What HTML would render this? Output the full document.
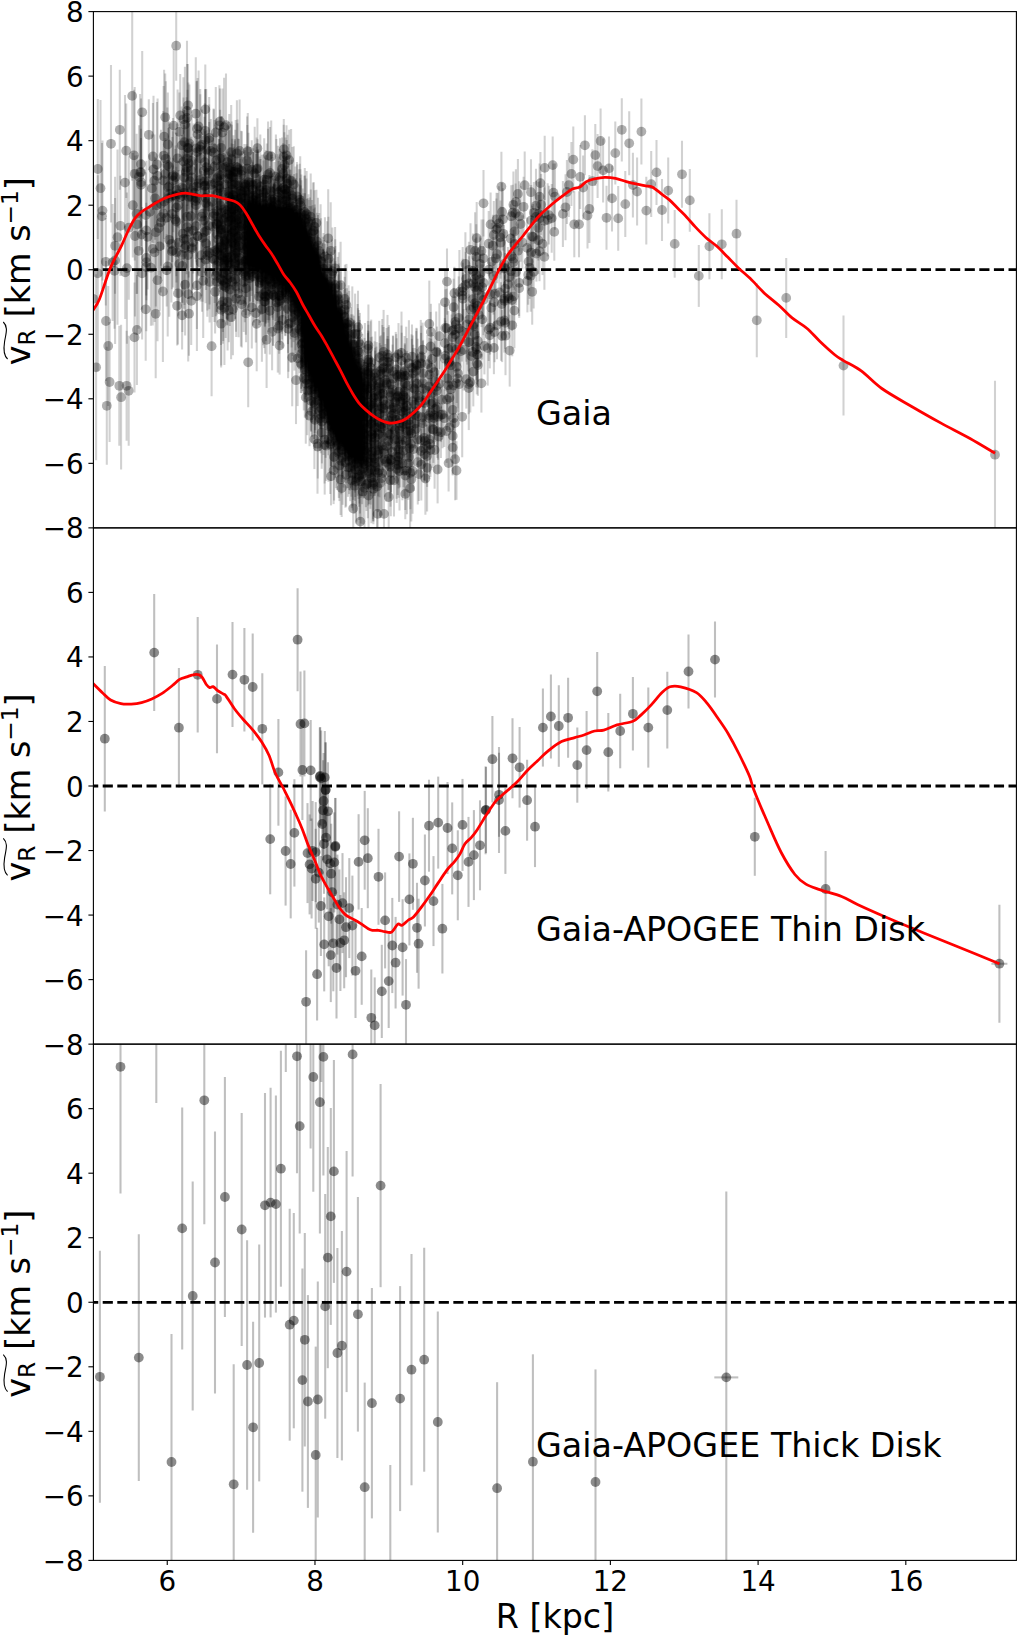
<!DOCTYPE html>
<html><head><meta charset="utf-8"><style>html,body{margin:0;padding:0;background:#fff;width:1020px;height:1637px;overflow:hidden}svg{display:block}</style></head>
<body><svg width="1020" height="1637" viewBox="0 0 1020 1637"><defs><clipPath id="c0"><rect x="93.4" y="11.60" width="923" height="516.27"/></clipPath><clipPath id="c1"><rect x="93.4" y="527.87" width="923" height="516.27"/></clipPath><clipPath id="c2"><rect x="93.4" y="1044.13" width="923" height="516.27"/></clipPath></defs><rect width="1020" height="1637" fill="#fff"/>
<filter id="bl" x="-10%" y="-10%" width="120%" height="120%"><feGaussianBlur stdDeviation="2.5"/></filter><path d="M245 199 L259 203 L271 205 L282 205 L289 207 L299 213 L303 219 L311 239 L322 265 L334 293 L343 317 L348 333 L353 352 L365 379 L365 463 L353 461 L348 455 L343 448 L334 437 L322 406 L311 381 L303 355 L299 317 L289 295 L282 285 L271 278 L259 271 L245 268Z" fill="#000" filter="url(#bl)"/><g clip-path="url(#c0)"><g stroke="#000" stroke-opacity="0.18" stroke-width="2.08" fill="none"><path d="M477.4 278.6V333.4"/><path d="M345.4 341.4V434.7"/><path d="M399.4 392.5V468.7"/><path d="M306.5 280.8V355.6"/><path d="M326.9 331V394.9"/><path d="M308.9 210.2V289.7"/><path d="M181.7 106.6V184"/><path d="M374.6 341.3V413.5"/><path d="M342.8 323V407.7"/><path d="M358.2 335.6V407.3"/><path d="M227.6 253.3V350.6"/><path d="M351.2 385.8V477.4"/><path d="M252.9 152V227.2"/><path d="M490.2 262.2V326.1"/><path d="M462.2 376.3V457.3"/><path d="M260.5 240.1V314.9"/><path d="M371.9 394.2V474.3"/><path d="M530.7 239.6V311.7"/><path d="M282.9 197.3V297.5"/><path d="M338.8 395.7V456.5"/><path d="M302.7 188.5V287.1"/><path d="M273.6 178.6V234.7"/><path d="M344.8 360.8V420.4"/><path d="M359.1 433.8V520"/><path d="M177.6 89.6V227.1"/><path d="M158.8 181.2V274.9"/><path d="M400.7 362.2V441"/><path d="M235.3 129.7V213.7"/><path d="M279.2 184.8V264.7"/><path d="M225.6 213.1V292.5"/><path d="M272.2 190.8V259.2"/><path d="M268.5 257.8V332.1"/><path d="M209.2 122V219.2"/><path d="M388.3 411.2V470.8"/><path d="M240.6 164.2V232.8"/><path d="M233.4 135.3V219.7"/><path d="M401.7 332.7V421.3"/><path d="M339.9 345.8V431.4"/><path d="M253.3 148.3V221.8"/><path d="M422.6 322.6V376.7"/><path d="M352.3 286.4V382.1"/><path d="M304.4 253.7V340.7"/><path d="M265.9 176.3V241"/><path d="M323.5 373.3V455"/><path d="M338.5 274.4V351.3"/><path d="M335.1 305.6V400.6"/><path d="M367.9 380V453.4"/><path d="M263.4 219.4V296.4"/><path d="M311.1 334.1V400.1"/><path d="M371.3 382.5V436.6"/><path d="M269.8 228.2V295.5"/><path d="M394.4 399.4V479.5"/><path d="M263.3 185.7V251"/><path d="M111 65.1V222.5"/><path d="M426.9 408.9V482.4"/><path d="M462 300.7V361.6"/><path d="M265.7 206V306.3"/><path d="M348.6 285.3V364.7"/><path d="M455.2 296.1V373"/><path d="M221.6 221.2V290"/><path d="M507.9 247.1V321.4"/><path d="M422.8 341.1V425.2"/><path d="M141 138.1V231.6"/><path d="M342.9 372.3V466.3"/><path d="M329.9 365.2V435"/><path d="M187 40.7V181.2"/><path d="M399.3 393.2V452.9"/><path d="M502.9 188.2V250.4"/><path d="M351.8 452.8V508.2"/><path d="M295.1 224.4V321"/><path d="M360.1 378.4V442.3"/><path d="M336.5 343.8V411.6"/><path d="M240.3 158.7V228.7"/><path d="M291.2 269.7V330.9"/><path d="M360.8 371.3V429.2"/><path d="M387.6 336V387.8"/><path d="M273.5 183.5V244.3"/><path d="M320.7 376.6V453.3"/><path d="M378.6 359.8V414.4"/><path d="M334.3 340.9V403.8"/><path d="M375.8 423V510.7"/><path d="M306 294.1V393.4"/><path d="M462.7 246.9V328.9"/><path d="M322.9 295V393.1"/><path d="M195.8 57.2V170.2"/><path d="M314.6 279.1V373.6"/><path d="M237.5 119.4V226.1"/><path d="M420.7 403.3V476.9"/><path d="M365.1 415.9V484.9"/><path d="M327.8 302.5V386.8"/><path d="M299.2 184.4V283.4"/><path d="M462.7 258.7V332.3"/><path d="M309.5 385.3V446.2"/><path d="M255.9 168V268.6"/><path d="M248.7 235.7V315.4"/><path d="M413.4 407.3V490.9"/><path d="M372.6 366.3V440.3"/><path d="M226 73.6V176.7"/><path d="M394 444.1V516.5"/><path d="M292.6 241V333.8"/><path d="M275 178.9V263.5"/><path d="M318 197.7V293"/><path d="M262.5 234.2V321.7"/><path d="M186.6 97.2V238.5"/><path d="M244.2 185.7V287"/><path d="M417.8 420V504.5"/><path d="M473.3 336.8V406.4"/><path d="M304.8 286.5V371.9"/><path d="M349.3 431.4V490"/><path d="M253.2 227.5V325.6"/><path d="M371.1 387.2V461.4"/><path d="M381.4 446.7V509.7"/><path d="M398.6 410.6V488.4"/><path d="M336.5 387.4V446.1"/><path d="M483.5 170.1V236.5"/><path d="M236.5 186.5V254.1"/><path d="M351 342.1V401"/><path d="M292.3 201.3V267.2"/><path d="M318.9 336.5V398"/><path d="M234.4 186.5V273.7"/><path d="M539.5 163.5V229.8"/><path d="M321.6 330.2V417.3"/><path d="M328 357.9V444.1"/><path d="M337 342V440.8"/><path d="M319.2 301.2V391.9"/><path d="M364.5 445.8V529.9"/><path d="M404 445.4V496.3"/><path d="M335.5 321V417.8"/><path d="M309.2 325.7V400.9"/><path d="M324.6 395.7V483.5"/><path d="M482.3 250V324.1"/><path d="M326.3 273.2V341"/><path d="M295.7 179.8V240.4"/><path d="M500.6 206.6V278.7"/><path d="M368.4 324.7V399.5"/><path d="M286.2 157V230.5"/><path d="M329.2 349.7V422.7"/><path d="M273.2 245.1V345.8"/><path d="M300.2 156.3V248.4"/><path d="M338.8 252.2V346.7"/><path d="M380.6 356V431.8"/><path d="M183.9 169V308.7"/><path d="M308.3 230.2V311.5"/><path d="M246.4 171.7V263.6"/><path d="M309.2 291.3V364.6"/><path d="M339 270.8V363.9"/><path d="M271 170.5V228.1"/><path d="M240 156.8V258.8"/><path d="M481.5 264.4V327.1"/><path d="M328.7 366.4V444.2"/><path d="M239.4 181.7V271.2"/><path d="M299.5 218.2V274.5"/><path d="M256 196.1V293"/><path d="M364.3 404.2V463.8"/><path d="M357.4 395.7V463.8"/><path d="M395.6 372.2V431.7"/><path d="M307.2 268.8V356.7"/><path d="M351.3 379.3V471.3"/><path d="M324.3 260.8V360.8"/><path d="M200.3 134.4V225.4"/><path d="M368.1 330.4V417.9"/><path d="M232.3 138.8V239.8"/><path d="M385.2 369.2V440.2"/><path d="M324 298.5V383.2"/><path d="M242.4 157.1V265"/><path d="M271.4 175.9V265.2"/><path d="M221.7 188.6V277.8"/><path d="M328.4 347.9V448"/><path d="M207.3 193.8V316.7"/><path d="M184.5 191.3V305.1"/><path d="M299.1 197.9V284.9"/><path d="M182.7 164.4V302.8"/><path d="M339.8 294.1V361.3"/><path d="M240.4 148.6V233.4"/><path d="M407 376.1V435.6"/><path d="M295 253.3V353.1"/><path d="M266.2 157.8V221.9"/><path d="M522.3 215.2V269.4"/><path d="M363.4 406.1V483.7"/><path d="M498.9 186.3V260.6"/><path d="M342.6 317.2V388.2"/><path d="M257.6 186.7V278.7"/><path d="M220.7 244.9V313.2"/><path d="M172.3 165.4V262.1"/><path d="M320.4 364.9V428"/><path d="M370.5 352.3V436.9"/><path d="M247.8 113.1V189.3"/><path d="M290.3 179.2V268.1"/><path d="M388.4 427.9V489.8"/><path d="M261.9 211.7V286.7"/><path d="M184.1 125.1V260.5"/><path d="M312.9 277.1V340.6"/><path d="M453.2 349.4V421.7"/><path d="M412.7 365.1V437.2"/><path d="M346.4 363.1V448"/><path d="M355.2 421.5V497"/><path d="M382.3 325V412.8"/><path d="M424.2 395.5V480"/><path d="M347.9 437.9V496.8"/><path d="M236.6 172.6V238.9"/><path d="M429 357.6V415"/><path d="M524.7 151.6V218.7"/><path d="M481.4 354V412.6"/><path d="M509.7 314.6V386.6"/><path d="M302.7 307V379.5"/><path d="M337 348.4V414.6"/><path d="M306.6 171V257.3"/><path d="M243.9 151.8V215.6"/><path d="M334.5 249.9V346.4"/><path d="M239.5 220.5V300.8"/><path d="M417.7 378.6V453.4"/><path d="M248.7 151.9V237.9"/><path d="M189.9 123.2V239.2"/><path d="M313.6 208.7V295.3"/><path d="M219.2 127.8V234.7"/><path d="M360.9 414.8V497.9"/><path d="M436.2 311.5V391.6"/><path d="M299.7 163.8V235.8"/><path d="M259.8 243V323"/><path d="M290.4 250.6V311.1"/><path d="M205.2 89V172.7"/><path d="M380 447.8V518.2"/><path d="M330.3 257.7V344.2"/><path d="M376.4 346.6V435.2"/><path d="M191.6 142.6V251.5"/><path d="M415.8 399.7V458.4"/><path d="M476.8 332V394.4"/><path d="M314.9 388.7V451.1"/><path d="M182.4 200.1V332"/><path d="M213.6 108.5V188.4"/><path d="M289.1 144.1V238"/><path d="M210.9 149.1V220.4"/><path d="M493.9 321.6V374.2"/><path d="M381.4 382.9V465.5"/><path d="M468.7 353.9V414.2"/><path d="M477.8 300.5V381.5"/><path d="M468.9 256.3V310.4"/><path d="M209.6 241.1V322.4"/><path d="M352.3 330.1V388.9"/><path d="M265.9 202.6V285.2"/><path d="M214.6 120.1V212.9"/><path d="M398.5 323.1V385.5"/><path d="M446.7 288.7V367.5"/><path d="M178.3 161.1V249.5"/><path d="M325 243.7V322.8"/><path d="M281 183.7V285.6"/><path d="M363.2 364.1V439"/><path d="M250.3 147.1V248.5"/><path d="M405.3 441.2V510"/><path d="M265.3 177.7V268.8"/><path d="M474.9 266.8V339.5"/><path d="M407.6 395.2V467.6"/><path d="M370.8 386.3V476.6"/><path d="M300.8 185.6V241.7"/><path d="M146.5 219.8V304.7"/><path d="M145.8 172.6V257.5"/><path d="M379.5 426.2V497.3"/><path d="M238.8 198.5V293.3"/><path d="M484.4 317.6V374.4"/><path d="M277.5 154.3V218.6"/><path d="M427.4 363.2V418.6"/><path d="M240.2 153.6V251.7"/><path d="M208.6 141.8V220.6"/><path d="M359.5 328.3V422.9"/><path d="M258 150.2V237.1"/><path d="M274.5 161.9V236.3"/><path d="M374 363.9V432"/><path d="M515.6 183.6V243.2"/><path d="M323.6 249.1V315.4"/><path d="M286 237.9V325.6"/><path d="M309.5 235.9V313.3"/><path d="M474.8 238.8V319.4"/><path d="M319.4 255.9V351.1"/><path d="M249.7 231.1V291.3"/><path d="M357.2 340.2V412.4"/><path d="M349.2 290.9V353.7"/><path d="M256.9 215V301.2"/><path d="M434.1 384.4V446.2"/><path d="M382.2 319V392.5"/><path d="M234.9 138.9V230.5"/><path d="M272.8 204.1V277.8"/><path d="M422.2 382.5V451.8"/><path d="M311.6 253.8V335.5"/><path d="M511.9 269.3V330.9"/><path d="M404.8 344.5V421.9"/><path d="M457.4 348.4V408.3"/><path d="M303.8 345.6V410.4"/><path d="M227.5 152.2V267.5"/><path d="M331 447.1V505.4"/><path d="M296.7 198.8V292.1"/><path d="M425.1 374.4V426.1"/><path d="M221 265.4V344.9"/><path d="M331.2 360.6V428.8"/><path d="M384.8 421.7V496.7"/><path d="M427.1 424.2V511.4"/><path d="M466.1 247.5V310.1"/><path d="M330.7 255.4V353"/><path d="M409.6 416.6V479.5"/><path d="M306.3 238.7V333.9"/><path d="M279.9 261.2V340.4"/><path d="M324.7 395V494.6"/><path d="M322.8 287.8V350.4"/><path d="M442.6 380.7V448.3"/><path d="M348.8 343.3V398.5"/><path d="M176.3 166.8V276.3"/><path d="M285.5 206.9V298.9"/><path d="M173.7 49.2V201.9"/><path d="M255.2 170.6V274.4"/><path d="M351.1 314.3V394.7"/><path d="M523.6 176.8V236.7"/><path d="M493.5 236.9V314.6"/><path d="M265.1 250.9V313"/><path d="M283.7 124.7V188.4"/><path d="M269.9 166.3V259.2"/><path d="M354.7 320.7V386.7"/><path d="M365.9 423.6V507.2"/><path d="M405.4 358.7V437.1"/><path d="M218.4 168.1V275.3"/><path d="M244.9 180.2V278.6"/><path d="M370.4 357.9V452.1"/><path d="M531.2 217.8V287.4"/><path d="M233.3 163.2V228.3"/><path d="M277 273.4V331.3"/><path d="M221.1 172.2V286.1"/><path d="M217.1 174.8V275"/><path d="M241.8 197.5V255.5"/><path d="M391.1 427.1V492.2"/><path d="M197.3 162.2V235.1"/><path d="M298.5 247.5V337.9"/><path d="M410.3 403.8V457.6"/><path d="M360.4 396V473.4"/><path d="M286.7 140V217.1"/><path d="M383.4 385.1V446.9"/><path d="M501.4 151.8V221.3"/><path d="M219.6 218.6V291.8"/><path d="M271.2 120.4V192.6"/><path d="M180.2 137.3V256.7"/><path d="M544.4 187.4V254.4"/><path d="M311.9 347.3V436.8"/><path d="M244 209.8V288.4"/><path d="M328.2 189.2V287.4"/><path d="M241.9 234.2V299.5"/><path d="M325.3 354.2V416.2"/><path d="M324.6 270.1V361.8"/><path d="M298.1 273.7V348.6"/><path d="M335.3 245.9V324.3"/><path d="M358.8 322.5V395"/><path d="M514.5 204.9V258.1"/><path d="M300.1 178.3V267.3"/><path d="M472.6 318.3V385.8"/><path d="M320.6 204.2V303.6"/><path d="M179.3 218.2V309.6"/><path d="M303.6 206.5V263.3"/><path d="M386.5 352.6V412.9"/><path d="M308.7 329V389.6"/><path d="M410.4 436.4V509.2"/><path d="M222.8 198.8V316"/><path d="M544.4 224.1V289.8"/><path d="M203.9 181.8V259"/><path d="M298.7 169.3V265.1"/><path d="M187 64.1V171.8"/><path d="M304.9 215.3V275.2"/><path d="M247.1 116.6V204.9"/><path d="M363.9 382.1V449.1"/><path d="M404.1 372.4V442.5"/><path d="M362.1 423.5V496"/><path d="M336.1 290.3V363.2"/><path d="M364 359.9V414.6"/><path d="M97.8 175.3V371.3"/><path d="M341.9 299.2V354.2"/><path d="M188.6 160.7V233"/><path d="M261.4 247.9V312.7"/><path d="M297.3 236.9V307.9"/><path d="M429.3 280.6V367.2"/><path d="M415.2 381.3V448.1"/><path d="M474.8 250.6V323.7"/><path d="M317.9 245.8V307.9"/><path d="M227.4 212.5V303.2"/><path d="M273.3 186.8V275.3"/><path d="M304.9 322V403"/><path d="M403.2 366.1V441.4"/><path d="M286.7 154V238.7"/><path d="M280 184.7V252.1"/><path d="M339.8 407.8V463.1"/><path d="M258.1 206.6V287.3"/><path d="M239.4 223.8V291.9"/><path d="M321.1 288V386.2"/><path d="M416.9 349.2V418"/><path d="M217.2 186.4V282.7"/><path d="M458 331.6V415.1"/><path d="M431 374.4V433.4"/><path d="M244.9 154.8V225.6"/><path d="M308.7 317.5V376.2"/><path d="M340.9 363.6V424.3"/><path d="M343.1 316.6V399.3"/><path d="M347.5 359.9V444.4"/><path d="M252 170.4V255.3"/><path d="M345.1 353.2V432"/><path d="M489 241.9V297.4"/><path d="M283.7 165.3V266.5"/><path d="M185.8 179.5V311.4"/><path d="M321.8 275.6V373.4"/><path d="M324.9 300.1V399.5"/><path d="M338.4 390.7V453.2"/><path d="M357.9 308.2V393.3"/><path d="M318.8 334.6V425.3"/><path d="M142.2 51.1V173.6"/><path d="M367 367.3V422.6"/><path d="M273.9 230.4V298"/><path d="M319.5 282.3V357.7"/><path d="M366.9 350.4V427.4"/><path d="M228.4 180.8V262.5"/><path d="M222.4 88.4V176.8"/><path d="M309.4 205.9V284.9"/><path d="M353.8 315.7V373.6"/><path d="M301.3 318.6V389"/><path d="M263.8 213.8V276.2"/><path d="M430.6 311.9V381"/><path d="M302.3 218.1V304.1"/><path d="M539.5 221.2V281.2"/><path d="M370.9 357.5V419.1"/><path d="M306.2 228.4V324.1"/><path d="M339.4 430.1V501.1"/><path d="M316.9 256V350.4"/><path d="M285.5 137.6V241.5"/><path d="M356.9 369.2V452.9"/><path d="M476.6 318.3V380.3"/><path d="M286.1 231.1V295"/><path d="M332.1 387V467"/><path d="M351 306.9V395.8"/><path d="M228.1 196.3V274.8"/><path d="M294.9 252.9V335.5"/><path d="M136.6 133.8V293.9"/><path d="M332.8 293.2V384.6"/><path d="M292.8 278.7V337.1"/><path d="M314.7 345.6V433"/><path d="M418.4 360.7V434.5"/><path d="M397 369.8V448.7"/><path d="M369 442.8V504.1"/><path d="M303.6 280.7V341.9"/><path d="M256.5 185.6V293"/><path d="M444.8 303.9V382.4"/><path d="M160.9 151.8V292.5"/><path d="M270.8 204.2V298"/><path d="M220 88.5V154.6"/><path d="M346.4 263.9V345.9"/><path d="M386.4 408.5V483.9"/><path d="M225.2 208.7V280.3"/><path d="M345.5 346.8V426.5"/><path d="M479.9 236.6V291.1"/><path d="M445 270.9V333.7"/><path d="M135 155.5V316.5"/><path d="M335.1 369.1V427.9"/><path d="M520.6 186.2V261.7"/><path d="M335.1 289.3V368.6"/><path d="M343.6 375V451.8"/><path d="M115.1 176.8V344"/><path d="M281.1 235.9V307.5"/><path d="M289.5 228.1V306.2"/><path d="M403.7 383.7V441.3"/><path d="M267.9 246.8V312"/><path d="M358.5 406.9V498.9"/><path d="M254.1 216.5V322.4"/><path d="M471.2 319.9V392.1"/><path d="M226.7 174.8V254"/><path d="M275.2 208.4V294.1"/><path d="M334.6 387.1V472.1"/><path d="M182.1 281.2V349.4"/><path d="M183.5 97.6V225.4"/><path d="M230.6 214.3V314.6"/><path d="M248.6 169.1V251.6"/><path d="M329 280.2V374.2"/><path d="M378.5 401.2V467.4"/><path d="M233.1 192.9V271.8"/><path d="M146.3 202.8V331.2"/><path d="M152.9 103V209.9"/><path d="M237.5 123.2V211.8"/><path d="M283.9 149.6V252.6"/><path d="M227.9 230V319.5"/><path d="M264.9 173.5V250.6"/><path d="M362.7 459.2V524.3"/><path d="M293.2 249.7V312"/><path d="M532 205.7V267.2"/><path d="M268.4 238.3V334.6"/><path d="M288.9 194.5V263.1"/><path d="M257.6 139.3V197.6"/><path d="M256.2 149.7V246"/><path d="M262.9 212.4V271.4"/><path d="M339.2 330V398.7"/><path d="M146.4 160.7V300.2"/><path d="M238.2 138.6V232.2"/><path d="M220.1 109.8V207.4"/><path d="M259.6 175.4V260.6"/><path d="M282.4 258.6V322.7"/><path d="M272.4 156.9V254.5"/><path d="M321.9 379.6V463.4"/><path d="M312 380.4V442.6"/><path d="M468.4 312.8V371.3"/><path d="M321.3 356.9V429.3"/><path d="M273.7 228.7V290.7"/><path d="M248.5 187.2V284.7"/><path d="M288.5 276.1V371.7"/><path d="M196 148.6V261.7"/><path d="M246.1 284.7V342.2"/><path d="M470.5 223.2V276.5"/><path d="M196.1 164V288.2"/><path d="M334.2 270.1V338"/><path d="M412.7 335.4V401.1"/><path d="M222.5 207.2V289.1"/><path d="M337.7 307.6V399.4"/><path d="M367 391.5V479.5"/><path d="M429.9 414.4V473.5"/><path d="M305 193.2V276.6"/><path d="M185.1 234V335.4"/><path d="M155.8 157.9V306.4"/><path d="M231.7 193.3V273.8"/><path d="M413.1 344.7V431.1"/><path d="M306.2 275.9V374.9"/><path d="M294.7 219.6V294.7"/><path d="M283.2 217V283.9"/><path d="M219.4 144.5V206.3"/><path d="M343.9 348.4V403.7"/><path d="M332.3 347.1V428.9"/><path d="M320 386V451.1"/><path d="M359.9 367.1V426.3"/><path d="M294.4 295.5V370.6"/><path d="M306.1 240.2V305.1"/><path d="M354.7 411.3V484.4"/><path d="M314.8 207.5V304.5"/><path d="M300.3 197.2V265.6"/><path d="M279.9 204.3V305.8"/><path d="M126.9 192.5V343.8"/><path d="M391.7 390.7V463"/><path d="M438.7 399.6V473.4"/><path d="M512.7 184.8V240.6"/><path d="M483.3 219.6V297"/><path d="M366.5 414.2V492.3"/><path d="M245.8 242V334.7"/><path d="M245.5 148V221.8"/><path d="M397.7 426.5V495"/><path d="M214.4 197.4V322.1"/><path d="M465.6 251.7V318.4"/><path d="M355.5 345.9V421.7"/><path d="M266.8 211.1V281.4"/><path d="M346.9 424.8V488.2"/><path d="M273.8 181V239.5"/><path d="M532.2 258.8V324.7"/><path d="M132.2 11V180.8"/><path d="M353.5 322.3V412.9"/><path d="M291.6 247.1V347.5"/><path d="M386.4 422.3V501.8"/><path d="M272.1 227.7V307"/><path d="M469.2 294.2V344.7"/><path d="M256.7 146.7V221.2"/><path d="M218.7 227.1V295.9"/><path d="M154.6 182.7V322.1"/><path d="M268 128.8V220.2"/><path d="M354 319.7V382.8"/><path d="M262.6 187.9V280.9"/><path d="M338.8 404.9V497.9"/><path d="M398.7 432.2V497.8"/><path d="M313.9 365V439"/><path d="M371.4 432.9V523.2"/><path d="M175.5 132.6V221.6"/><path d="M268.6 159.4V241.9"/><path d="M244.8 221.3V322.3"/><path d="M462.8 272.8V324.5"/><path d="M405.9 368.9V452.5"/><path d="M444.3 389.3V447"/><path d="M345.1 400.3V457.3"/><path d="M459.1 355.8V412.6"/><path d="M353.2 373.5V432.2"/><path d="M248 209.2V310.7"/><path d="M169.1 121.6V211.7"/><path d="M301.5 300V388.4"/><path d="M157.5 219.2V341.2"/><path d="M375 347.7V424.6"/><path d="M264.9 265.5V327.1"/><path d="M178.2 160.5V228"/><path d="M297.6 241.5V301.5"/><path d="M340.1 306.8V393.4"/><path d="M231.6 143.6V224.8"/><path d="M448.9 330.9V394.5"/><path d="M301.5 336.5V393.2"/><path d="M355.8 351V428.7"/><path d="M335.2 239.2V337.1"/><path d="M539.5 181.3V255.4"/><path d="M366.4 340.8V423.2"/><path d="M207.4 191.4V310.4"/><path d="M351.3 391.7V473.9"/><path d="M284.2 229.5V315.6"/><path d="M228.8 125.7V223.4"/><path d="M329.5 320.4V413.1"/><path d="M188.2 211.3V298.7"/><path d="M381.3 380.6V433.1"/><path d="M328 280.5V365.6"/><path d="M303.3 193.3V287.4"/><path d="M274.5 175.9V262"/><path d="M397.9 352.6V439.1"/><path d="M456.5 441.2V499.8"/><path d="M252.7 162.2V243.6"/><path d="M347.9 298.5V387.1"/><path d="M282.1 251.7V333.7"/><path d="M276.4 139V239.3"/><path d="M528.2 244.8V304.7"/><path d="M228.4 175V237.2"/><path d="M145.7 257.8V360.8"/><path d="M410.6 417.3V470.5"/><path d="M538.4 182V245.6"/><path d="M114.5 213.1V328.8"/><path d="M236.2 203.8V272.2"/><path d="M275.4 244.3V321"/><path d="M342.2 412.8V479.6"/><path d="M293.8 255.3V318.1"/><path d="M177.1 266.2V345.4"/><path d="M209.2 97.1V178.8"/><path d="M452.7 368.8V451.1"/><path d="M247.8 202.9V308.2"/><path d="M223.5 135.8V200"/><path d="M284.7 154.4V224.6"/><path d="M329.6 278.4V345.4"/><path d="M335.7 330.4V396.1"/><path d="M228.9 278.8V342.2"/><path d="M231.7 121.4V196.8"/><path d="M247.3 216.1V277.5"/><path d="M403 367.7V432.1"/><path d="M348.3 363.3V459.7"/><path d="M361.6 342.3V421.6"/><path d="M476.1 306.6V387.2"/><path d="M434.6 411.3V488.7"/><path d="M345.3 384V471.4"/><path d="M302.8 291.5V383.7"/><path d="M417.7 338.7V392.4"/><path d="M406.9 427.3V514.2"/><path d="M343.5 395.9V487.6"/><path d="M167.8 92.5V196.5"/><path d="M351.7 397.6V487.4"/><path d="M241.2 166.4V228.5"/><path d="M396.7 338.3V411.3"/><path d="M355.6 371.3V428.1"/><path d="M202.6 174V301.8"/><path d="M303.2 227.4V314.6"/><path d="M350.4 363.3V418.3"/><path d="M431.2 338.8V397.2"/><path d="M265.9 252.3V341.1"/><path d="M237.1 219.3V285.9"/><path d="M290.9 237.9V316.1"/><path d="M407.1 338.1V412.5"/><path d="M176.5 207.6V296.8"/><path d="M287.7 166.1V247.8"/><path d="M408.8 382.4V458.5"/><path d="M171.9 213.4V289.3"/><path d="M259 174.5V269.3"/><path d="M380.9 335.3V412.7"/><path d="M281.7 168.1V270.8"/><path d="M296.9 161.9V231.1"/><path d="M262.8 237V294.4"/><path d="M193.2 187.7V273.4"/><path d="M224.7 215.8V305.9"/><path d="M355.1 366.3V461.7"/><path d="M173 117.9V243.1"/><path d="M516.1 239V305.3"/><path d="M268.1 121.6V189.7"/><path d="M316.6 248.5V310.3"/><path d="M366.9 409.6V468.8"/><path d="M370.4 342.6V403.3"/><path d="M448.2 344V426.8"/><path d="M251.7 140.3V199"/><path d="M419.3 367.9V434.3"/><path d="M270 226.6V287.8"/><path d="M276.6 249.7V324.2"/><path d="M245.1 150.3V246.1"/><path d="M305.9 239.1V328.8"/><path d="M314.3 281.5V380.6"/><path d="M376.3 414.9V474.2"/><path d="M188.4 82.4V213.9"/><path d="M338.1 371.5V456.6"/><path d="M250 230.4V314.2"/><path d="M225.9 133.8V199.5"/><path d="M476.9 324.7V384.4"/><path d="M519.1 260.5V316"/><path d="M375.2 393.7V471.5"/><path d="M308.5 194.2V251.3"/><path d="M368.5 331.2V388.2"/><path d="M440.9 406.5V458"/><path d="M412.6 428.3V513.8"/><path d="M310 197.4V279.3"/><path d="M370.5 321.2V413.8"/><path d="M350.5 358.4V429.3"/><path d="M218.3 196.9V282.2"/><path d="M261.7 154.8V240.4"/><path d="M181.9 206.7V302.8"/><path d="M287.9 254.2V344.1"/><path d="M341.4 293.8V379.5"/><path d="M309.5 266.3V326"/><path d="M286.8 183.9V257.8"/><path d="M244.3 178.1V257.2"/><path d="M326.2 410.5V480.9"/><path d="M308.6 255.7V337.4"/><path d="M366.7 387.7V468"/><path d="M235.2 209.9V314.9"/><path d="M307.4 289.6V389.4"/><path d="M275.7 251.1V342.8"/><path d="M348.2 331.3V426.2"/><path d="M206.1 197V290.1"/><path d="M265.8 225.5V322.6"/><path d="M454.4 266.8V319.7"/><path d="M351.3 371.2V444.2"/><path d="M305.4 331V389.4"/><path d="M327.1 375.9V446.9"/><path d="M339.4 396.8V475.6"/><path d="M197 80.7V177"/><path d="M396.2 429.5V483.2"/><path d="M259.6 156.5V258.7"/><path d="M246.4 202.6V297.1"/><path d="M348.3 370.1V428.4"/><path d="M504.6 231.4V306"/><path d="M481.5 219.5V282.5"/><path d="M434.3 335.2V408.9"/><path d="M234.3 210.1V306.4"/><path d="M348.5 324.8V379.3"/><path d="M315.2 218.2V302.2"/><path d="M326.8 260.8V324.5"/><path d="M390.1 400V468.9"/><path d="M347.6 300.5V355.9"/><path d="M358 290.7V363.7"/><path d="M361.2 360.5V439"/><path d="M515.9 169.2V234.6"/><path d="M205 131.2V252"/><path d="M476.7 201.9V274.4"/><path d="M453.6 278.7V335.6"/><path d="M487.7 310.6V385.6"/><path d="M495.8 223.3V293.3"/><path d="M342.6 318.4V407.5"/><path d="M333.6 436.6V504.1"/><path d="M373.6 398.2V485.3"/><path d="M209.3 236V309.2"/><path d="M175.6 145.5V246.8"/><path d="M340 362.1V456.2"/><path d="M355 438V500.8"/><path d="M391.3 367.4V452"/><path d="M231.2 166.7V251.3"/><path d="M366.5 458V511"/><path d="M353.8 321.5V417.5"/><path d="M202 232.7V311.8"/><path d="M265.8 150.2V236.1"/><path d="M196.5 81.3V215.2"/><path d="M499.4 263.8V321.2"/><path d="M253.4 152V248"/><path d="M286.9 208.6V267"/><path d="M282 195.7V260.3"/><path d="M332.4 313.6V407.7"/><path d="M510.9 238.1V304.2"/><path d="M266.1 155.1V239.1"/><path d="M344.1 377V467.3"/><path d="M336.8 370.9V442.1"/><path d="M102 143V289.6"/><path d="M447.3 337.6V419.3"/><path d="M213.8 109.3V195.7"/><path d="M253.6 152.2V239.4"/><path d="M536.4 225.5V281.6"/><path d="M237.2 214V287.6"/><path d="M352 366.4V439.1"/><path d="M355.1 293.6V373.9"/><path d="M268.8 172.4V243.6"/><path d="M190.9 165.5V266.9"/><path d="M511.2 185.2V247.2"/><path d="M256.6 137.4V200.8"/><path d="M396.7 434.7V502.9"/><path d="M363.2 402.1V478.1"/><path d="M313.8 244.6V301"/><path d="M337.8 401.2V484.7"/><path d="M251.6 209.5V266.1"/><path d="M513.4 171.4V238.1"/><path d="M362.4 333.9V410.9"/><path d="M309.9 300V359.8"/><path d="M489.8 302.3V368.4"/><path d="M290.7 174.6V241.3"/><path d="M331.1 251.7V321.6"/><path d="M329.4 268.4V330.7"/><path d="M313.9 255.7V353.4"/><path d="M344.9 288.7V358.9"/><path d="M331.3 328.1V422"/><path d="M282 265.5V331.6"/><path d="M360.8 439.5V523.5"/><path d="M239.6 99.4V202.3"/><path d="M277.7 238.8V322.8"/><path d="M277.8 284.4V372.6"/><path d="M287.4 203.9V262.2"/><path d="M366 386.6V471.4"/><path d="M231.2 105.1V199.5"/><path d="M278.6 222.5V324.6"/><path d="M504.3 265.9V335.5"/><path d="M292.8 175.8V277"/><path d="M282.9 204.8V282.8"/><path d="M332 316.2V383.3"/><path d="M282.1 236.2V339.5"/><path d="M305.3 204.8V267.6"/><path d="M448.2 311.1V386.7"/><path d="M306.3 354.9V412.5"/><path d="M423 360.7V417.2"/><path d="M491.3 279.4V336.5"/><path d="M226.3 172.9V284.2"/><path d="M333.6 315.5V385.9"/><path d="M226.2 160.5V274.7"/><path d="M346.6 330.1V419.2"/><path d="M349.3 378V466.6"/><path d="M341.7 282.9V345.7"/><path d="M425.4 442.2V514.8"/><path d="M458.6 292.4V364.3"/><path d="M378.1 412.6V496.4"/><path d="M450.9 336.6V394"/><path d="M364.2 346.1V433.2"/><path d="M292.4 217.1V304.6"/><path d="M444.8 318.1V399.3"/><path d="M377.8 433.7V512.2"/><path d="M380.1 336.3V406.2"/><path d="M315.8 322.2V404.6"/><path d="M351.6 360.8V456.7"/><path d="M264.8 242.9V325.8"/><path d="M459.9 314.5V365.7"/><path d="M308.7 199.8V282.2"/><path d="M304.8 175.4V268.3"/><path d="M505.5 296.1V375.2"/><path d="M396.6 430.8V498.8"/><path d="M326.5 358.7V422.9"/><path d="M313.2 344.5V411.5"/><path d="M277.9 145.8V248.7"/><path d="M276.7 226.7V283.8"/><path d="M368.2 433.9V489.6"/><path d="M201.4 170.9V262.4"/><path d="M217.2 230.8V314.4"/><path d="M293.7 226.1V305.8"/><path d="M191.9 141.8V213"/><path d="M367.9 333.1V409"/><path d="M224 155V264"/><path d="M358.7 310V374.4"/><path d="M295.4 166.6V267.2"/><path d="M246.2 159.3V248.3"/><path d="M360.8 381.6V451"/><path d="M293.1 177.6V235.8"/><path d="M356.3 340.7V411.7"/><path d="M227.5 227.6V292.7"/><path d="M146.3 220.4V295.4"/><path d="M429.2 399.8V479.2"/><path d="M455.4 292.2V351.4"/><path d="M467.2 284.4V364.6"/><path d="M318.3 269.8V344.9"/><path d="M159.7 182V310.8"/><path d="M223 238.8V322.3"/><path d="M390.6 352.7V439.6"/><path d="M355.2 394.2V470.9"/><path d="M373.4 430.8V524.3"/><path d="M346 321.9V404"/><path d="M232.8 149.5V240.3"/><path d="M352.5 314.4V374.5"/><path d="M256.7 276.5V371.3"/><path d="M240.9 253.4V346.6"/><path d="M456.6 330.4V403"/><path d="M184.9 66.8V182.4"/><path d="M281.1 207.7V265.7"/><path d="M390.5 453.7V506.7"/><path d="M278.4 168.4V241.3"/><path d="M340.9 316.5V403.9"/><path d="M313.6 284.9V386.6"/><path d="M470.3 351.9V412.5"/><path d="M193 194.3V289.7"/><path d="M157.6 98.6V253.1"/><path d="M315.3 312V388"/><path d="M120.4 175.7V276"/><path d="M414.9 348V430.2"/><path d="M176.4 132.7V282.6"/><path d="M321.2 309.6V405.1"/><path d="M212.8 133.2V245.9"/><path d="M238 201.4V270.3"/><path d="M200.3 94.2V205"/><path d="M477.9 334.2V395.8"/><path d="M519.2 247.8V317.9"/><path d="M352.7 335.6V432"/><path d="M221 117V178.6"/><path d="M544.7 135.7V200"/><path d="M502.1 309.8V362.1"/><path d="M320.6 317.6V398.6"/><path d="M409.8 389.4V460.3"/><path d="M328.4 216.8V300.6"/><path d="M324.2 348.8V417.9"/><path d="M541.2 174V235.2"/><path d="M316.8 212.7V269.9"/><path d="M357.7 391.7V483.1"/><path d="M388.4 326.9V388.7"/><path d="M238.4 186.9V251.9"/><path d="M399.4 374.1V463.8"/><path d="M225.7 235.9V338.1"/><path d="M253 218.3V301.9"/><path d="M176.8 123.4V256.3"/><path d="M511.6 218.5V293.8"/><path d="M367.8 448.8V518.3"/><path d="M212.7 200.2V317"/><path d="M313.9 182.2V279"/><path d="M294.4 186.4V278"/><path d="M217.6 149.9V236.6"/><path d="M380.9 396.3V457.5"/><path d="M245.2 188V284.4"/><path d="M330.7 202.2V299.3"/><path d="M423.8 414.6V482.4"/><path d="M236.2 260.3V337.1"/><path d="M229.5 130.3V205.5"/><path d="M340.7 352.6V419"/><path d="M458.7 276.4V359.4"/><path d="M494.2 274.4V329.9"/><path d="M367.2 355.1V449.4"/><path d="M183.3 154.3V222.8"/><path d="M346.2 306.8V391.9"/><path d="M309.4 313.3V376.7"/><path d="M342 304.3V398"/><path d="M249.6 147.2V239.4"/><path d="M348.3 297.4V369.5"/><path d="M430.4 422.9V477.1"/><path d="M187.1 163.2V270.2"/><path d="M292.7 278.6V356"/><path d="M235.7 120.1V213.2"/><path d="M280.4 212.9V287.6"/><path d="M356.8 420.4V505.6"/><path d="M359.9 312.9V375.9"/><path d="M299.5 221.1V313.5"/><path d="M375.4 393.5V481.9"/><path d="M408.9 422.6V491.4"/><path d="M309.4 311V395.2"/><path d="M390.8 429.6V516.2"/><path d="M229.8 253.1V325.9"/><path d="M221.1 280V367.5"/><path d="M350.5 340.7V429.3"/><path d="M281.6 190.1V257.7"/><path d="M263.3 177.2V269.3"/><path d="M228.6 157.2V235.7"/><path d="M141.7 159.5V309.6"/><path d="M435.3 375.9V442.1"/><path d="M384.4 420.5V485.9"/><path d="M216.7 218.7V312"/><path d="M317.6 263.4V358.8"/><path d="M237.8 177.9V268.6"/><path d="M212.1 140.5V263.1"/><path d="M490.6 192.6V256.2"/><path d="M322 356.7V436.9"/><path d="M252.4 199V282.8"/><path d="M262.1 223V286.8"/><path d="M320.5 373.3V441"/><path d="M205.3 89.5V190.7"/><path d="M416.4 327.8V400.2"/><path d="M309.8 266.1V343"/><path d="M477.1 264.9V316"/><path d="M175.3 149V290"/><path d="M311.7 245V314.3"/><path d="M217 217V287.4"/><path d="M279.6 195.3V286.7"/><path d="M269.4 232.1V326.7"/><path d="M337.2 339.2V408.8"/><path d="M368.6 452.1V529.9"/><path d="M248.5 132.8V231.6"/><path d="M472.8 257.7V340.5"/><path d="M304.9 270.5V355.8"/><path d="M223.2 230V341"/><path d="M168.2 152.4V222.3"/><path d="M188.7 186V277.5"/><path d="M245.7 216.5V304.1"/><path d="M355.1 435.8V492.6"/><path d="M234.8 140.5V224.4"/><path d="M310.6 273.8V332.6"/><path d="M296 336.3V424.1"/><path d="M475.1 212.2V289.5"/><path d="M237.3 232V309.6"/><path d="M357.7 410V471.8"/><path d="M329.9 328.8V410.9"/><path d="M347.8 420V476.8"/><path d="M187.2 166.5V287.8"/><path d="M302.5 308.1V390.9"/><path d="M331.5 260.1V316.4"/><path d="M341.2 427.4V494.3"/><path d="M371.1 351.3V420.3"/><path d="M340.4 380.9V457.7"/><path d="M332.9 400V461.6"/><path d="M213.2 155.3V277.4"/><path d="M191.2 256.7V345.1"/><path d="M238.3 184.4V289"/><path d="M392.5 344.6V434.8"/><path d="M310.8 189.4V254.1"/><path d="M529.6 236.6V298.9"/><path d="M334.2 272.5V352.6"/><path d="M227.1 214.6V325.5"/><path d="M324.5 337.8V396.2"/><path d="M298.2 226.8V294.5"/><path d="M224.1 77.8V176.5"/><path d="M112.6 204.1V320.9"/><path d="M327.2 320.9V407.2"/><path d="M340.6 443.7V515.1"/><path d="M227.1 209.9V319.8"/><path d="M316.9 276.2V371.5"/><path d="M306.7 279.9V360.7"/><path d="M245.2 234.5V304.7"/><path d="M370.7 413.7V496.2"/><path d="M188.4 115.6V189.8"/><path d="M283.2 144.9V202.6"/><path d="M272.1 293.4V370.3"/><path d="M341.8 404.1V474.1"/><path d="M262.9 179.2V244"/><path d="M282.5 291.7V348.3"/><path d="M533.1 204.1V269.8"/><path d="M266.6 291.6V388"/><path d="M235.9 175.2V258.2"/><path d="M396.1 418.3V474.2"/><path d="M282 137.4V200.5"/><path d="M303.3 245.3V320.4"/><path d="M253.1 197.6V254.3"/><path d="M291.8 159.8V231.1"/><path d="M347.2 317.3V395.2"/><path d="M336 302V390.3"/><path d="M271 154.7V228"/><path d="M247.8 173.1V255.4"/><path d="M447 369.3V429.9"/><path d="M344.6 367.5V455.6"/><path d="M344.9 264.7V333.4"/><path d="M284.2 161.3V248.3"/><path d="M301.3 253.7V336.7"/><path d="M332.4 227.4V315"/><path d="M212.3 191.6V261.4"/><path d="M358.6 391V457.8"/><path d="M359.9 427V513.5"/><path d="M374 376.2V439"/><path d="M191.8 153.2V227.8"/><path d="M249.2 181.4V279.1"/><path d="M221.8 116.3V198.8"/><path d="M115.1 197.9V293.7"/><path d="M318.9 307.9V398.2"/><path d="M345 391.7V458.8"/><path d="M544.5 185.6V241.1"/><path d="M433.9 392.3V443.6"/><path d="M336 323V410"/><path d="M338.2 341.9V422.2"/><path d="M206.2 88.9V210.6"/><path d="M204.3 191.1V273"/><path d="M288 265.2V352.9"/><path d="M265.2 203.1V265.8"/><path d="M358.5 353.3V438.1"/><path d="M216.6 241.1V322.6"/><path d="M279.1 217.8V306.5"/><path d="M359.8 319.9V405.5"/><path d="M293.6 275.8V342.1"/><path d="M362.1 444.3V504.2"/><path d="M402.4 426.2V500.3"/><path d="M275.7 227V298.3"/><path d="M495 256.9V330.5"/><path d="M319.9 299.9V360.7"/><path d="M235.2 238.9V319.1"/><path d="M371.7 416.6V486.8"/><path d="M381 392.2V464.7"/><path d="M373.4 393.8V450.4"/><path d="M312.1 200V267.1"/><path d="M171.4 123.3V269.6"/><path d="M361.4 372.1V437.8"/><path d="M328.4 306.8V364.9"/><path d="M248.3 189.8V256.7"/><path d="M381.3 345.2V431.5"/><path d="M259.9 159.3V221.2"/><path d="M208.3 134.4V211.7"/><path d="M392.9 335.4V407.3"/><path d="M279.2 297.7V353.8"/><path d="M459.4 250.1V333.7"/><path d="M267.1 213.2V295.5"/><path d="M408.3 426.9V499.8"/><path d="M253.2 178.4V244.9"/><path d="M203.2 223.6V338.1"/><path d="M333.2 378.8V462.2"/><path d="M251.8 217.2V290.7"/><path d="M281.7 224.9V296.5"/><path d="M317.5 230.3V287.3"/><path d="M203 176.7V250.5"/><path d="M260.3 134.6V238.9"/><path d="M225.1 189.9V291.2"/><path d="M359.3 446.7V503.5"/><path d="M198.7 134V232.7"/><path d="M354.9 372.1V462.8"/><path d="M252.7 170.3V272.9"/><path d="M342.5 342.4V398.3"/><path d="M401.6 416.5V473.1"/><path d="M350.7 331.7V389.3"/><path d="M350.2 433.6V501.2"/><path d="M184.4 110.3V245"/><path d="M197 118.9V185.3"/><path d="M141 98.5V246"/><path d="M137.1 155.2V293.7"/><path d="M321.1 218.2V304.2"/><path d="M337.7 256.9V333.3"/><path d="M332.3 268.6V359.9"/><path d="M326.7 274.9V356.2"/><path d="M340.8 271.5V350.3"/><path d="M221.2 207.4V285.5"/><path d="M428.9 378V453"/><path d="M505 240.1V295.7"/><path d="M273.9 240.4V296.7"/><path d="M320.4 348.6V425.5"/><path d="M330.6 289.5V357.8"/><path d="M355.8 359.1V449.1"/><path d="M319.3 250.3V310"/><path d="M504.4 288.4V352.6"/><path d="M311.1 330.7V410.3"/><path d="M266.2 185.8V262.3"/><path d="M379.9 369.9V457.4"/><path d="M388.7 462V529.9"/><path d="M297.2 164.4V255.1"/><path d="M351.3 405.2V496.7"/><path d="M198.6 70.5V182.5"/><path d="M283.9 247.5V311.3"/><path d="M153.5 95.7V243"/><path d="M305.5 292.9V364"/><path d="M402.2 405.6V474.2"/><path d="M259 213.2V270.5"/><path d="M383.7 332.2V403.1"/><path d="M138.7 172.8V328.8"/><path d="M117.5 149.6V324.8"/><path d="M267.4 227.8V300.2"/><path d="M264.2 138.2V221"/><path d="M166.4 160.9V274.9"/><path d="M312.6 292.9V384.2"/><path d="M151.9 134.4V242.4"/><path d="M344.9 401.1V462.8"/><path d="M233.4 143.9V200.2"/><path d="M191.9 195.3V299.5"/><path d="M337.5 401.8V459"/><path d="M235.1 223.2V305"/><path d="M527.4 249.6V312.4"/><path d="M140.9 114.7V213.6"/><path d="M336.9 401V490"/><path d="M294 214.2V287.6"/><path d="M197.6 196.3V276.6"/><path d="M232.1 212.3V272.4"/><path d="M302.5 196.1V265.9"/><path d="M205.6 216.1V303.2"/><path d="M304.5 175.8V247.9"/><path d="M412.9 348.1V398.5"/><path d="M445.4 320.6V390.7"/><path d="M340.4 313.3V372.5"/><path d="M504.3 272.1V325.4"/><path d="M331.4 371.5V453.4"/><path d="M263.1 243.1V345.3"/><path d="M227.3 234.6V324.7"/><path d="M307.2 208.5V301.3"/><path d="M390.2 435.1V498.4"/><path d="M331 401.5V481.1"/><path d="M307.3 346.1V435.2"/><path d="M292.4 147.1V250.2"/><path d="M347.3 344.1V417.5"/><path d="M286.6 204.6V293.5"/><path d="M285.3 248.7V335.6"/><path d="M376.7 366.3V438.3"/><path d="M305.9 280.8V341.2"/><path d="M395.8 331.9V382.9"/><path d="M256.1 153.8V257.1"/><path d="M328.2 282.6V353.5"/><path d="M370.8 423.4V493.6"/><path d="M270 127.1V218.9"/><path d="M229.4 209.8V289"/><path d="M374.6 373.3V460.4"/><path d="M317.4 286.2V379.1"/><path d="M314.5 190.3V263.1"/><path d="M285.8 238.1V333"/><path d="M270.7 185.4V284.7"/><path d="M304.8 167.9V262.8"/><path d="M309.4 317.9V380.9"/><path d="M341.4 343.3V430"/><path d="M273 258.8V319.8"/><path d="M155.7 249.4V378.3"/><path d="M282.7 205.1V299.1"/><path d="M168.3 128V268.5"/><path d="M313.4 245.2V341.6"/><path d="M395.8 387.6V452"/><path d="M315.9 341.3V422.9"/><path d="M379.1 429V511.5"/><path d="M269.3 230.9V320.2"/><path d="M383.6 327V396.2"/><path d="M291.8 188.5V270.7"/><path d="M306.4 178.6V259.4"/><path d="M324.7 295.8V370.4"/><path d="M315.8 268V364.1"/><path d="M353.2 466.2V529.9"/><path d="M188 64.1V146.5"/><path d="M350 403.1V490.6"/><path d="M311.5 343.3V422.4"/><path d="M342.4 372.7V428.4"/><path d="M452.7 420.7V474.6"/><path d="M307.6 198.1V254.5"/><path d="M167.3 107.6V221.9"/><path d="M264.1 254.8V348.1"/><path d="M187 106.4V211.1"/><path d="M356.5 377.4V465.8"/><path d="M473.8 269.7V345.8"/><path d="M230.6 124.1V224.4"/><path d="M375.6 408.1V493.4"/><path d="M323.5 232.9V305"/><path d="M355.9 439.4V523.6"/><path d="M285.9 175.9V279.6"/><path d="M472.8 299.1V351"/><path d="M334.1 413.4V500.5"/><path d="M251.6 196.7V296"/><path d="M185.8 126.5V217.3"/><path d="M194.7 159.5V226.3"/><path d="M455.1 418.1V500.3"/><path d="M407 350.8V420.9"/><path d="M332.7 394.6V470.8"/><path d="M356.7 354.5V414.7"/><path d="M397.1 401.6V477.3"/><path d="M305.8 351.2V443.7"/><path d="M316.5 337.4V393.6"/><path d="M244 173.4V251.1"/><path d="M218.9 139V231.9"/><path d="M247.4 196.8V255.9"/><path d="M358.6 378.5V432.2"/><path d="M301.6 227.5V283.6"/><path d="M316.5 309.2V370.6"/><path d="M172.3 136.9V216"/><path d="M310.9 370.9V430.7"/><path d="M346.5 384.1V459.6"/><path d="M333 303.1V384.1"/><path d="M268.5 197.1V276.8"/><path d="M166.7 234.2V306.5"/><path d="M375.3 331.4V415.6"/><path d="M236.2 177.3V251.6"/><path d="M333.7 356.4V432.7"/><path d="M331.7 283.6V380.5"/><path d="M327.1 221.3V315.3"/><path d="M274.4 171V233.4"/><path d="M268.2 217.2V322.7"/><path d="M320.4 338.8V428.7"/><path d="M272.5 175.8V280.7"/><path d="M335.2 293.2V389.6"/><path d="M406.8 392.3V457.6"/><path d="M315.2 372.7V435.4"/><path d="M293.8 146.3V222.5"/><path d="M333.2 353.7V421.4"/><path d="M301.9 246.1V323.5"/><path d="M224.2 228.3V300.2"/><path d="M229.8 147.1V248"/><path d="M422.8 380.4V466.4"/><path d="M238.6 249.2V337.3"/><path d="M277.8 186.7V270.8"/><path d="M180.2 73.9V156.9"/><path d="M282.8 221.3V296.5"/><path d="M483.4 264.6V335.2"/><path d="M383.6 309.9V394"/><path d="M220.7 184V276.2"/><path d="M289.2 226.2V292.2"/><path d="M322.5 351V417.7"/><path d="M169.2 127.1V260.6"/><path d="M161.2 168.8V265.7"/><path d="M351.4 335.7V419.7"/><path d="M274.9 233.8V324.4"/><path d="M359.1 386.2V444.7"/><path d="M368.4 304.5V386.5"/><path d="M214.6 199V303"/><path d="M377.1 443.6V529.5"/><path d="M302.4 296.5V367.5"/><path d="M304.9 316.2V399.2"/><path d="M478.8 277.9V352"/><path d="M354.1 377.8V474.1"/><path d="M305.9 269.5V341.7"/><path d="M462.8 262.7V320.3"/><path d="M297.6 240.9V339.5"/><path d="M370.7 433.6V504.6"/><path d="M237.2 181.1V240.2"/><path d="M324.9 217.3V295.5"/><path d="M466.3 304.2V361.7"/><path d="M219.2 139.2V237"/><path d="M327.6 326.9V383.8"/><path d="M315.7 235.2V332.7"/><path d="M295.3 250.6V308.8"/><path d="M367.9 320.9V376.8"/><path d="M253.3 199V281.2"/><path d="M224.5 206.8V276.8"/><path d="M302.6 281.4V363.5"/><path d="M548.9 185.8V244.4"/><path d="M265.8 259.5V323.8"/><path d="M339.9 329.4V410.1"/><path d="M455.7 297.5V351.4"/><path d="M447 248.5V314.7"/><path d="M398.7 364.8V418.6"/><path d="M204.4 146.2V225.9"/><path d="M437.3 405V457.9"/><path d="M200.2 89V204"/><path d="M227.3 125.2V198.9"/><path d="M241.1 130.7V218.8"/><path d="M354.6 457.7V513.7"/><path d="M330.9 373.7V466"/><path d="M315 230.9V303"/><path d="M373.2 448.3V521.2"/><path d="M346 387.5V451.7"/><path d="M514.4 272.9V348.2"/><path d="M243.5 233.9V311.9"/><path d="M416.3 331.1V410.5"/><path d="M226.2 247.5V318.7"/><path d="M312.9 182.4V280.1"/><path d="M406.1 408.5V473.2"/><path d="M400.8 347.8V401.4"/><path d="M402.3 385.2V468.1"/><path d="M340.6 241.8V328.5"/><path d="M195.4 135.9V259.1"/><path d="M317.1 235.1V314"/><path d="M139.1 125.2V228.5"/><path d="M424.8 428.2V480.5"/><path d="M390.6 360.1V424.7"/><path d="M360.3 493.8V529.9"/><path d="M289.8 197V293.9"/><path d="M223 174V263.9"/><path d="M437 367.8V446.6"/><path d="M497 291V359.3"/><path d="M327.2 240.6V335"/><path d="M319.5 372V450.6"/><path d="M313.7 251.6V327.3"/><path d="M386.8 396.3V450.6"/><path d="M367.3 391.6V452.3"/><path d="M309.7 355.7V412.3"/><path d="M374.7 431.1V510.3"/><path d="M367 366.5V459.2"/><path d="M331.9 335.1V431.3"/><path d="M410.1 444.5V529.9"/><path d="M320.6 286V361.6"/><path d="M305.6 226.6V303.8"/><path d="M250 237.8V301.1"/><path d="M295.7 187.9V275.4"/><path d="M469.2 304.1V380"/><path d="M260 181.2V273.6"/><path d="M508 263.2V329.3"/><path d="M311.8 257.3V316.2"/><path d="M385.4 344V415.9"/><path d="M335.1 227V309.6"/><path d="M285.6 217.7V298.8"/><path d="M308 326V384"/><path d="M294.7 223.7V315.1"/><path d="M314.4 409.6V469.1"/><path d="M533.8 182V243.7"/><path d="M391.1 355.9V412.5"/><path d="M387.9 395.8V470.1"/><path d="M277.6 272.1V341.8"/><path d="M249.9 211.8V302.2"/><path d="M230.6 248.6V306.6"/><path d="M271.6 232.2V307.2"/><path d="M288.9 177.7V258.8"/><path d="M324.2 373V439.3"/><path d="M404.6 336V415.3"/><path d="M328 382V447.8"/><path d="M238.8 139V200"/><path d="M203.8 129.1V212.9"/><path d="M329.5 317.1V395.4"/><path d="M306.7 199V261.8"/><path d="M300.8 333.4V393"/><path d="M165.2 73.6V160.9"/><path d="M284.6 201.6V259.9"/><path d="M338.5 411.8V477.4"/><path d="M452.7 396.3V475.5"/><path d="M322.6 236.7V331.4"/><path d="M125 94.9V270.3"/><path d="M290.8 282.6V363"/><path d="M264.8 156.2V212.9"/><path d="M280.8 150.8V229.5"/><path d="M277.9 228.3V300.3"/><path d="M363.6 438.7V498.1"/><path d="M250.1 199.1V255.8"/><path d="M370.6 337.2V416"/><path d="M415.3 398V448.9"/><path d="M304.8 320.7V417.7"/><path d="M349.7 406.2V469.4"/><path d="M496.4 198.6V260.2"/><path d="M403.6 368.3V422.6"/><path d="M235.2 218.8V287.6"/><path d="M370.4 415.9V508.8"/><path d="M292.9 220.3V279.3"/><path d="M296.4 173.2V268.1"/><path d="M266 185.1V248.6"/><path d="M361.6 393.6V467.4"/><path d="M348 377.8V448.6"/><path d="M182.1 135.2V239.7"/><path d="M338 342.6V413"/><path d="M201.4 214.3V296.2"/><path d="M189 271.6V355.7"/><path d="M351.2 372V452.5"/><path d="M437 326.6V378.3"/><path d="M289.7 169.4V267.1"/><path d="M439.4 303.3V369"/><path d="M232.1 242.1V321.8"/><path d="M204.8 103.2V221.1"/><path d="M431.8 360.1V426.6"/><path d="M474.9 293.7V375.9"/><path d="M241.9 131.3V210.1"/><path d="M216.9 124.4V231.8"/><path d="M483.7 245.9V319.9"/><path d="M421.1 332.9V393.8"/><path d="M478 247.8V326.7"/><path d="M278.7 156.8V244.3"/><path d="M252.4 160.5V249"/><path d="M125.2 225.8V319.1"/><path d="M494.6 301.9V362.2"/><path d="M328.5 396.7V481.9"/><path d="M298.1 251.8V344.5"/><path d="M371 408.4V466"/><path d="M328.3 331.2V429"/><path d="M342.8 349.7V410.9"/><path d="M434.8 341.3V422.3"/><path d="M411.8 338.8V417.6"/><path d="M311 206.2V277.3"/><path d="M242.2 151.2V235.2"/><path d="M389.1 385.7V455.5"/><path d="M253.8 181.1V247.5"/><path d="M357.8 437V495.8"/><path d="M354.7 423.1V480.6"/><path d="M357.5 325.1V408.7"/><path d="M490.1 300.7V354.6"/><path d="M531 159.3V225.1"/><path d="M315.4 319.6V393.6"/><path d="M269.8 267.1V354.5"/><path d="M412 324.5V388.8"/><path d="M323.6 252.1V333"/><path d="M353.6 391V483.9"/><path d="M238.5 188.9V294"/><path d="M319 254.7V334"/><path d="M242.1 173.4V232.3"/><path d="M277.5 219.4V317.7"/><path d="M536 168.8V242.6"/><path d="M243.1 178.8V261.8"/><path d="M246.4 144.2V237.9"/><path d="M427.1 425.1V486.9"/><path d="M295.4 278.6V350.3"/><path d="M335.3 393.8V478"/><path d="M278.2 175.1V249.1"/><path d="M379.6 343.1V422.4"/><path d="M191.1 136.7V204.1"/><path d="M283.8 218.3V310.5"/><path d="M347.2 323.4V408.7"/><path d="M324.1 292.7V353.3"/><path d="M296.5 218.1V289.9"/><path d="M313.9 339.5V407.3"/><path d="M271.8 151.5V252"/><path d="M364.5 362.1V423.6"/><path d="M165.8 81.2V236.5"/><path d="M163.6 86V225.3"/><path d="M284.3 163V260.7"/><path d="M350.8 323.7V411"/><path d="M290.6 239V339.3"/><path d="M331.6 282.4V369.3"/><path d="M405.3 468.5V519.3"/><path d="M231.2 156.9V268"/><path d="M263.2 227.5V322.1"/><path d="M283.3 143V232.8"/><path d="M230.6 209.6V304.5"/><path d="M288.8 185.7V242.5"/><path d="M323.7 239.9V314.8"/><path d="M133.9 89.8V220.8"/><path d="M167.7 196.3V336.5"/><path d="M317 256.3V314.2"/><path d="M301.8 279.1V359.4"/><path d="M225.2 132.2V236.5"/><path d="M219.3 213.1V282.3"/><path d="M415.2 370V439.7"/><path d="M191.7 114.5V207.5"/><path d="M296 239.1V340.4"/><path d="M150.9 209.6V325.8"/><path d="M360.4 348.5V426.7"/><path d="M252.3 167V249.9"/><path d="M292.2 308.8V406.3"/><path d="M364.6 393.8V455.6"/><path d="M259.3 174.1V254.9"/><path d="M148.8 99.2V170.3"/><path d="M448.6 434.6V491.5"/><path d="M364.5 337.9V395.6"/><path d="M126.2 103.4V198"/><path d="M279.5 149.1V205.8"/><path d="M354.5 324.7V401.5"/><path d="M234.1 146.7V252.1"/><path d="M346.1 443.1V506.6"/><path d="M248.5 207.7V278.3"/><path d="M297 264.9V333.4"/><path d="M316.8 222.8V313.5"/><path d="M121.1 324.8V469.6"/><path d="M420.9 422.4V479.6"/><path d="M533.7 235.4V308.5"/><path d="M187.5 89.8V205.9"/><path d="M554.3 203.1V260.7"/><path d="M468.9 241.8V297.8"/><path d="M132.8 152.9V257.6"/><path d="M284.2 156.3V231.9"/><path d="M290.5 169.8V246.8"/><path d="M505.2 296.6V349.1"/><path d="M441 387.5V442.1"/><path d="M502.1 182.8V241"/><path d="M538.3 206.4V274.1"/><path d="M337.6 328.9V389.5"/><path d="M205.2 139.7V231.4"/><path d="M393.8 373.3V441.9"/><path d="M267.1 200.4V302"/><path d="M363.6 424.5V498.5"/><path d="M93.2 199.8V397.8"/><path d="M225.3 206.5V271.5"/><path d="M479.9 244.4V314.4"/><path d="M540.4 152.1V214.1"/><path d="M228.4 151.3V232.8"/><path d="M383.3 356.6V430.7"/><path d="M188.8 117.3V209.4"/><path d="M310.7 232.8V311.1"/><path d="M359.2 352.2V426.4"/><path d="M287.5 134.7V233.1"/><path d="M275.9 134.6V218.8"/><path d="M398 353.7V439.7"/><path d="M229.3 113.9V226.7"/><path d="M347 292.6V383.1"/><path d="M411.6 400.3V466.9"/><path d="M322.8 273.6V329.8"/><path d="M517.9 159V228.8"/><path d="M275 244.1V307.5"/><path d="M255.8 283.4V342.6"/><path d="M303.2 229.3V315.5"/><path d="M214 160.7V266.5"/><path d="M321.7 396.4V468.8"/><path d="M321.8 363V441.8"/><path d="M140.1 94V250.6"/><path d="M273.8 183.7V286.5"/><path d="M528.6 232.3V290.8"/><path d="M300 277.1V333.3"/><path d="M343.4 395V475.7"/><path d="M215.8 235V316.3"/><path d="M221.2 254.3V365.4"/><path d="M452.6 297.2V377.1"/><path d="M257.2 197.1V282.1"/><path d="M316.3 324.4V413.9"/><path d="M337.7 362.4V440"/><path d="M209.1 104.5V176.1"/><path d="M377.6 482.9V529.9"/><path d="M271.3 199.5V296.2"/><path d="M257.9 245.5V303.6"/><path d="M257.5 233.3V297.5"/><path d="M420.8 319.9V396.4"/><path d="M497.2 225V283.3"/><path d="M353.2 358.3V428.7"/><path d="M329.4 319.5V386"/><path d="M141 128.7V235.6"/><path d="M471 282.9V336.5"/><path d="M279 188.6V281.4"/><path d="M304.9 248V311.1"/><path d="M256.6 227V320.4"/><path d="M303.7 270.9V343.7"/><path d="M264 174.8V234.9"/><path d="M388.6 438V490"/><path d="M206.5 130.3V204.2"/><path d="M321.4 378.3V439.5"/><path d="M305.4 262.2V325.4"/><path d="M164.1 69.7V203.5"/><path d="M493.8 201.1V268.9"/><path d="M205.6 162V233.8"/><path d="M330.1 242.5V321.4"/><path d="M325.8 277.5V342.7"/><path d="M348.8 411.8V480.8"/><path d="M365.2 427.3V486.2"/><path d="M264 197.1V263.2"/><path d="M202 109.6V179.9"/><path d="M453.7 287.8V372.2"/><path d="M300.1 214.4V289.7"/><path d="M284.4 132.2V197.8"/><path d="M329.6 371.2V440.4"/><path d="M251.2 199.7V264.5"/><path d="M336.6 279.9V355.7"/><path d="M364.4 368.9V450.5"/><path d="M301.4 180.2V271.4"/><path d="M251.8 266.3V348.6"/><path d="M460.7 324.1V378.6"/><path d="M314.6 253.6V345.8"/><path d="M274.3 181.8V273.3"/><path d="M297.6 199.6V296.7"/><path d="M196.9 241V351.1"/><path d="M392.7 388.9V448.9"/><path d="M383.5 363.5V437.3"/><path d="M326.7 321.1V396.8"/><path d="M288.2 235.7V294"/><path d="M317.9 229.3V311.5"/><path d="M294.2 173.9V275.5"/><path d="M476.3 224.3V289.6"/><path d="M257.7 151.4V251.6"/><path d="M171.4 185.2V302.6"/><path d="M258.3 149V249.4"/><path d="M184.4 109.7V174.6"/><path d="M179.4 92.4V171.2"/><path d="M155.1 156.8V239.7"/><path d="M331.8 280.7V378.2"/><path d="M445.3 289.3V366.6"/><path d="M393.1 336.1V420.9"/><path d="M134.7 87V260.6"/><path d="M252.3 180.9V254.4"/><path d="M327.9 344.6V406.6"/><path d="M289.3 154.5V249.8"/><path d="M163.3 111V250"/><path d="M315.9 262.6V363.3"/><path d="M335.9 392.8V488.2"/><path d="M477.8 321.9V388"/><path d="M330.2 395V494"/><path d="M345.4 416.9V507.7"/><path d="M258.2 232.6V293.8"/><path d="M278.5 205.9V307.4"/><path d="M421.2 325.7V387.3"/><path d="M312.3 219V280.1"/><path d="M349.7 342.4V408"/><path d="M197 150.6V222.7"/><path d="M263.3 154.5V252.1"/><path d="M317.5 323.4V396.9"/><path d="M106.8 346.8V464.8"/><path d="M353.1 405.9V499.9"/><path d="M488.7 211.1V276.3"/><path d="M383 403.6V469.9"/><path d="M333.5 368.8V451.6"/><path d="M191.8 204.1V293.4"/><path d="M305.8 211.6V283.6"/><path d="M349.1 414.3V494.1"/><path d="M304.7 233.7V298.7"/><path d="M236.9 100.3V206.6"/><path d="M232 124.7V228.4"/><path d="M289.4 228.4V318.4"/><path d="M263.4 160.4V225.3"/><path d="M217.3 180.6V253.1"/><path d="M197.6 77.9V190.8"/><path d="M408.2 408.6V460.2"/><path d="M401.9 377.6V445.2"/><path d="M259 268V325"/><path d="M372.1 336.6V428.2"/><path d="M364.9 323V416.8"/><path d="M442 362.5V436.9"/><path d="M453.6 391.8V444.7"/><path d="M330.9 336.4V422.2"/><path d="M316.4 252.2V321"/><path d="M393.2 386.7V440.6"/><path d="M344.7 276.8V342.7"/><path d="M473.2 256.1V310.5"/><path d="M341.9 341.1V408.3"/><path d="M254.9 216.4V280.1"/><path d="M360.1 355.5V410.4"/><path d="M357.3 372.9V467.4"/><path d="M161 129.8V278.2"/><path d="M230.8 170.5V270.3"/><path d="M315.8 290.5V391.1"/><path d="M341.7 459V517.1"/><path d="M205.9 149.3V256.9"/><path d="M347.5 311.3V381.6"/><path d="M306.4 256.2V327.5"/><path d="M365.9 352.9V417.7"/><path d="M446.6 399V462.9"/><path d="M260.7 159.1V260.2"/><path d="M318 215.1V305.3"/><path d="M438.1 373.6V459.7"/><path d="M381.9 431.2V515.4"/><path d="M436.6 348.2V425.1"/><path d="M376.7 342.1V418.4"/><path d="M318.5 310.5V387.9"/><path d="M411.5 334.3V401"/><path d="M200.6 223.7V301.5"/><path d="M352.7 436.7V510.6"/><path d="M309.5 312V368.1"/><path d="M319.5 276.4V374"/><path d="M374.6 421V495.6"/><path d="M400.1 421.5V487.4"/><path d="M383.6 420.7V478.6"/><path d="M269.9 172.1V263"/><path d="M375.7 394.3V460.9"/><path d="M398.1 349.3V404.2"/><path d="M295.9 178.2V249.5"/><path d="M221.4 116V234.1"/><path d="M463.6 309V390.5"/><path d="M293.3 224.2V297.5"/><path d="M378.2 392.5V451.4"/><path d="M424.8 400.5V481.2"/><path d="M220.1 148V263"/><path d="M413.1 381.3V440.3"/><path d="M401.5 311.6V394.3"/><path d="M410 381V452.1"/><path d="M311.2 225.3V310.4"/><path d="M273 244V345.7"/><path d="M388.4 338.9V398.1"/><path d="M373 446.4V519.3"/><path d="M417.9 355.8V435.3"/><path d="M169.4 123.4V249"/><path d="M278.6 161V223.1"/><path d="M297.2 281.4V359.6"/><path d="M252.7 216.7V311.9"/><path d="M345.9 395.5V483.2"/><path d="M286.2 155.9V244.6"/><path d="M255.4 221.1V283.2"/><path d="M339.7 281V367"/><path d="M316.4 189.8V256.2"/><path d="M336.1 368.2V462.3"/><path d="M361.4 412.6V486"/><path d="M347.9 417.4V488.2"/><path d="M450.9 359.6V419.1"/><path d="M247.4 231.1V297.1"/><path d="M368.2 436.6V505.5"/><path d="M303.9 209.3V303.2"/><path d="M232.7 209V301"/><path d="M283.4 156.1V242.8"/><path d="M436.8 348.4V433.2"/><path d="M200.4 125.9V190.5"/><path d="M418.9 447.2V501"/><path d="M349.1 373.3V461.3"/><path d="M235.2 196.8V293.3"/><path d="M416.7 328.5V401.5"/><path d="M270.6 230.5V333.4"/><path d="M229.1 218.9V306.6"/><path d="M531.2 184.9V256.2"/><path d="M465.4 232.2V295.8"/><path d="M514.4 209.8V278.7"/><path d="M392.3 419V484.6"/><path d="M327.6 344.7V408.6"/><path d="M488.7 298.1V361"/><path d="M342.7 409.5V504.8"/><path d="M233.7 196.9V289.5"/><path d="M344.6 287.7V345.9"/><path d="M408.9 320.2V406.4"/><path d="M424.4 359.8V446.3"/><path d="M292.8 206.6V272"/><path d="M508.9 250.1V304.7"/><path d="M251 149.6V215.6"/><path d="M518 223.6V277.7"/><path d="M449.6 396.2V458.4"/><path d="M318.5 334.4V412.6"/><path d="M338.9 263.5V345"/><path d="M217.1 193.6V305.4"/><path d="M280 246.2V344.9"/><path d="M301.7 286.1V368.9"/><path d="M427.3 335V393.3"/><path d="M365.1 370.1V449.3"/><path d="M256.6 190.8V268.1"/><path d="M307 323.7V419.5"/><path d="M330.7 368.3V451.1"/><path d="M452.1 295.7V365.9"/><path d="M449.5 365.4V429.9"/><path d="M371.2 319.6V405.4"/><path d="M432.5 390V468.1"/><path d="M319.2 212.9V288.9"/><path d="M316.6 281.9V339.4"/><path d="M244.4 144.1V230"/><path d="M280.4 189.8V288.8"/><path d="M396.2 359.6V435.5"/><path d="M386.8 338.7V430.2"/><path d="M519.2 181.2V251.5"/><path d="M368.5 346.7V411"/><path d="M394.9 388.6V471.5"/><path d="M315.3 317.8V390.9"/><path d="M370 403.6V484.9"/><path d="M352.3 411.4V506.3"/><path d="M299.5 266.4V335.8"/><path d="M476.2 237.5V312.4"/><path d="M195.4 159.5V242.6"/><path d="M378.6 417.1V482.8"/><path d="M292.1 210.7V269.9"/><path d="M480.6 238.2V308.3"/><path d="M356.5 434.1V521.6"/><path d="M149.8 154.4V269.4"/><path d="M335.3 298.1V380.1"/><path d="M222.9 259V343.8"/><path d="M257.9 226.2V285.8"/><path d="M501 282.2V360.8"/><path d="M232.9 263.1V355.3"/><path d="M245.8 237.2V315"/><path d="M432 332.3V385.8"/><path d="M364.1 390.7V454.4"/><path d="M328.6 363.1V423.4"/><path d="M500.4 200.4V274.5"/><path d="M417.4 413.8V465.2"/><path d="M240.6 234.8V293.2"/><path d="M173 131.3V219.1"/><path d="M547.7 183.3V256.4"/><path d="M482.3 279.2V359.6"/><path d="M361.6 343.1V409.4"/><path d="M367.8 363.6V450.2"/><path d="M263.1 175.1V273"/><path d="M214.9 143.4V222.8"/><path d="M327.1 250.8V331.2"/><path d="M314.8 204.5V289.1"/><path d="M265 249.3V353.8"/><path d="M147.6 184.2V289.4"/><path d="M510.6 204.2V272.8"/><path d="M430.5 374.9V449.9"/><path d="M399.5 431.9V510.4"/><path d="M301 194.7V253.7"/><path d="M215.1 250.1V333.5"/><path d="M204.4 116.7V246.3"/><path d="M298.9 265.6V358.8"/><path d="M373.4 456V521.6"/><path d="M323.1 243.3V337.1"/><path d="M504 225.1V302.9"/><path d="M278.5 244.3V324.1"/><path d="M306.4 343.1V416.5"/><path d="M551.7 183.9V252.7"/><path d="M312.5 205.3V302.2"/><path d="M286.4 208.6V274.1"/><path d="M306.2 301.8V396.9"/><path d="M553.4 163.4V221.7"/><path d="M501.8 267.8V340.2"/><path d="M401.5 325.5V395.7"/><path d="M236 241.5V331.7"/><path d="M164.2 164.1V239.1"/><path d="M328.4 396.7V455.3"/><path d="M288.1 178.7V243.5"/><path d="M298.2 207.6V266.5"/><path d="M339.4 310.8V382.5"/><path d="M186.6 204.5V274.2"/><path d="M386.6 328V416.1"/><path d="M255.8 178.9V286"/><path d="M367.6 406.3V488.6"/><path d="M310.7 173.6V259.8"/><path d="M249.2 249V307.3"/><path d="M289.2 129.7V190.5"/><path d="M296.7 212.4V275.2"/><path d="M527.1 217.5V278.4"/><path d="M369.8 386.6V451.4"/><path d="M128.8 155.6V299.7"/><path d="M301.3 174.4V260.5"/><path d="M289.5 174.4V253.6"/><path d="M371.8 393.4V454"/><path d="M152.7 172.3V325.6"/><path d="M333.8 380.2V468.8"/><path d="M173.3 158.3V232.2"/><path d="M197.6 181.7V290.3"/><path d="M241.8 261V347.5"/><path d="M325.3 257.7V344.5"/><path d="M267.5 213.5V320.1"/><path d="M233.6 164.3V254.4"/><path d="M423.1 339.9V407"/><path d="M387.5 314.9V394.1"/><path d="M538.4 194.9V260.6"/><path d="M279.6 316.4V374.6"/><path d="M384 485.9V529.9"/><path d="M317.8 414.5V478.5"/><path d="M230.8 202.4V273.4"/><path d="M220.3 125.5V207.1"/><path d="M466.3 349.8V408.6"/><path d="M343 356.8V442.7"/><path d="M315.2 358.7V430.2"/><path d="M286.3 233.8V303.6"/><path d="M312.4 332.4V422.5"/><path d="M327.4 317V379.8"/><path d="M378.6 361V431.7"/><path d="M493 214.8V276.5"/><path d="M379.3 320.8V394.3"/><path d="M309.4 290.3V375.4"/><path d="M542.5 212.8V275.1"/><path d="M258.2 200.5V300.5"/><path d="M346.9 288.2V358.9"/><path d="M555 163.6V229.7"/><path d="M403.4 414.4V487.2"/><path d="M297.1 239.1V335.2"/><path d="M361.2 382.9V449.9"/><path d="M328.8 326.3V410.3"/><path d="M260.9 214.9V322"/><path d="M266.8 143.6V216.2"/><path d="M285.4 242.9V336.2"/><path d="M336.4 357.9V443"/><path d="M154.4 134.6V226.8"/><path d="M291.3 237V302.6"/><path d="M513.8 263.3V329.2"/><path d="M280 138.3V222.4"/><path d="M243.7 231.8V331.9"/><path d="M503.4 206.9V260.7"/><path d="M282.8 243.8V317.5"/><path d="M311.1 348V431.8"/><path d="M411.3 436.9V521.6"/><path d="M325.9 254.8V342"/><path d="M193.6 123.6V250"/><path d="M169.2 162.9V316.8"/><path d="M294.9 197.6V278.4"/><path d="M343.3 289.8V366.5"/><path d="M317.1 356.7V444"/><path d="M456.2 322.7V376"/><path d="M142.1 207.1V339.6"/><path d="M361.8 409V496.1"/><path d="M309.4 327.1V385.4"/><path d="M210.8 119V183"/><path d="M288.1 279.7V378.2"/><path d="M261 226.9V298.1"/><path d="M338.6 296V364.4"/><path d="M308.7 215V311.4"/><path d="M359 316.1V388.6"/><path d="M308.4 257.6V349.6"/><path d="M451.5 314.5V380.5"/><path d="M357.6 304V364.6"/><path d="M380.6 367V451"/><path d="M322.1 301.3V359.7"/><path d="M364 433.5V494.5"/><path d="M404.8 343.2V399.4"/><path d="M320.4 252.5V330.7"/><path d="M389.4 363.2V445.5"/><path d="M321.5 311.4V410.8"/><path d="M216.3 118.5V202.2"/><path d="M173.1 213.2V287.4"/><path d="M340.3 368.9V442.5"/><path d="M374.5 429.8V495.9"/><path d="M325.7 379.2V457.8"/><path d="M310.1 227.6V293.4"/><path d="M344.5 303.1V367.6"/><path d="M353.2 396.1V467.4"/><path d="M340.1 307.5V365.6"/><path d="M242.1 198.2V292.5"/><path d="M390.8 428.4V492.6"/><path d="M406.2 326.7V388.8"/><path d="M105.8 217.9V305.6"/><path d="M343 365.9V446.8"/><path d="M332.1 239.6V308"/><path d="M182.3 135.2V256.8"/><path d="M535.9 180.7V253.1"/><path d="M433.4 396.5V462.9"/><path d="M325.9 292.4V387.3"/><path d="M335.1 283.8V380.9"/><path d="M319.1 306.8V370.9"/><path d="M496.5 192.7V246.3"/><path d="M382.2 415.7V475.7"/><path d="M341.4 313.5V369.2"/><path d="M208.8 149V263.9"/><path d="M421.3 428.6V500.5"/><path d="M231.4 158.7V249.9"/><path d="M383.5 376.2V440.6"/><path d="M208.8 193.9V256.8"/><path d="M196.9 242.1V329"/><path d="M302.5 266.4V334.9"/><path d="M285.6 198.5V296.8"/><path d="M261.9 256.8V361.8"/><path d="M235.4 153.3V246.8"/><path d="M439.5 349.9V417.4"/><path d="M216.6 174.6V272.7"/><path d="M437.6 435.5V503.4"/><path d="M360.3 408.4V483.7"/><path d="M318.7 230.5V300.8"/><path d="M306 286.5V382.2"/><path d="M287.8 243.1V312.8"/><path d="M289.8 222.5V285.3"/><path d="M509.2 262.4V334.4"/><path d="M339.9 357.5V438.9"/><path d="M468.8 346.2V430.1"/><path d="M96.1 274.3V460.2"/><path d="M359.2 415.1V506.8"/><path d="M318.8 281.9V348.8"/><path d="M299.6 285.6V373.2"/><path d="M286.5 227.8V317.8"/><path d="M297.6 310.6V406.1"/><path d="M279.5 249.6V342.5"/><path d="M497.6 192.9V263.3"/><path d="M231.9 183.1V252"/><path d="M165.4 138V209.8"/><path d="M216.9 169.1V252.9"/><path d="M341.6 346.2V442"/><path d="M356.3 342V403.5"/><path d="M310 292.1V354.8"/><path d="M331.1 279.6V355.4"/><path d="M291.1 129.1V232.8"/><path d="M272.8 207.6V267.8"/><path d="M224.4 250.7V365"/><path d="M324.8 340.4V402.9"/><path d="M230.1 153.2V248"/><path d="M270.5 175.7V240.8"/><path d="M291.3 256.7V329.5"/><path d="M178.5 170V315.4"/><path d="M310.5 286.5V343.6"/><path d="M512.2 294.2V356.3"/><path d="M156.6 167.9V242.9"/><path d="M312.9 270.4V362.7"/><path d="M317.5 393.7V493.7"/><path d="M320.5 264.4V334.3"/><path d="M100.5 99.9V276.4"/><path d="M348.8 409.7V472.7"/><path d="M254.7 126.8V220"/><path d="M230.5 208.6V280.3"/><path d="M361.2 402.6V477.1"/><path d="M333.8 258.4V330.2"/><path d="M341.2 302V388.5"/><path d="M231.1 275.2V359.2"/><path d="M391.7 388.4V443"/><path d="M334.7 274.1V370"/><path d="M429.5 338V411.3"/><path d="M209.6 201.6V304.4"/><path d="M249.6 156.4V213.4"/><path d="M396.2 334.1V404.7"/><path d="M156.9 101.9V227.1"/><path d="M505.2 252.9V324.2"/><path d="M513.4 229.7V287.8"/><path d="M228.1 122.1V235.2"/><path d="M456.1 351.7V414.6"/><path d="M336.7 309.5V407.8"/><path d="M162.9 221V362"/><path d="M244.3 217.1V305.9"/><path d="M491.8 222.9V300.4"/><path d="M245 194.2V285.9"/><path d="M178 242.4V344.4"/><path d="M329.5 248.1V339.5"/><path d="M404.5 356.8V426.2"/><path d="M398.3 428.4V485.2"/><path d="M233.4 224.3V315.2"/><path d="M305.4 212.9V300.5"/><path d="M215.8 87V178.1"/><path d="M221 174.6V275.8"/><path d="M324.4 332.2V423"/><path d="M318.8 292.2V391"/><path d="M233.6 190.3V259.7"/><path d="M300.5 169.2V241.8"/><path d="M331 375.9V466.6"/><path d="M222.9 140.4V244.2"/><path d="M389 325.1V400"/><path d="M332.7 313.9V381.6"/><path d="M429.1 387.6V448.6"/><path d="M273.4 218V275.1"/><path d="M312.1 336.6V412.3"/><path d="M430.9 303.8V360"/><path d="M222.9 214.5V332.1"/><path d="M449.4 335V387.5"/><path d="M221.2 175.2V250.4"/><path d="M315.1 353.1V420.1"/><path d="M403.7 385V462.6"/><path d="M335.4 261.2V340.2"/><path d="M189.4 84.5V202.4"/><path d="M375.1 350.6V440.1"/><path d="M473 301.4V351.7"/><path d="M433.1 376.1V429.1"/><path d="M333.5 276.6V342.8"/><path d="M206.5 183.3V278.5"/><path d="M262 222.7V314.4"/><path d="M473 233.4V308.6"/><path d="M454.8 387.7V458.6"/><path d="M183.4 77.2V161.3"/><path d="M341.8 417.3V482.3"/><path d="M272.3 251.4V317.7"/><path d="M247.3 125.1V212.4"/><path d="M338.2 421.6V484.1"/><path d="M239.7 185.2V274.8"/><path d="M324.1 323.7V386.1"/><path d="M297 211.9V306.7"/><path d="M552.7 136.6V193.7"/><path d="M304.3 254.7V324.7"/><path d="M325.7 282V381.9"/><path d="M310 236.4V328"/><path d="M322.1 273.8V336.7"/><path d="M188.2 226.6V361.6"/><path d="M163.4 177.7V249"/><path d="M329.8 363.1V436.2"/><path d="M231.1 200.4V258"/><path d="M513.3 233.8V290.6"/><path d="M324.8 258.9V334.1"/><path d="M584.9 115.3V175.3"/><path d="M600.6 108.6V173.4"/><path d="M621.8 98.2V161.4"/><path d="M641.4 98.6V164.6"/><path d="M629.2 111.3V175.3"/><path d="M615.3 121.6V184.6"/><path d="M595.3 124.1V186.1"/><path d="M573.3 126.6V192.6"/><path d="M571.4 141.9V205.9"/><path d="M580.2 144.9V208.9"/><path d="M597.6 134.1V198.1"/><path d="M603.1 138.4V202.4"/><path d="M609 136.4V200.4"/><path d="M592.4 149.2V213.2"/><path d="M583.1 155.5V219.5"/><path d="M568.8 153.1V217.1"/><path d="M566.9 160V224"/><path d="M565.5 174.3V240.3"/><path d="M562.9 180.9V246.9"/><path d="M589.4 175V243"/><path d="M587.5 182.5V248.5"/><path d="M574.3 191.3V257.3"/><path d="M579 191.3V257.3"/><path d="M606.5 185.8V249.8"/><path d="M618.2 186V250.8"/><path d="M612 165.4V231.4"/><path d="M625.3 171.1V237.1"/><path d="M632.9 152.7V217.5"/><path d="M637.1 157.6V225.6"/><path d="M646.3 176.8V244.4"/><path d="M651.2 151.1V217.1"/><path d="M656.5 139.9V204.9"/><path d="M662 179V241"/><path d="M668.2 157.6V223.6"/><path d="M682 140.8V207.8"/><path d="M689.8 169V231.8"/><path d="M674.7 210.1V277.7"/><path d="M698.8 244.9V306.9"/><path d="M709.4 213.3V279.3"/><path d="M721.8 209.3V279.3"/><path d="M736.5 199.7V267.7"/><path d="M756.8 283.3V357.3"/><path d="M786.2 257.9V337.9"/><path d="M843.5 315.6V415.6"/><path d="M995 380.7V528.7"/><path d="M176.2 10.7V80.7"/><path d="M119.8 69.8V189.8"/><path d="M109.6 322V442"/><path d="M119.3 325.8V445.8"/><path d="M126.6 330.8V440.8"/><path d="M128.7 335.8V445.8"/><path d="M108.2 286V406"/><path d="M106 261V381"/><path d="M134.5 282.4V392.4"/><path d="M136.9 275V385"/><path d="M211.6 296.2V396.2"/><path d="M248.2 317.3V407.3"/><path d="M97.8 99V239"/><path d="M102.5 140.6V280.6"/><path d="M257.4 118.2V178.2"/><path d="M283.8 119.1V179.1"/><path d="M286.5 125.3V185.3"/><path d="M219.4 85.3V165.3"/><path d="M205.3 64.4V154.4"/></g><g fill="#000" fill-opacity="0.31"><circle cx="477.4" cy="306" r="4.9"/><circle cx="345.4" cy="388.1" r="4.9"/><circle cx="399.4" cy="430.6" r="4.9"/><circle cx="306.5" cy="318.2" r="4.9"/><circle cx="326.9" cy="363" r="4.9"/><circle cx="308.9" cy="250" r="4.9"/><circle cx="181.7" cy="145.3" r="4.9"/><circle cx="374.6" cy="377.4" r="4.9"/><circle cx="342.8" cy="365.4" r="4.9"/><circle cx="358.2" cy="371.5" r="4.9"/><circle cx="227.6" cy="302" r="4.9"/><circle cx="351.2" cy="431.6" r="4.9"/><circle cx="252.9" cy="189.6" r="4.9"/><circle cx="490.2" cy="294.2" r="4.9"/><circle cx="462.2" cy="416.8" r="4.9"/><circle cx="260.5" cy="277.5" r="4.9"/><circle cx="371.9" cy="434.2" r="4.9"/><circle cx="530.7" cy="275.7" r="4.9"/><circle cx="282.9" cy="247.4" r="4.9"/><circle cx="338.8" cy="426.1" r="4.9"/><circle cx="302.7" cy="237.8" r="4.9"/><circle cx="273.6" cy="206.7" r="4.9"/><circle cx="344.8" cy="390.6" r="4.9"/><circle cx="359.1" cy="476.9" r="4.9"/><circle cx="177.6" cy="158.3" r="4.9"/><circle cx="158.8" cy="228" r="4.9"/><circle cx="400.7" cy="401.6" r="4.9"/><circle cx="235.3" cy="171.7" r="4.9"/><circle cx="279.2" cy="224.7" r="4.9"/><circle cx="225.6" cy="252.8" r="4.9"/><circle cx="272.2" cy="225" r="4.9"/><circle cx="268.5" cy="295" r="4.9"/><circle cx="209.2" cy="170.6" r="4.9"/><circle cx="388.3" cy="441" r="4.9"/><circle cx="240.6" cy="198.5" r="4.9"/><circle cx="233.4" cy="177.5" r="4.9"/><circle cx="401.7" cy="377" r="4.9"/><circle cx="339.9" cy="388.6" r="4.9"/><circle cx="253.3" cy="185" r="4.9"/><circle cx="422.6" cy="349.7" r="4.9"/><circle cx="352.3" cy="334.2" r="4.9"/><circle cx="304.4" cy="297.2" r="4.9"/><circle cx="265.9" cy="208.7" r="4.9"/><circle cx="323.5" cy="414.2" r="4.9"/><circle cx="338.5" cy="312.9" r="4.9"/><circle cx="335.1" cy="353.1" r="4.9"/><circle cx="367.9" cy="416.7" r="4.9"/><circle cx="263.4" cy="257.9" r="4.9"/><circle cx="311.1" cy="367.1" r="4.9"/><circle cx="371.3" cy="409.6" r="4.9"/><circle cx="269.8" cy="261.9" r="4.9"/><circle cx="394.4" cy="439.5" r="4.9"/><circle cx="263.3" cy="218.3" r="4.9"/><circle cx="111" cy="143.8" r="4.9"/><circle cx="426.9" cy="445.7" r="4.9"/><circle cx="462" cy="331.1" r="4.9"/><circle cx="265.7" cy="256.1" r="4.9"/><circle cx="348.6" cy="325" r="4.9"/><circle cx="455.2" cy="334.6" r="4.9"/><circle cx="221.6" cy="255.6" r="4.9"/><circle cx="507.9" cy="284.2" r="4.9"/><circle cx="422.8" cy="383.1" r="4.9"/><circle cx="141" cy="184.8" r="4.9"/><circle cx="342.9" cy="419.3" r="4.9"/><circle cx="329.9" cy="400.1" r="4.9"/><circle cx="187" cy="111" r="4.9"/><circle cx="399.3" cy="423" r="4.9"/><circle cx="502.9" cy="219.3" r="4.9"/><circle cx="351.8" cy="480.5" r="4.9"/><circle cx="295.1" cy="272.7" r="4.9"/><circle cx="360.1" cy="410.3" r="4.9"/><circle cx="336.5" cy="377.7" r="4.9"/><circle cx="240.3" cy="193.7" r="4.9"/><circle cx="291.2" cy="300.3" r="4.9"/><circle cx="360.8" cy="400.2" r="4.9"/><circle cx="387.6" cy="361.9" r="4.9"/><circle cx="273.5" cy="213.9" r="4.9"/><circle cx="320.7" cy="414.9" r="4.9"/><circle cx="378.6" cy="387.1" r="4.9"/><circle cx="334.3" cy="372.4" r="4.9"/><circle cx="375.8" cy="466.9" r="4.9"/><circle cx="306" cy="343.7" r="4.9"/><circle cx="462.7" cy="287.9" r="4.9"/><circle cx="322.9" cy="344.1" r="4.9"/><circle cx="195.8" cy="113.7" r="4.9"/><circle cx="314.6" cy="326.3" r="4.9"/><circle cx="237.5" cy="172.7" r="4.9"/><circle cx="420.7" cy="440.1" r="4.9"/><circle cx="365.1" cy="450.4" r="4.9"/><circle cx="327.8" cy="344.6" r="4.9"/><circle cx="299.2" cy="233.9" r="4.9"/><circle cx="462.7" cy="295.5" r="4.9"/><circle cx="309.5" cy="415.7" r="4.9"/><circle cx="255.9" cy="218.3" r="4.9"/><circle cx="248.7" cy="275.6" r="4.9"/><circle cx="413.4" cy="449.1" r="4.9"/><circle cx="372.6" cy="403.3" r="4.9"/><circle cx="226" cy="125.2" r="4.9"/><circle cx="394" cy="480.3" r="4.9"/><circle cx="292.6" cy="287.4" r="4.9"/><circle cx="275" cy="221.2" r="4.9"/><circle cx="318" cy="245.3" r="4.9"/><circle cx="262.5" cy="278" r="4.9"/><circle cx="186.6" cy="167.9" r="4.9"/><circle cx="244.2" cy="236.4" r="4.9"/><circle cx="417.8" cy="462.2" r="4.9"/><circle cx="473.3" cy="371.6" r="4.9"/><circle cx="304.8" cy="329.2" r="4.9"/><circle cx="349.3" cy="460.7" r="4.9"/><circle cx="253.2" cy="276.5" r="4.9"/><circle cx="371.1" cy="424.3" r="4.9"/><circle cx="381.4" cy="478.2" r="4.9"/><circle cx="398.6" cy="449.5" r="4.9"/><circle cx="336.5" cy="416.7" r="4.9"/><circle cx="483.5" cy="203.3" r="4.9"/><circle cx="236.5" cy="220.3" r="4.9"/><circle cx="351" cy="371.5" r="4.9"/><circle cx="292.3" cy="234.2" r="4.9"/><circle cx="318.9" cy="367.2" r="4.9"/><circle cx="234.4" cy="230.1" r="4.9"/><circle cx="539.5" cy="196.6" r="4.9"/><circle cx="321.6" cy="373.8" r="4.9"/><circle cx="328" cy="401" r="4.9"/><circle cx="337" cy="391.4" r="4.9"/><circle cx="319.2" cy="346.6" r="4.9"/><circle cx="364.5" cy="487.9" r="4.9"/><circle cx="404" cy="470.8" r="4.9"/><circle cx="335.5" cy="369.4" r="4.9"/><circle cx="309.2" cy="363.3" r="4.9"/><circle cx="324.6" cy="439.6" r="4.9"/><circle cx="482.3" cy="287.1" r="4.9"/><circle cx="326.3" cy="307.1" r="4.9"/><circle cx="295.7" cy="210.1" r="4.9"/><circle cx="500.6" cy="242.7" r="4.9"/><circle cx="368.4" cy="362.1" r="4.9"/><circle cx="286.2" cy="193.7" r="4.9"/><circle cx="329.2" cy="386.2" r="4.9"/><circle cx="273.2" cy="295.4" r="4.9"/><circle cx="300.2" cy="202.4" r="4.9"/><circle cx="338.8" cy="299.4" r="4.9"/><circle cx="380.6" cy="393.9" r="4.9"/><circle cx="183.9" cy="238.8" r="4.9"/><circle cx="308.3" cy="270.9" r="4.9"/><circle cx="246.4" cy="217.6" r="4.9"/><circle cx="309.2" cy="328" r="4.9"/><circle cx="339" cy="317.3" r="4.9"/><circle cx="271" cy="199.3" r="4.9"/><circle cx="240" cy="207.8" r="4.9"/><circle cx="481.5" cy="295.8" r="4.9"/><circle cx="328.7" cy="405.3" r="4.9"/><circle cx="239.4" cy="226.5" r="4.9"/><circle cx="299.5" cy="246.4" r="4.9"/><circle cx="256" cy="244.5" r="4.9"/><circle cx="364.3" cy="434" r="4.9"/><circle cx="357.4" cy="429.7" r="4.9"/><circle cx="395.6" cy="402" r="4.9"/><circle cx="307.2" cy="312.7" r="4.9"/><circle cx="351.3" cy="425.3" r="4.9"/><circle cx="324.3" cy="310.8" r="4.9"/><circle cx="200.3" cy="179.9" r="4.9"/><circle cx="368.1" cy="374.2" r="4.9"/><circle cx="232.3" cy="189.3" r="4.9"/><circle cx="385.2" cy="404.7" r="4.9"/><circle cx="324" cy="340.8" r="4.9"/><circle cx="242.4" cy="211.1" r="4.9"/><circle cx="271.4" cy="220.6" r="4.9"/><circle cx="221.7" cy="233.2" r="4.9"/><circle cx="328.4" cy="398" r="4.9"/><circle cx="207.3" cy="255.3" r="4.9"/><circle cx="184.5" cy="248.2" r="4.9"/><circle cx="299.1" cy="241.4" r="4.9"/><circle cx="182.7" cy="233.6" r="4.9"/><circle cx="339.8" cy="327.7" r="4.9"/><circle cx="240.4" cy="191" r="4.9"/><circle cx="407" cy="405.8" r="4.9"/><circle cx="295" cy="303.2" r="4.9"/><circle cx="266.2" cy="189.9" r="4.9"/><circle cx="522.3" cy="242.3" r="4.9"/><circle cx="363.4" cy="444.9" r="4.9"/><circle cx="498.9" cy="223.4" r="4.9"/><circle cx="342.6" cy="352.7" r="4.9"/><circle cx="257.6" cy="232.7" r="4.9"/><circle cx="220.7" cy="279.1" r="4.9"/><circle cx="172.3" cy="213.8" r="4.9"/><circle cx="320.4" cy="396.4" r="4.9"/><circle cx="370.5" cy="394.6" r="4.9"/><circle cx="247.8" cy="151.2" r="4.9"/><circle cx="290.3" cy="223.6" r="4.9"/><circle cx="388.4" cy="458.8" r="4.9"/><circle cx="261.9" cy="249.2" r="4.9"/><circle cx="184.1" cy="192.8" r="4.9"/><circle cx="312.9" cy="308.9" r="4.9"/><circle cx="453.2" cy="385.6" r="4.9"/><circle cx="412.7" cy="401.2" r="4.9"/><circle cx="346.4" cy="405.6" r="4.9"/><circle cx="355.2" cy="459.3" r="4.9"/><circle cx="382.3" cy="368.9" r="4.9"/><circle cx="424.2" cy="437.8" r="4.9"/><circle cx="347.9" cy="467.4" r="4.9"/><circle cx="236.6" cy="205.8" r="4.9"/><circle cx="429" cy="386.3" r="4.9"/><circle cx="524.7" cy="185.2" r="4.9"/><circle cx="481.4" cy="383.3" r="4.9"/><circle cx="509.7" cy="350.6" r="4.9"/><circle cx="302.7" cy="343.2" r="4.9"/><circle cx="337" cy="381.5" r="4.9"/><circle cx="306.6" cy="214.1" r="4.9"/><circle cx="243.9" cy="183.7" r="4.9"/><circle cx="334.5" cy="298.1" r="4.9"/><circle cx="239.5" cy="260.7" r="4.9"/><circle cx="417.7" cy="416" r="4.9"/><circle cx="248.7" cy="194.9" r="4.9"/><circle cx="189.9" cy="181.2" r="4.9"/><circle cx="313.6" cy="252" r="4.9"/><circle cx="219.2" cy="181.2" r="4.9"/><circle cx="360.9" cy="456.3" r="4.9"/><circle cx="436.2" cy="351.6" r="4.9"/><circle cx="299.7" cy="199.8" r="4.9"/><circle cx="259.8" cy="283" r="4.9"/><circle cx="290.4" cy="280.9" r="4.9"/><circle cx="205.2" cy="130.8" r="4.9"/><circle cx="380" cy="483" r="4.9"/><circle cx="330.3" cy="300.9" r="4.9"/><circle cx="376.4" cy="390.9" r="4.9"/><circle cx="191.6" cy="197.1" r="4.9"/><circle cx="415.8" cy="429" r="4.9"/><circle cx="476.8" cy="363.2" r="4.9"/><circle cx="314.9" cy="419.9" r="4.9"/><circle cx="182.4" cy="266" r="4.9"/><circle cx="213.6" cy="148.5" r="4.9"/><circle cx="289.1" cy="191.1" r="4.9"/><circle cx="210.9" cy="184.8" r="4.9"/><circle cx="493.9" cy="347.9" r="4.9"/><circle cx="381.4" cy="424.2" r="4.9"/><circle cx="468.7" cy="384" r="4.9"/><circle cx="477.8" cy="341" r="4.9"/><circle cx="468.9" cy="283.4" r="4.9"/><circle cx="209.6" cy="281.8" r="4.9"/><circle cx="352.3" cy="359.5" r="4.9"/><circle cx="265.9" cy="243.9" r="4.9"/><circle cx="214.6" cy="166.5" r="4.9"/><circle cx="398.5" cy="354.3" r="4.9"/><circle cx="446.7" cy="328.1" r="4.9"/><circle cx="178.3" cy="205.3" r="4.9"/><circle cx="325" cy="283.3" r="4.9"/><circle cx="281" cy="234.7" r="4.9"/><circle cx="363.2" cy="401.5" r="4.9"/><circle cx="250.3" cy="197.8" r="4.9"/><circle cx="405.3" cy="475.6" r="4.9"/><circle cx="265.3" cy="223.3" r="4.9"/><circle cx="474.9" cy="303.1" r="4.9"/><circle cx="407.6" cy="431.4" r="4.9"/><circle cx="370.8" cy="431.5" r="4.9"/><circle cx="300.8" cy="213.6" r="4.9"/><circle cx="146.5" cy="262.2" r="4.9"/><circle cx="145.8" cy="215.1" r="4.9"/><circle cx="379.5" cy="461.7" r="4.9"/><circle cx="238.8" cy="245.9" r="4.9"/><circle cx="484.4" cy="346" r="4.9"/><circle cx="277.5" cy="186.5" r="4.9"/><circle cx="427.4" cy="390.9" r="4.9"/><circle cx="240.2" cy="202.6" r="4.9"/><circle cx="208.6" cy="181.2" r="4.9"/><circle cx="359.5" cy="375.6" r="4.9"/><circle cx="258" cy="193.7" r="4.9"/><circle cx="274.5" cy="199.1" r="4.9"/><circle cx="374" cy="397.9" r="4.9"/><circle cx="515.6" cy="213.4" r="4.9"/><circle cx="323.6" cy="282.2" r="4.9"/><circle cx="286" cy="281.8" r="4.9"/><circle cx="309.5" cy="274.6" r="4.9"/><circle cx="474.8" cy="279.1" r="4.9"/><circle cx="319.4" cy="303.5" r="4.9"/><circle cx="249.7" cy="261.2" r="4.9"/><circle cx="357.2" cy="376.3" r="4.9"/><circle cx="349.2" cy="322.3" r="4.9"/><circle cx="256.9" cy="258.1" r="4.9"/><circle cx="434.1" cy="415.3" r="4.9"/><circle cx="382.2" cy="355.8" r="4.9"/><circle cx="234.9" cy="184.7" r="4.9"/><circle cx="272.8" cy="240.9" r="4.9"/><circle cx="422.2" cy="417.2" r="4.9"/><circle cx="311.6" cy="294.7" r="4.9"/><circle cx="511.9" cy="300.1" r="4.9"/><circle cx="404.8" cy="383.2" r="4.9"/><circle cx="457.4" cy="378.4" r="4.9"/><circle cx="303.8" cy="378" r="4.9"/><circle cx="227.5" cy="209.9" r="4.9"/><circle cx="331" cy="476.2" r="4.9"/><circle cx="296.7" cy="245.5" r="4.9"/><circle cx="425.1" cy="400.2" r="4.9"/><circle cx="221" cy="305.2" r="4.9"/><circle cx="331.2" cy="394.7" r="4.9"/><circle cx="384.8" cy="459.2" r="4.9"/><circle cx="427.1" cy="467.8" r="4.9"/><circle cx="466.1" cy="278.8" r="4.9"/><circle cx="330.7" cy="304.2" r="4.9"/><circle cx="409.6" cy="448.1" r="4.9"/><circle cx="306.3" cy="286.3" r="4.9"/><circle cx="279.9" cy="300.8" r="4.9"/><circle cx="324.7" cy="444.8" r="4.9"/><circle cx="322.8" cy="319.1" r="4.9"/><circle cx="442.6" cy="414.5" r="4.9"/><circle cx="348.8" cy="370.9" r="4.9"/><circle cx="176.3" cy="221.6" r="4.9"/><circle cx="285.5" cy="252.9" r="4.9"/><circle cx="173.7" cy="125.6" r="4.9"/><circle cx="255.2" cy="222.5" r="4.9"/><circle cx="351.1" cy="354.5" r="4.9"/><circle cx="523.6" cy="206.8" r="4.9"/><circle cx="493.5" cy="275.7" r="4.9"/><circle cx="265.1" cy="282" r="4.9"/><circle cx="283.7" cy="156.6" r="4.9"/><circle cx="269.9" cy="212.7" r="4.9"/><circle cx="354.7" cy="353.7" r="4.9"/><circle cx="365.9" cy="465.4" r="4.9"/><circle cx="405.4" cy="397.9" r="4.9"/><circle cx="218.4" cy="221.7" r="4.9"/><circle cx="244.9" cy="229.4" r="4.9"/><circle cx="370.4" cy="405" r="4.9"/><circle cx="531.2" cy="252.6" r="4.9"/><circle cx="233.3" cy="195.7" r="4.9"/><circle cx="277" cy="302.4" r="4.9"/><circle cx="221.1" cy="229.2" r="4.9"/><circle cx="217.1" cy="224.9" r="4.9"/><circle cx="241.8" cy="226.5" r="4.9"/><circle cx="391.1" cy="459.7" r="4.9"/><circle cx="197.3" cy="198.7" r="4.9"/><circle cx="298.5" cy="292.7" r="4.9"/><circle cx="410.3" cy="430.7" r="4.9"/><circle cx="360.4" cy="434.7" r="4.9"/><circle cx="286.7" cy="178.6" r="4.9"/><circle cx="383.4" cy="416" r="4.9"/><circle cx="501.4" cy="186.6" r="4.9"/><circle cx="219.6" cy="255.2" r="4.9"/><circle cx="271.2" cy="156.5" r="4.9"/><circle cx="180.2" cy="197" r="4.9"/><circle cx="544.4" cy="220.9" r="4.9"/><circle cx="311.9" cy="392" r="4.9"/><circle cx="244" cy="249.1" r="4.9"/><circle cx="328.2" cy="238.3" r="4.9"/><circle cx="241.9" cy="266.8" r="4.9"/><circle cx="325.3" cy="385.2" r="4.9"/><circle cx="324.6" cy="316" r="4.9"/><circle cx="298.1" cy="311.2" r="4.9"/><circle cx="335.3" cy="285.1" r="4.9"/><circle cx="358.8" cy="358.8" r="4.9"/><circle cx="514.5" cy="231.5" r="4.9"/><circle cx="300.1" cy="222.8" r="4.9"/><circle cx="472.6" cy="352" r="4.9"/><circle cx="320.6" cy="253.9" r="4.9"/><circle cx="179.3" cy="263.9" r="4.9"/><circle cx="303.6" cy="234.9" r="4.9"/><circle cx="386.5" cy="382.7" r="4.9"/><circle cx="308.7" cy="359.3" r="4.9"/><circle cx="410.4" cy="472.8" r="4.9"/><circle cx="222.8" cy="257.4" r="4.9"/><circle cx="544.4" cy="256.9" r="4.9"/><circle cx="203.9" cy="220.4" r="4.9"/><circle cx="298.7" cy="217.2" r="4.9"/><circle cx="187" cy="117.9" r="4.9"/><circle cx="304.9" cy="245.3" r="4.9"/><circle cx="247.1" cy="160.7" r="4.9"/><circle cx="363.9" cy="415.6" r="4.9"/><circle cx="404.1" cy="407.4" r="4.9"/><circle cx="362.1" cy="459.8" r="4.9"/><circle cx="336.1" cy="326.7" r="4.9"/><circle cx="364" cy="387.3" r="4.9"/><circle cx="97.8" cy="273.3" r="4.9"/><circle cx="341.9" cy="326.7" r="4.9"/><circle cx="188.6" cy="196.9" r="4.9"/><circle cx="261.4" cy="280.3" r="4.9"/><circle cx="297.3" cy="272.4" r="4.9"/><circle cx="429.3" cy="323.9" r="4.9"/><circle cx="415.2" cy="414.7" r="4.9"/><circle cx="474.8" cy="287.1" r="4.9"/><circle cx="317.9" cy="276.8" r="4.9"/><circle cx="227.4" cy="257.8" r="4.9"/><circle cx="273.3" cy="231.1" r="4.9"/><circle cx="304.9" cy="362.5" r="4.9"/><circle cx="403.2" cy="403.7" r="4.9"/><circle cx="286.7" cy="196.3" r="4.9"/><circle cx="280" cy="218.4" r="4.9"/><circle cx="339.8" cy="435.4" r="4.9"/><circle cx="258.1" cy="246.9" r="4.9"/><circle cx="239.4" cy="257.9" r="4.9"/><circle cx="321.1" cy="337.1" r="4.9"/><circle cx="416.9" cy="383.6" r="4.9"/><circle cx="217.2" cy="234.5" r="4.9"/><circle cx="458" cy="373.4" r="4.9"/><circle cx="431" cy="403.9" r="4.9"/><circle cx="244.9" cy="190.2" r="4.9"/><circle cx="308.7" cy="346.9" r="4.9"/><circle cx="340.9" cy="393.9" r="4.9"/><circle cx="343.1" cy="357.9" r="4.9"/><circle cx="347.5" cy="402.1" r="4.9"/><circle cx="252" cy="212.9" r="4.9"/><circle cx="345.1" cy="392.6" r="4.9"/><circle cx="489" cy="269.6" r="4.9"/><circle cx="283.7" cy="215.9" r="4.9"/><circle cx="185.8" cy="245.4" r="4.9"/><circle cx="321.8" cy="324.5" r="4.9"/><circle cx="324.9" cy="349.8" r="4.9"/><circle cx="338.4" cy="422" r="4.9"/><circle cx="357.9" cy="350.7" r="4.9"/><circle cx="318.8" cy="379.9" r="4.9"/><circle cx="142.2" cy="112.3" r="4.9"/><circle cx="367" cy="394.9" r="4.9"/><circle cx="273.9" cy="264.2" r="4.9"/><circle cx="319.5" cy="320" r="4.9"/><circle cx="366.9" cy="388.9" r="4.9"/><circle cx="228.4" cy="221.6" r="4.9"/><circle cx="222.4" cy="132.6" r="4.9"/><circle cx="309.4" cy="245.4" r="4.9"/><circle cx="353.8" cy="344.6" r="4.9"/><circle cx="301.3" cy="353.8" r="4.9"/><circle cx="263.8" cy="245" r="4.9"/><circle cx="430.6" cy="346.5" r="4.9"/><circle cx="302.3" cy="261.1" r="4.9"/><circle cx="539.5" cy="251.2" r="4.9"/><circle cx="370.9" cy="388.3" r="4.9"/><circle cx="306.2" cy="276.3" r="4.9"/><circle cx="339.4" cy="465.6" r="4.9"/><circle cx="316.9" cy="303.2" r="4.9"/><circle cx="285.5" cy="189.6" r="4.9"/><circle cx="356.9" cy="411" r="4.9"/><circle cx="476.6" cy="349.3" r="4.9"/><circle cx="286.1" cy="263" r="4.9"/><circle cx="332.1" cy="427" r="4.9"/><circle cx="351" cy="351.3" r="4.9"/><circle cx="228.1" cy="235.5" r="4.9"/><circle cx="294.9" cy="294.2" r="4.9"/><circle cx="136.6" cy="213.8" r="4.9"/><circle cx="332.8" cy="338.9" r="4.9"/><circle cx="292.8" cy="307.9" r="4.9"/><circle cx="314.7" cy="389.3" r="4.9"/><circle cx="418.4" cy="397.6" r="4.9"/><circle cx="397" cy="409.2" r="4.9"/><circle cx="369" cy="473.4" r="4.9"/><circle cx="303.6" cy="311.3" r="4.9"/><circle cx="256.5" cy="239.3" r="4.9"/><circle cx="444.8" cy="343.1" r="4.9"/><circle cx="160.9" cy="222.2" r="4.9"/><circle cx="270.8" cy="251.1" r="4.9"/><circle cx="220" cy="121.5" r="4.9"/><circle cx="346.4" cy="304.9" r="4.9"/><circle cx="386.4" cy="446.2" r="4.9"/><circle cx="225.2" cy="244.5" r="4.9"/><circle cx="345.5" cy="386.6" r="4.9"/><circle cx="479.9" cy="263.8" r="4.9"/><circle cx="445" cy="302.3" r="4.9"/><circle cx="135" cy="236" r="4.9"/><circle cx="335.1" cy="398.5" r="4.9"/><circle cx="520.6" cy="224" r="4.9"/><circle cx="335.1" cy="328.9" r="4.9"/><circle cx="343.6" cy="413.4" r="4.9"/><circle cx="115.1" cy="260.4" r="4.9"/><circle cx="281.1" cy="271.7" r="4.9"/><circle cx="289.5" cy="267.2" r="4.9"/><circle cx="403.7" cy="412.5" r="4.9"/><circle cx="267.9" cy="279.4" r="4.9"/><circle cx="358.5" cy="452.9" r="4.9"/><circle cx="254.1" cy="269.5" r="4.9"/><circle cx="471.2" cy="356" r="4.9"/><circle cx="226.7" cy="214.4" r="4.9"/><circle cx="275.2" cy="251.3" r="4.9"/><circle cx="334.6" cy="429.6" r="4.9"/><circle cx="182.1" cy="315.3" r="4.9"/><circle cx="183.5" cy="161.5" r="4.9"/><circle cx="230.6" cy="264.4" r="4.9"/><circle cx="248.6" cy="210.3" r="4.9"/><circle cx="329" cy="327.2" r="4.9"/><circle cx="378.5" cy="434.3" r="4.9"/><circle cx="233.1" cy="232.4" r="4.9"/><circle cx="146.3" cy="267" r="4.9"/><circle cx="152.9" cy="156.5" r="4.9"/><circle cx="237.5" cy="167.5" r="4.9"/><circle cx="283.9" cy="201.1" r="4.9"/><circle cx="227.9" cy="274.8" r="4.9"/><circle cx="264.9" cy="212.1" r="4.9"/><circle cx="362.7" cy="491.7" r="4.9"/><circle cx="293.2" cy="280.8" r="4.9"/><circle cx="532" cy="236.5" r="4.9"/><circle cx="268.4" cy="286.4" r="4.9"/><circle cx="288.9" cy="228.8" r="4.9"/><circle cx="257.6" cy="168.5" r="4.9"/><circle cx="256.2" cy="197.9" r="4.9"/><circle cx="262.9" cy="241.9" r="4.9"/><circle cx="339.2" cy="364.4" r="4.9"/><circle cx="146.4" cy="230.4" r="4.9"/><circle cx="238.2" cy="185.4" r="4.9"/><circle cx="220.1" cy="158.6" r="4.9"/><circle cx="259.6" cy="218" r="4.9"/><circle cx="282.4" cy="290.6" r="4.9"/><circle cx="272.4" cy="205.7" r="4.9"/><circle cx="321.9" cy="421.5" r="4.9"/><circle cx="312" cy="411.5" r="4.9"/><circle cx="468.4" cy="342.1" r="4.9"/><circle cx="321.3" cy="393.1" r="4.9"/><circle cx="273.7" cy="259.7" r="4.9"/><circle cx="248.5" cy="236" r="4.9"/><circle cx="288.5" cy="323.9" r="4.9"/><circle cx="196" cy="205.1" r="4.9"/><circle cx="246.1" cy="313.4" r="4.9"/><circle cx="470.5" cy="249.8" r="4.9"/><circle cx="196.1" cy="226.1" r="4.9"/><circle cx="334.2" cy="304" r="4.9"/><circle cx="412.7" cy="368.2" r="4.9"/><circle cx="222.5" cy="248.2" r="4.9"/><circle cx="337.7" cy="353.5" r="4.9"/><circle cx="367" cy="435.5" r="4.9"/><circle cx="429.9" cy="444" r="4.9"/><circle cx="305" cy="234.9" r="4.9"/><circle cx="185.1" cy="284.7" r="4.9"/><circle cx="155.8" cy="232.2" r="4.9"/><circle cx="231.7" cy="233.5" r="4.9"/><circle cx="413.1" cy="387.9" r="4.9"/><circle cx="306.2" cy="325.4" r="4.9"/><circle cx="294.7" cy="257.1" r="4.9"/><circle cx="283.2" cy="250.5" r="4.9"/><circle cx="219.4" cy="175.4" r="4.9"/><circle cx="343.9" cy="376.1" r="4.9"/><circle cx="332.3" cy="388" r="4.9"/><circle cx="320" cy="418.5" r="4.9"/><circle cx="359.9" cy="396.7" r="4.9"/><circle cx="294.4" cy="333.1" r="4.9"/><circle cx="306.1" cy="272.6" r="4.9"/><circle cx="354.7" cy="447.9" r="4.9"/><circle cx="314.8" cy="256" r="4.9"/><circle cx="300.3" cy="231.4" r="4.9"/><circle cx="279.9" cy="255" r="4.9"/><circle cx="126.9" cy="268.1" r="4.9"/><circle cx="391.7" cy="426.8" r="4.9"/><circle cx="438.7" cy="436.5" r="4.9"/><circle cx="512.7" cy="212.7" r="4.9"/><circle cx="483.3" cy="258.3" r="4.9"/><circle cx="366.5" cy="453.2" r="4.9"/><circle cx="245.8" cy="288.4" r="4.9"/><circle cx="245.5" cy="184.9" r="4.9"/><circle cx="397.7" cy="460.8" r="4.9"/><circle cx="214.4" cy="259.8" r="4.9"/><circle cx="465.6" cy="285" r="4.9"/><circle cx="355.5" cy="383.8" r="4.9"/><circle cx="266.8" cy="246.3" r="4.9"/><circle cx="346.9" cy="456.5" r="4.9"/><circle cx="273.8" cy="210.2" r="4.9"/><circle cx="532.2" cy="291.8" r="4.9"/><circle cx="132.2" cy="95.9" r="4.9"/><circle cx="353.5" cy="367.6" r="4.9"/><circle cx="291.6" cy="297.3" r="4.9"/><circle cx="386.4" cy="462" r="4.9"/><circle cx="272.1" cy="267.3" r="4.9"/><circle cx="469.2" cy="319.4" r="4.9"/><circle cx="256.7" cy="184" r="4.9"/><circle cx="218.7" cy="261.5" r="4.9"/><circle cx="154.6" cy="252.4" r="4.9"/><circle cx="268" cy="174.5" r="4.9"/><circle cx="354" cy="351.3" r="4.9"/><circle cx="262.6" cy="234.4" r="4.9"/><circle cx="338.8" cy="451.4" r="4.9"/><circle cx="398.7" cy="465" r="4.9"/><circle cx="313.9" cy="402" r="4.9"/><circle cx="371.4" cy="478.1" r="4.9"/><circle cx="175.5" cy="177.1" r="4.9"/><circle cx="268.6" cy="200.6" r="4.9"/><circle cx="244.8" cy="271.8" r="4.9"/><circle cx="462.8" cy="298.7" r="4.9"/><circle cx="405.9" cy="410.7" r="4.9"/><circle cx="444.3" cy="418.2" r="4.9"/><circle cx="345.1" cy="428.8" r="4.9"/><circle cx="459.1" cy="384.2" r="4.9"/><circle cx="353.2" cy="402.8" r="4.9"/><circle cx="248" cy="259.9" r="4.9"/><circle cx="169.1" cy="166.6" r="4.9"/><circle cx="301.5" cy="344.2" r="4.9"/><circle cx="157.5" cy="280.2" r="4.9"/><circle cx="375" cy="386.1" r="4.9"/><circle cx="264.9" cy="296.3" r="4.9"/><circle cx="178.2" cy="194.2" r="4.9"/><circle cx="297.6" cy="271.5" r="4.9"/><circle cx="340.1" cy="350.1" r="4.9"/><circle cx="231.6" cy="184.2" r="4.9"/><circle cx="448.9" cy="362.7" r="4.9"/><circle cx="301.5" cy="364.9" r="4.9"/><circle cx="355.8" cy="389.8" r="4.9"/><circle cx="335.2" cy="288.2" r="4.9"/><circle cx="539.5" cy="218.4" r="4.9"/><circle cx="366.4" cy="382" r="4.9"/><circle cx="207.4" cy="250.9" r="4.9"/><circle cx="351.3" cy="432.8" r="4.9"/><circle cx="284.2" cy="272.5" r="4.9"/><circle cx="228.8" cy="174.5" r="4.9"/><circle cx="329.5" cy="366.7" r="4.9"/><circle cx="188.2" cy="255" r="4.9"/><circle cx="381.3" cy="406.9" r="4.9"/><circle cx="328" cy="323" r="4.9"/><circle cx="303.3" cy="240.4" r="4.9"/><circle cx="274.5" cy="219" r="4.9"/><circle cx="397.9" cy="395.9" r="4.9"/><circle cx="456.5" cy="470.5" r="4.9"/><circle cx="252.7" cy="202.9" r="4.9"/><circle cx="347.9" cy="342.8" r="4.9"/><circle cx="282.1" cy="292.7" r="4.9"/><circle cx="276.4" cy="189.1" r="4.9"/><circle cx="528.2" cy="274.8" r="4.9"/><circle cx="228.4" cy="206.1" r="4.9"/><circle cx="145.7" cy="309.3" r="4.9"/><circle cx="410.6" cy="443.9" r="4.9"/><circle cx="538.4" cy="213.8" r="4.9"/><circle cx="114.5" cy="270.9" r="4.9"/><circle cx="236.2" cy="238" r="4.9"/><circle cx="275.4" cy="282.7" r="4.9"/><circle cx="342.2" cy="446.2" r="4.9"/><circle cx="293.8" cy="286.7" r="4.9"/><circle cx="177.1" cy="305.8" r="4.9"/><circle cx="209.2" cy="138" r="4.9"/><circle cx="452.7" cy="409.9" r="4.9"/><circle cx="247.8" cy="255.6" r="4.9"/><circle cx="223.5" cy="167.9" r="4.9"/><circle cx="284.7" cy="189.5" r="4.9"/><circle cx="329.6" cy="311.9" r="4.9"/><circle cx="335.7" cy="363.3" r="4.9"/><circle cx="228.9" cy="310.5" r="4.9"/><circle cx="231.7" cy="159.1" r="4.9"/><circle cx="247.3" cy="246.8" r="4.9"/><circle cx="403" cy="399.9" r="4.9"/><circle cx="348.3" cy="411.5" r="4.9"/><circle cx="361.6" cy="381.9" r="4.9"/><circle cx="476.1" cy="346.9" r="4.9"/><circle cx="434.6" cy="450" r="4.9"/><circle cx="345.3" cy="427.7" r="4.9"/><circle cx="302.8" cy="337.6" r="4.9"/><circle cx="417.7" cy="365.5" r="4.9"/><circle cx="406.9" cy="470.7" r="4.9"/><circle cx="343.5" cy="441.8" r="4.9"/><circle cx="167.8" cy="144.5" r="4.9"/><circle cx="351.7" cy="442.5" r="4.9"/><circle cx="241.2" cy="197.5" r="4.9"/><circle cx="396.7" cy="374.8" r="4.9"/><circle cx="355.6" cy="399.7" r="4.9"/><circle cx="202.6" cy="237.9" r="4.9"/><circle cx="303.2" cy="271" r="4.9"/><circle cx="350.4" cy="390.8" r="4.9"/><circle cx="431.2" cy="368" r="4.9"/><circle cx="265.9" cy="296.7" r="4.9"/><circle cx="237.1" cy="252.6" r="4.9"/><circle cx="290.9" cy="277" r="4.9"/><circle cx="407.1" cy="375.3" r="4.9"/><circle cx="176.5" cy="252.2" r="4.9"/><circle cx="287.7" cy="206.9" r="4.9"/><circle cx="408.8" cy="420.4" r="4.9"/><circle cx="171.9" cy="251.4" r="4.9"/><circle cx="259" cy="221.9" r="4.9"/><circle cx="380.9" cy="374" r="4.9"/><circle cx="281.7" cy="219.5" r="4.9"/><circle cx="296.9" cy="196.5" r="4.9"/><circle cx="262.8" cy="265.7" r="4.9"/><circle cx="193.2" cy="230.6" r="4.9"/><circle cx="224.7" cy="260.9" r="4.9"/><circle cx="355.1" cy="414" r="4.9"/><circle cx="173" cy="180.5" r="4.9"/><circle cx="516.1" cy="272.1" r="4.9"/><circle cx="268.1" cy="155.6" r="4.9"/><circle cx="316.6" cy="279.4" r="4.9"/><circle cx="366.9" cy="439.2" r="4.9"/><circle cx="370.4" cy="372.9" r="4.9"/><circle cx="448.2" cy="385.4" r="4.9"/><circle cx="251.7" cy="169.7" r="4.9"/><circle cx="419.3" cy="401.1" r="4.9"/><circle cx="270" cy="257.2" r="4.9"/><circle cx="276.6" cy="287" r="4.9"/><circle cx="245.1" cy="198.2" r="4.9"/><circle cx="305.9" cy="283.9" r="4.9"/><circle cx="314.3" cy="331.1" r="4.9"/><circle cx="376.3" cy="444.5" r="4.9"/><circle cx="188.4" cy="148.1" r="4.9"/><circle cx="338.1" cy="414.1" r="4.9"/><circle cx="250" cy="272.3" r="4.9"/><circle cx="225.9" cy="166.6" r="4.9"/><circle cx="476.9" cy="354.5" r="4.9"/><circle cx="519.1" cy="288.2" r="4.9"/><circle cx="375.2" cy="432.6" r="4.9"/><circle cx="308.5" cy="222.8" r="4.9"/><circle cx="368.5" cy="359.7" r="4.9"/><circle cx="440.9" cy="432.2" r="4.9"/><circle cx="412.6" cy="471" r="4.9"/><circle cx="310" cy="238.4" r="4.9"/><circle cx="370.5" cy="367.5" r="4.9"/><circle cx="350.5" cy="393.9" r="4.9"/><circle cx="218.3" cy="239.6" r="4.9"/><circle cx="261.7" cy="197.6" r="4.9"/><circle cx="181.9" cy="254.8" r="4.9"/><circle cx="287.9" cy="299.1" r="4.9"/><circle cx="341.4" cy="336.6" r="4.9"/><circle cx="309.5" cy="296.2" r="4.9"/><circle cx="286.8" cy="220.9" r="4.9"/><circle cx="244.3" cy="217.7" r="4.9"/><circle cx="326.2" cy="445.7" r="4.9"/><circle cx="308.6" cy="296.5" r="4.9"/><circle cx="366.7" cy="427.9" r="4.9"/><circle cx="235.2" cy="262.4" r="4.9"/><circle cx="307.4" cy="339.5" r="4.9"/><circle cx="275.7" cy="297" r="4.9"/><circle cx="348.2" cy="378.7" r="4.9"/><circle cx="206.1" cy="243.5" r="4.9"/><circle cx="265.8" cy="274.1" r="4.9"/><circle cx="454.4" cy="293.2" r="4.9"/><circle cx="351.3" cy="407.7" r="4.9"/><circle cx="305.4" cy="360.2" r="4.9"/><circle cx="327.1" cy="411.4" r="4.9"/><circle cx="339.4" cy="436.2" r="4.9"/><circle cx="197" cy="128.8" r="4.9"/><circle cx="396.2" cy="456.3" r="4.9"/><circle cx="259.6" cy="207.6" r="4.9"/><circle cx="246.4" cy="249.9" r="4.9"/><circle cx="348.3" cy="399.3" r="4.9"/><circle cx="504.6" cy="268.7" r="4.9"/><circle cx="481.5" cy="251" r="4.9"/><circle cx="434.3" cy="372.1" r="4.9"/><circle cx="234.3" cy="258.2" r="4.9"/><circle cx="348.5" cy="352.1" r="4.9"/><circle cx="315.2" cy="260.2" r="4.9"/><circle cx="326.8" cy="292.7" r="4.9"/><circle cx="390.1" cy="434.4" r="4.9"/><circle cx="347.6" cy="328.2" r="4.9"/><circle cx="358" cy="327.2" r="4.9"/><circle cx="361.2" cy="399.8" r="4.9"/><circle cx="515.9" cy="201.9" r="4.9"/><circle cx="205" cy="191.6" r="4.9"/><circle cx="476.7" cy="238.1" r="4.9"/><circle cx="453.6" cy="307.1" r="4.9"/><circle cx="487.7" cy="348.1" r="4.9"/><circle cx="495.8" cy="258.3" r="4.9"/><circle cx="342.6" cy="362.9" r="4.9"/><circle cx="333.6" cy="470.4" r="4.9"/><circle cx="373.6" cy="441.7" r="4.9"/><circle cx="209.3" cy="272.6" r="4.9"/><circle cx="175.6" cy="196.2" r="4.9"/><circle cx="340" cy="409.1" r="4.9"/><circle cx="355" cy="469.4" r="4.9"/><circle cx="391.3" cy="409.7" r="4.9"/><circle cx="231.2" cy="209" r="4.9"/><circle cx="366.5" cy="484.5" r="4.9"/><circle cx="353.8" cy="369.5" r="4.9"/><circle cx="202" cy="272.2" r="4.9"/><circle cx="265.8" cy="193.2" r="4.9"/><circle cx="196.5" cy="148.3" r="4.9"/><circle cx="499.4" cy="292.5" r="4.9"/><circle cx="253.4" cy="200" r="4.9"/><circle cx="286.9" cy="237.8" r="4.9"/><circle cx="282" cy="228" r="4.9"/><circle cx="332.4" cy="360.6" r="4.9"/><circle cx="510.9" cy="271.2" r="4.9"/><circle cx="266.1" cy="197.1" r="4.9"/><circle cx="344.1" cy="422.1" r="4.9"/><circle cx="336.8" cy="406.5" r="4.9"/><circle cx="102" cy="216.3" r="4.9"/><circle cx="447.3" cy="378.5" r="4.9"/><circle cx="213.8" cy="152.5" r="4.9"/><circle cx="253.6" cy="195.8" r="4.9"/><circle cx="536.4" cy="253.6" r="4.9"/><circle cx="237.2" cy="250.8" r="4.9"/><circle cx="352" cy="402.8" r="4.9"/><circle cx="355.1" cy="333.8" r="4.9"/><circle cx="268.8" cy="208" r="4.9"/><circle cx="190.9" cy="216.2" r="4.9"/><circle cx="511.2" cy="216.2" r="4.9"/><circle cx="256.6" cy="169.1" r="4.9"/><circle cx="396.7" cy="468.8" r="4.9"/><circle cx="363.2" cy="440.1" r="4.9"/><circle cx="313.8" cy="272.8" r="4.9"/><circle cx="337.8" cy="442.9" r="4.9"/><circle cx="251.6" cy="237.8" r="4.9"/><circle cx="513.4" cy="204.8" r="4.9"/><circle cx="362.4" cy="372.4" r="4.9"/><circle cx="309.9" cy="329.9" r="4.9"/><circle cx="489.8" cy="335.4" r="4.9"/><circle cx="290.7" cy="207.9" r="4.9"/><circle cx="331.1" cy="286.7" r="4.9"/><circle cx="329.4" cy="299.6" r="4.9"/><circle cx="313.9" cy="304.6" r="4.9"/><circle cx="344.9" cy="323.8" r="4.9"/><circle cx="331.3" cy="375" r="4.9"/><circle cx="282" cy="298.5" r="4.9"/><circle cx="360.8" cy="481.5" r="4.9"/><circle cx="239.6" cy="150.9" r="4.9"/><circle cx="277.7" cy="280.8" r="4.9"/><circle cx="277.8" cy="328.5" r="4.9"/><circle cx="287.4" cy="233" r="4.9"/><circle cx="366" cy="429" r="4.9"/><circle cx="231.2" cy="152.3" r="4.9"/><circle cx="278.6" cy="273.6" r="4.9"/><circle cx="504.3" cy="300.7" r="4.9"/><circle cx="292.8" cy="226.4" r="4.9"/><circle cx="282.9" cy="243.8" r="4.9"/><circle cx="332" cy="349.8" r="4.9"/><circle cx="282.1" cy="287.9" r="4.9"/><circle cx="305.3" cy="236.2" r="4.9"/><circle cx="448.2" cy="348.9" r="4.9"/><circle cx="306.3" cy="383.7" r="4.9"/><circle cx="423" cy="388.9" r="4.9"/><circle cx="491.3" cy="307.9" r="4.9"/><circle cx="226.3" cy="228.6" r="4.9"/><circle cx="333.6" cy="350.7" r="4.9"/><circle cx="226.2" cy="217.6" r="4.9"/><circle cx="346.6" cy="374.7" r="4.9"/><circle cx="349.3" cy="422.3" r="4.9"/><circle cx="341.7" cy="314.3" r="4.9"/><circle cx="425.4" cy="478.5" r="4.9"/><circle cx="458.6" cy="328.4" r="4.9"/><circle cx="378.1" cy="454.5" r="4.9"/><circle cx="450.9" cy="365.3" r="4.9"/><circle cx="364.2" cy="389.6" r="4.9"/><circle cx="292.4" cy="260.8" r="4.9"/><circle cx="444.8" cy="358.7" r="4.9"/><circle cx="377.8" cy="472.9" r="4.9"/><circle cx="380.1" cy="371.2" r="4.9"/><circle cx="315.8" cy="363.4" r="4.9"/><circle cx="351.6" cy="408.8" r="4.9"/><circle cx="264.8" cy="284.3" r="4.9"/><circle cx="459.9" cy="340.1" r="4.9"/><circle cx="308.7" cy="241" r="4.9"/><circle cx="304.8" cy="221.9" r="4.9"/><circle cx="505.5" cy="335.7" r="4.9"/><circle cx="396.6" cy="464.8" r="4.9"/><circle cx="326.5" cy="390.8" r="4.9"/><circle cx="313.2" cy="378" r="4.9"/><circle cx="277.9" cy="197.3" r="4.9"/><circle cx="276.7" cy="255.3" r="4.9"/><circle cx="368.2" cy="461.8" r="4.9"/><circle cx="201.4" cy="216.7" r="4.9"/><circle cx="217.2" cy="272.6" r="4.9"/><circle cx="293.7" cy="266" r="4.9"/><circle cx="191.9" cy="177.4" r="4.9"/><circle cx="367.9" cy="371.1" r="4.9"/><circle cx="224" cy="209.5" r="4.9"/><circle cx="358.7" cy="342.2" r="4.9"/><circle cx="295.4" cy="216.9" r="4.9"/><circle cx="246.2" cy="203.8" r="4.9"/><circle cx="360.8" cy="416.3" r="4.9"/><circle cx="293.1" cy="206.7" r="4.9"/><circle cx="356.3" cy="376.2" r="4.9"/><circle cx="227.5" cy="260.1" r="4.9"/><circle cx="146.3" cy="257.9" r="4.9"/><circle cx="429.2" cy="439.5" r="4.9"/><circle cx="455.4" cy="321.8" r="4.9"/><circle cx="467.2" cy="324.5" r="4.9"/><circle cx="318.3" cy="307.4" r="4.9"/><circle cx="159.7" cy="246.4" r="4.9"/><circle cx="223" cy="280.5" r="4.9"/><circle cx="390.6" cy="396.1" r="4.9"/><circle cx="355.2" cy="432.5" r="4.9"/><circle cx="373.4" cy="477.5" r="4.9"/><circle cx="346" cy="362.9" r="4.9"/><circle cx="232.8" cy="194.9" r="4.9"/><circle cx="352.5" cy="344.5" r="4.9"/><circle cx="256.7" cy="323.9" r="4.9"/><circle cx="240.9" cy="300" r="4.9"/><circle cx="456.6" cy="366.7" r="4.9"/><circle cx="184.9" cy="124.6" r="4.9"/><circle cx="281.1" cy="236.7" r="4.9"/><circle cx="390.5" cy="480.2" r="4.9"/><circle cx="278.4" cy="204.8" r="4.9"/><circle cx="340.9" cy="360.2" r="4.9"/><circle cx="313.6" cy="335.8" r="4.9"/><circle cx="470.3" cy="382.2" r="4.9"/><circle cx="193" cy="242" r="4.9"/><circle cx="157.6" cy="175.9" r="4.9"/><circle cx="315.3" cy="350" r="4.9"/><circle cx="120.4" cy="225.8" r="4.9"/><circle cx="414.9" cy="389.1" r="4.9"/><circle cx="176.4" cy="207.6" r="4.9"/><circle cx="321.2" cy="357.4" r="4.9"/><circle cx="212.8" cy="189.6" r="4.9"/><circle cx="238" cy="235.9" r="4.9"/><circle cx="200.3" cy="149.6" r="4.9"/><circle cx="477.9" cy="365" r="4.9"/><circle cx="519.2" cy="282.8" r="4.9"/><circle cx="352.7" cy="383.8" r="4.9"/><circle cx="221" cy="147.8" r="4.9"/><circle cx="544.7" cy="167.9" r="4.9"/><circle cx="502.1" cy="336" r="4.9"/><circle cx="320.6" cy="358.1" r="4.9"/><circle cx="409.8" cy="424.9" r="4.9"/><circle cx="328.4" cy="258.7" r="4.9"/><circle cx="324.2" cy="383.3" r="4.9"/><circle cx="541.2" cy="204.6" r="4.9"/><circle cx="316.8" cy="241.3" r="4.9"/><circle cx="357.7" cy="437.4" r="4.9"/><circle cx="388.4" cy="357.8" r="4.9"/><circle cx="238.4" cy="219.4" r="4.9"/><circle cx="399.4" cy="419" r="4.9"/><circle cx="225.7" cy="287" r="4.9"/><circle cx="253" cy="260.1" r="4.9"/><circle cx="176.8" cy="189.9" r="4.9"/><circle cx="511.6" cy="256.2" r="4.9"/><circle cx="367.8" cy="483.5" r="4.9"/><circle cx="212.7" cy="258.6" r="4.9"/><circle cx="313.9" cy="230.6" r="4.9"/><circle cx="294.4" cy="232.2" r="4.9"/><circle cx="217.6" cy="193.3" r="4.9"/><circle cx="380.9" cy="426.9" r="4.9"/><circle cx="245.2" cy="236.2" r="4.9"/><circle cx="330.7" cy="250.8" r="4.9"/><circle cx="423.8" cy="448.5" r="4.9"/><circle cx="236.2" cy="298.7" r="4.9"/><circle cx="229.5" cy="167.9" r="4.9"/><circle cx="340.7" cy="385.8" r="4.9"/><circle cx="458.7" cy="317.9" r="4.9"/><circle cx="494.2" cy="302.2" r="4.9"/><circle cx="367.2" cy="402.3" r="4.9"/><circle cx="183.3" cy="188.6" r="4.9"/><circle cx="346.2" cy="349.4" r="4.9"/><circle cx="309.4" cy="345" r="4.9"/><circle cx="342" cy="351.2" r="4.9"/><circle cx="249.6" cy="193.3" r="4.9"/><circle cx="348.3" cy="333.4" r="4.9"/><circle cx="430.4" cy="450" r="4.9"/><circle cx="187.1" cy="216.7" r="4.9"/><circle cx="292.7" cy="317.3" r="4.9"/><circle cx="235.7" cy="166.7" r="4.9"/><circle cx="280.4" cy="250.3" r="4.9"/><circle cx="356.8" cy="463" r="4.9"/><circle cx="359.9" cy="344.4" r="4.9"/><circle cx="299.5" cy="267.3" r="4.9"/><circle cx="375.4" cy="437.7" r="4.9"/><circle cx="408.9" cy="457" r="4.9"/><circle cx="309.4" cy="353.1" r="4.9"/><circle cx="390.8" cy="472.9" r="4.9"/><circle cx="229.8" cy="289.5" r="4.9"/><circle cx="221.1" cy="323.7" r="4.9"/><circle cx="350.5" cy="385" r="4.9"/><circle cx="281.6" cy="223.9" r="4.9"/><circle cx="263.3" cy="223.3" r="4.9"/><circle cx="228.6" cy="196.5" r="4.9"/><circle cx="141.7" cy="234.6" r="4.9"/><circle cx="435.3" cy="409" r="4.9"/><circle cx="384.4" cy="453.2" r="4.9"/><circle cx="216.7" cy="265.3" r="4.9"/><circle cx="317.6" cy="311.1" r="4.9"/><circle cx="237.8" cy="223.2" r="4.9"/><circle cx="212.1" cy="201.8" r="4.9"/><circle cx="490.6" cy="224.4" r="4.9"/><circle cx="322" cy="396.8" r="4.9"/><circle cx="252.4" cy="240.9" r="4.9"/><circle cx="262.1" cy="254.9" r="4.9"/><circle cx="320.5" cy="407.2" r="4.9"/><circle cx="205.3" cy="140.1" r="4.9"/><circle cx="416.4" cy="364" r="4.9"/><circle cx="309.8" cy="304.6" r="4.9"/><circle cx="477.1" cy="290.5" r="4.9"/><circle cx="175.3" cy="219.5" r="4.9"/><circle cx="311.7" cy="279.6" r="4.9"/><circle cx="217" cy="252.2" r="4.9"/><circle cx="279.6" cy="241" r="4.9"/><circle cx="269.4" cy="279.4" r="4.9"/><circle cx="337.2" cy="374" r="4.9"/><circle cx="368.6" cy="495.6" r="4.9"/><circle cx="248.5" cy="182.2" r="4.9"/><circle cx="472.8" cy="299.1" r="4.9"/><circle cx="304.9" cy="313.1" r="4.9"/><circle cx="223.2" cy="285.5" r="4.9"/><circle cx="168.2" cy="187.4" r="4.9"/><circle cx="188.7" cy="231.7" r="4.9"/><circle cx="245.7" cy="260.3" r="4.9"/><circle cx="355.1" cy="464.2" r="4.9"/><circle cx="234.8" cy="182.4" r="4.9"/><circle cx="310.6" cy="303.2" r="4.9"/><circle cx="296" cy="380.2" r="4.9"/><circle cx="475.1" cy="250.9" r="4.9"/><circle cx="237.3" cy="270.8" r="4.9"/><circle cx="357.7" cy="440.9" r="4.9"/><circle cx="329.9" cy="369.8" r="4.9"/><circle cx="347.8" cy="448.4" r="4.9"/><circle cx="187.2" cy="227.2" r="4.9"/><circle cx="302.5" cy="349.5" r="4.9"/><circle cx="331.5" cy="288.3" r="4.9"/><circle cx="341.2" cy="460.8" r="4.9"/><circle cx="371.1" cy="385.8" r="4.9"/><circle cx="340.4" cy="419.3" r="4.9"/><circle cx="332.9" cy="430.8" r="4.9"/><circle cx="213.2" cy="216.3" r="4.9"/><circle cx="191.2" cy="300.9" r="4.9"/><circle cx="238.3" cy="236.7" r="4.9"/><circle cx="392.5" cy="389.7" r="4.9"/><circle cx="310.8" cy="221.7" r="4.9"/><circle cx="529.6" cy="267.8" r="4.9"/><circle cx="334.2" cy="312.6" r="4.9"/><circle cx="227.1" cy="270.1" r="4.9"/><circle cx="324.5" cy="367" r="4.9"/><circle cx="298.2" cy="260.7" r="4.9"/><circle cx="224.1" cy="127.2" r="4.9"/><circle cx="112.6" cy="262.5" r="4.9"/><circle cx="327.2" cy="364" r="4.9"/><circle cx="340.6" cy="479.4" r="4.9"/><circle cx="227.1" cy="264.9" r="4.9"/><circle cx="316.9" cy="323.9" r="4.9"/><circle cx="306.7" cy="320.3" r="4.9"/><circle cx="245.2" cy="269.6" r="4.9"/><circle cx="370.7" cy="454.9" r="4.9"/><circle cx="188.4" cy="152.7" r="4.9"/><circle cx="283.2" cy="173.7" r="4.9"/><circle cx="272.1" cy="331.8" r="4.9"/><circle cx="341.8" cy="439.1" r="4.9"/><circle cx="262.9" cy="211.6" r="4.9"/><circle cx="282.5" cy="320" r="4.9"/><circle cx="533.1" cy="236.9" r="4.9"/><circle cx="266.6" cy="339.8" r="4.9"/><circle cx="235.9" cy="216.7" r="4.9"/><circle cx="396.1" cy="446.2" r="4.9"/><circle cx="282" cy="168.9" r="4.9"/><circle cx="303.3" cy="282.9" r="4.9"/><circle cx="253.1" cy="225.9" r="4.9"/><circle cx="291.8" cy="195.4" r="4.9"/><circle cx="347.2" cy="356.2" r="4.9"/><circle cx="336" cy="346.1" r="4.9"/><circle cx="271" cy="191.4" r="4.9"/><circle cx="247.8" cy="214.2" r="4.9"/><circle cx="447" cy="399.6" r="4.9"/><circle cx="344.6" cy="411.6" r="4.9"/><circle cx="344.9" cy="299" r="4.9"/><circle cx="284.2" cy="204.8" r="4.9"/><circle cx="301.3" cy="295.2" r="4.9"/><circle cx="332.4" cy="271.2" r="4.9"/><circle cx="212.3" cy="226.5" r="4.9"/><circle cx="358.6" cy="424.4" r="4.9"/><circle cx="359.9" cy="470.2" r="4.9"/><circle cx="374" cy="407.6" r="4.9"/><circle cx="191.8" cy="190.5" r="4.9"/><circle cx="249.2" cy="230.3" r="4.9"/><circle cx="221.8" cy="157.5" r="4.9"/><circle cx="115.1" cy="245.8" r="4.9"/><circle cx="318.9" cy="353.1" r="4.9"/><circle cx="345" cy="425.3" r="4.9"/><circle cx="544.5" cy="213.4" r="4.9"/><circle cx="433.9" cy="418" r="4.9"/><circle cx="336" cy="366.5" r="4.9"/><circle cx="338.2" cy="382.1" r="4.9"/><circle cx="206.2" cy="149.7" r="4.9"/><circle cx="204.3" cy="232.1" r="4.9"/><circle cx="288" cy="309" r="4.9"/><circle cx="265.2" cy="234.4" r="4.9"/><circle cx="358.5" cy="395.7" r="4.9"/><circle cx="216.6" cy="281.9" r="4.9"/><circle cx="279.1" cy="262.2" r="4.9"/><circle cx="359.8" cy="362.7" r="4.9"/><circle cx="293.6" cy="309" r="4.9"/><circle cx="362.1" cy="474.3" r="4.9"/><circle cx="402.4" cy="463.3" r="4.9"/><circle cx="275.7" cy="262.6" r="4.9"/><circle cx="495" cy="293.7" r="4.9"/><circle cx="319.9" cy="330.3" r="4.9"/><circle cx="235.2" cy="279" r="4.9"/><circle cx="371.7" cy="451.7" r="4.9"/><circle cx="381" cy="428.4" r="4.9"/><circle cx="373.4" cy="422.1" r="4.9"/><circle cx="312.1" cy="233.5" r="4.9"/><circle cx="171.4" cy="196.4" r="4.9"/><circle cx="361.4" cy="404.9" r="4.9"/><circle cx="328.4" cy="335.8" r="4.9"/><circle cx="248.3" cy="223.2" r="4.9"/><circle cx="381.3" cy="388.3" r="4.9"/><circle cx="259.9" cy="190.2" r="4.9"/><circle cx="208.3" cy="173" r="4.9"/><circle cx="392.9" cy="371.4" r="4.9"/><circle cx="279.2" cy="325.7" r="4.9"/><circle cx="459.4" cy="291.9" r="4.9"/><circle cx="267.1" cy="254.3" r="4.9"/><circle cx="408.3" cy="463.4" r="4.9"/><circle cx="253.2" cy="211.6" r="4.9"/><circle cx="203.2" cy="280.9" r="4.9"/><circle cx="333.2" cy="420.5" r="4.9"/><circle cx="251.8" cy="253.9" r="4.9"/><circle cx="281.7" cy="260.7" r="4.9"/><circle cx="317.5" cy="258.8" r="4.9"/><circle cx="203" cy="213.6" r="4.9"/><circle cx="260.3" cy="186.7" r="4.9"/><circle cx="225.1" cy="240.6" r="4.9"/><circle cx="359.3" cy="475.1" r="4.9"/><circle cx="198.7" cy="183.3" r="4.9"/><circle cx="354.9" cy="417.5" r="4.9"/><circle cx="252.7" cy="221.6" r="4.9"/><circle cx="342.5" cy="370.4" r="4.9"/><circle cx="401.6" cy="444.8" r="4.9"/><circle cx="350.7" cy="360.5" r="4.9"/><circle cx="350.2" cy="467.4" r="4.9"/><circle cx="184.4" cy="177.6" r="4.9"/><circle cx="197" cy="152.1" r="4.9"/><circle cx="141" cy="172.2" r="4.9"/><circle cx="137.1" cy="224.4" r="4.9"/><circle cx="321.1" cy="261.2" r="4.9"/><circle cx="337.7" cy="295.1" r="4.9"/><circle cx="332.3" cy="314.2" r="4.9"/><circle cx="326.7" cy="315.5" r="4.9"/><circle cx="340.8" cy="310.9" r="4.9"/><circle cx="221.2" cy="246.4" r="4.9"/><circle cx="428.9" cy="415.5" r="4.9"/><circle cx="505" cy="267.9" r="4.9"/><circle cx="273.9" cy="268.6" r="4.9"/><circle cx="320.4" cy="387" r="4.9"/><circle cx="330.6" cy="323.7" r="4.9"/><circle cx="355.8" cy="404.1" r="4.9"/><circle cx="319.3" cy="280.1" r="4.9"/><circle cx="504.4" cy="320.5" r="4.9"/><circle cx="311.1" cy="370.5" r="4.9"/><circle cx="266.2" cy="224" r="4.9"/><circle cx="379.9" cy="413.6" r="4.9"/><circle cx="388.7" cy="497" r="4.9"/><circle cx="297.2" cy="209.7" r="4.9"/><circle cx="351.3" cy="450.9" r="4.9"/><circle cx="198.6" cy="126.5" r="4.9"/><circle cx="283.9" cy="279.4" r="4.9"/><circle cx="153.5" cy="169.3" r="4.9"/><circle cx="305.5" cy="328.5" r="4.9"/><circle cx="402.2" cy="439.9" r="4.9"/><circle cx="259" cy="241.9" r="4.9"/><circle cx="383.7" cy="367.7" r="4.9"/><circle cx="138.7" cy="250.8" r="4.9"/><circle cx="117.5" cy="237.2" r="4.9"/><circle cx="267.4" cy="264" r="4.9"/><circle cx="264.2" cy="179.6" r="4.9"/><circle cx="166.4" cy="217.9" r="4.9"/><circle cx="312.6" cy="338.6" r="4.9"/><circle cx="151.9" cy="188.4" r="4.9"/><circle cx="344.9" cy="431.9" r="4.9"/><circle cx="233.4" cy="172" r="4.9"/><circle cx="191.9" cy="247.4" r="4.9"/><circle cx="337.5" cy="430.4" r="4.9"/><circle cx="235.1" cy="264.1" r="4.9"/><circle cx="527.4" cy="281" r="4.9"/><circle cx="140.9" cy="164.1" r="4.9"/><circle cx="336.9" cy="445.5" r="4.9"/><circle cx="294" cy="250.9" r="4.9"/><circle cx="197.6" cy="236.4" r="4.9"/><circle cx="232.1" cy="242.3" r="4.9"/><circle cx="302.5" cy="231" r="4.9"/><circle cx="205.6" cy="259.6" r="4.9"/><circle cx="304.5" cy="211.9" r="4.9"/><circle cx="412.9" cy="373.3" r="4.9"/><circle cx="445.4" cy="355.6" r="4.9"/><circle cx="340.4" cy="342.9" r="4.9"/><circle cx="504.3" cy="298.8" r="4.9"/><circle cx="331.4" cy="412.4" r="4.9"/><circle cx="263.1" cy="294.2" r="4.9"/><circle cx="227.3" cy="279.6" r="4.9"/><circle cx="307.2" cy="254.9" r="4.9"/><circle cx="390.2" cy="466.8" r="4.9"/><circle cx="331" cy="441.3" r="4.9"/><circle cx="307.3" cy="390.6" r="4.9"/><circle cx="292.4" cy="198.7" r="4.9"/><circle cx="347.3" cy="380.8" r="4.9"/><circle cx="286.6" cy="249.1" r="4.9"/><circle cx="285.3" cy="292.1" r="4.9"/><circle cx="376.7" cy="402.3" r="4.9"/><circle cx="305.9" cy="311" r="4.9"/><circle cx="395.8" cy="357.4" r="4.9"/><circle cx="256.1" cy="205.5" r="4.9"/><circle cx="328.2" cy="318" r="4.9"/><circle cx="370.8" cy="458.5" r="4.9"/><circle cx="270" cy="173" r="4.9"/><circle cx="229.4" cy="249.4" r="4.9"/><circle cx="374.6" cy="416.9" r="4.9"/><circle cx="317.4" cy="332.6" r="4.9"/><circle cx="314.5" cy="226.7" r="4.9"/><circle cx="285.8" cy="285.5" r="4.9"/><circle cx="270.7" cy="235" r="4.9"/><circle cx="304.8" cy="215.4" r="4.9"/><circle cx="309.4" cy="349.4" r="4.9"/><circle cx="341.4" cy="386.7" r="4.9"/><circle cx="273" cy="289.3" r="4.9"/><circle cx="155.7" cy="313.8" r="4.9"/><circle cx="282.7" cy="252.1" r="4.9"/><circle cx="168.3" cy="198.3" r="4.9"/><circle cx="313.4" cy="293.4" r="4.9"/><circle cx="395.8" cy="419.8" r="4.9"/><circle cx="315.9" cy="382.1" r="4.9"/><circle cx="379.1" cy="470.3" r="4.9"/><circle cx="269.3" cy="275.5" r="4.9"/><circle cx="383.6" cy="361.6" r="4.9"/><circle cx="291.8" cy="229.6" r="4.9"/><circle cx="306.4" cy="219" r="4.9"/><circle cx="324.7" cy="333.1" r="4.9"/><circle cx="315.8" cy="316" r="4.9"/><circle cx="353.2" cy="508.5" r="4.9"/><circle cx="188" cy="105.3" r="4.9"/><circle cx="350" cy="446.8" r="4.9"/><circle cx="311.5" cy="382.8" r="4.9"/><circle cx="342.4" cy="400.6" r="4.9"/><circle cx="452.7" cy="447.6" r="4.9"/><circle cx="307.6" cy="226.3" r="4.9"/><circle cx="167.3" cy="164.8" r="4.9"/><circle cx="264.1" cy="301.5" r="4.9"/><circle cx="187" cy="158.8" r="4.9"/><circle cx="356.5" cy="421.6" r="4.9"/><circle cx="473.8" cy="307.8" r="4.9"/><circle cx="230.6" cy="174.3" r="4.9"/><circle cx="375.6" cy="450.8" r="4.9"/><circle cx="323.5" cy="268.9" r="4.9"/><circle cx="355.9" cy="481.5" r="4.9"/><circle cx="285.9" cy="227.7" r="4.9"/><circle cx="472.8" cy="325" r="4.9"/><circle cx="334.1" cy="456.9" r="4.9"/><circle cx="251.6" cy="246.4" r="4.9"/><circle cx="185.8" cy="171.9" r="4.9"/><circle cx="194.7" cy="192.9" r="4.9"/><circle cx="455.1" cy="459.2" r="4.9"/><circle cx="407" cy="385.9" r="4.9"/><circle cx="332.7" cy="432.7" r="4.9"/><circle cx="356.7" cy="384.6" r="4.9"/><circle cx="397.1" cy="439.5" r="4.9"/><circle cx="305.8" cy="397.4" r="4.9"/><circle cx="316.5" cy="365.5" r="4.9"/><circle cx="244" cy="212.3" r="4.9"/><circle cx="218.9" cy="185.5" r="4.9"/><circle cx="247.4" cy="226.4" r="4.9"/><circle cx="358.6" cy="405.4" r="4.9"/><circle cx="301.6" cy="255.6" r="4.9"/><circle cx="316.5" cy="339.9" r="4.9"/><circle cx="172.3" cy="176.4" r="4.9"/><circle cx="310.9" cy="400.8" r="4.9"/><circle cx="346.5" cy="421.8" r="4.9"/><circle cx="333" cy="343.6" r="4.9"/><circle cx="268.5" cy="237" r="4.9"/><circle cx="166.7" cy="270.3" r="4.9"/><circle cx="375.3" cy="373.5" r="4.9"/><circle cx="236.2" cy="214.5" r="4.9"/><circle cx="333.7" cy="394.5" r="4.9"/><circle cx="331.7" cy="332" r="4.9"/><circle cx="327.1" cy="268.3" r="4.9"/><circle cx="274.4" cy="202.2" r="4.9"/><circle cx="268.2" cy="270" r="4.9"/><circle cx="320.4" cy="383.7" r="4.9"/><circle cx="272.5" cy="228.3" r="4.9"/><circle cx="335.2" cy="341.4" r="4.9"/><circle cx="406.8" cy="424.9" r="4.9"/><circle cx="315.2" cy="404.1" r="4.9"/><circle cx="293.8" cy="184.4" r="4.9"/><circle cx="333.2" cy="387.6" r="4.9"/><circle cx="301.9" cy="284.8" r="4.9"/><circle cx="224.2" cy="264.3" r="4.9"/><circle cx="229.8" cy="197.6" r="4.9"/><circle cx="422.8" cy="423.4" r="4.9"/><circle cx="238.6" cy="293.3" r="4.9"/><circle cx="277.8" cy="228.7" r="4.9"/><circle cx="180.2" cy="115.4" r="4.9"/><circle cx="282.8" cy="258.9" r="4.9"/><circle cx="483.4" cy="299.9" r="4.9"/><circle cx="383.6" cy="351.9" r="4.9"/><circle cx="220.7" cy="230.1" r="4.9"/><circle cx="289.2" cy="259.2" r="4.9"/><circle cx="322.5" cy="384.3" r="4.9"/><circle cx="169.2" cy="193.9" r="4.9"/><circle cx="161.2" cy="217.2" r="4.9"/><circle cx="351.4" cy="377.7" r="4.9"/><circle cx="274.9" cy="279.1" r="4.9"/><circle cx="359.1" cy="415.5" r="4.9"/><circle cx="368.4" cy="345.5" r="4.9"/><circle cx="214.6" cy="251" r="4.9"/><circle cx="377.1" cy="486.6" r="4.9"/><circle cx="302.4" cy="332" r="4.9"/><circle cx="304.9" cy="357.7" r="4.9"/><circle cx="478.8" cy="314.9" r="4.9"/><circle cx="354.1" cy="425.9" r="4.9"/><circle cx="305.9" cy="305.6" r="4.9"/><circle cx="462.8" cy="291.5" r="4.9"/><circle cx="297.6" cy="290.2" r="4.9"/><circle cx="370.7" cy="469.1" r="4.9"/><circle cx="237.2" cy="210.7" r="4.9"/><circle cx="324.9" cy="256.4" r="4.9"/><circle cx="466.3" cy="333" r="4.9"/><circle cx="219.2" cy="188.1" r="4.9"/><circle cx="327.6" cy="355.4" r="4.9"/><circle cx="315.7" cy="283.9" r="4.9"/><circle cx="295.3" cy="279.7" r="4.9"/><circle cx="367.9" cy="348.9" r="4.9"/><circle cx="253.3" cy="240.1" r="4.9"/><circle cx="224.5" cy="241.8" r="4.9"/><circle cx="302.6" cy="322.4" r="4.9"/><circle cx="548.9" cy="215.1" r="4.9"/><circle cx="265.8" cy="291.6" r="4.9"/><circle cx="339.9" cy="369.8" r="4.9"/><circle cx="455.7" cy="324.4" r="4.9"/><circle cx="447" cy="281.6" r="4.9"/><circle cx="398.7" cy="391.7" r="4.9"/><circle cx="204.4" cy="186" r="4.9"/><circle cx="437.3" cy="431.4" r="4.9"/><circle cx="200.2" cy="146.5" r="4.9"/><circle cx="227.3" cy="162.1" r="4.9"/><circle cx="241.1" cy="174.7" r="4.9"/><circle cx="354.6" cy="485.7" r="4.9"/><circle cx="330.9" cy="419.9" r="4.9"/><circle cx="315" cy="266.9" r="4.9"/><circle cx="373.2" cy="484.8" r="4.9"/><circle cx="346" cy="419.6" r="4.9"/><circle cx="514.4" cy="310.6" r="4.9"/><circle cx="243.5" cy="272.9" r="4.9"/><circle cx="416.3" cy="370.8" r="4.9"/><circle cx="226.2" cy="283.1" r="4.9"/><circle cx="312.9" cy="231.2" r="4.9"/><circle cx="406.1" cy="440.9" r="4.9"/><circle cx="400.8" cy="374.6" r="4.9"/><circle cx="402.3" cy="426.6" r="4.9"/><circle cx="340.6" cy="285.2" r="4.9"/><circle cx="195.4" cy="197.5" r="4.9"/><circle cx="317.1" cy="274.5" r="4.9"/><circle cx="139.1" cy="176.8" r="4.9"/><circle cx="424.8" cy="454.3" r="4.9"/><circle cx="390.6" cy="392.4" r="4.9"/><circle cx="360.3" cy="521.6" r="4.9"/><circle cx="289.8" cy="245.5" r="4.9"/><circle cx="223" cy="219" r="4.9"/><circle cx="437" cy="407.2" r="4.9"/><circle cx="497" cy="325.1" r="4.9"/><circle cx="327.2" cy="287.8" r="4.9"/><circle cx="319.5" cy="411.3" r="4.9"/><circle cx="313.7" cy="289.4" r="4.9"/><circle cx="386.8" cy="423.5" r="4.9"/><circle cx="367.3" cy="421.9" r="4.9"/><circle cx="309.7" cy="384" r="4.9"/><circle cx="374.7" cy="470.7" r="4.9"/><circle cx="367" cy="412.9" r="4.9"/><circle cx="331.9" cy="383.2" r="4.9"/><circle cx="410.1" cy="488.4" r="4.9"/><circle cx="320.6" cy="323.8" r="4.9"/><circle cx="305.6" cy="265.2" r="4.9"/><circle cx="250" cy="269.4" r="4.9"/><circle cx="295.7" cy="231.7" r="4.9"/><circle cx="469.2" cy="342.1" r="4.9"/><circle cx="260" cy="227.4" r="4.9"/><circle cx="508" cy="296.2" r="4.9"/><circle cx="311.8" cy="286.8" r="4.9"/><circle cx="385.4" cy="380" r="4.9"/><circle cx="335.1" cy="268.3" r="4.9"/><circle cx="285.6" cy="258.2" r="4.9"/><circle cx="308" cy="355" r="4.9"/><circle cx="294.7" cy="269.4" r="4.9"/><circle cx="314.4" cy="439.3" r="4.9"/><circle cx="533.8" cy="212.8" r="4.9"/><circle cx="391.1" cy="384.2" r="4.9"/><circle cx="387.9" cy="433" r="4.9"/><circle cx="277.6" cy="307" r="4.9"/><circle cx="249.9" cy="257" r="4.9"/><circle cx="230.6" cy="277.6" r="4.9"/><circle cx="271.6" cy="269.7" r="4.9"/><circle cx="288.9" cy="218.3" r="4.9"/><circle cx="324.2" cy="406.2" r="4.9"/><circle cx="404.6" cy="375.6" r="4.9"/><circle cx="328" cy="414.9" r="4.9"/><circle cx="238.8" cy="169.5" r="4.9"/><circle cx="203.8" cy="171" r="4.9"/><circle cx="329.5" cy="356.3" r="4.9"/><circle cx="306.7" cy="230.4" r="4.9"/><circle cx="300.8" cy="363.2" r="4.9"/><circle cx="165.2" cy="117.3" r="4.9"/><circle cx="284.6" cy="230.8" r="4.9"/><circle cx="338.5" cy="444.6" r="4.9"/><circle cx="452.7" cy="435.9" r="4.9"/><circle cx="322.6" cy="284.1" r="4.9"/><circle cx="125" cy="182.6" r="4.9"/><circle cx="290.8" cy="322.8" r="4.9"/><circle cx="264.8" cy="184.6" r="4.9"/><circle cx="280.8" cy="190.1" r="4.9"/><circle cx="277.9" cy="264.3" r="4.9"/><circle cx="363.6" cy="468.4" r="4.9"/><circle cx="250.1" cy="227.4" r="4.9"/><circle cx="370.6" cy="376.6" r="4.9"/><circle cx="415.3" cy="423.5" r="4.9"/><circle cx="304.8" cy="369.2" r="4.9"/><circle cx="349.7" cy="437.8" r="4.9"/><circle cx="496.4" cy="229.4" r="4.9"/><circle cx="403.6" cy="395.4" r="4.9"/><circle cx="235.2" cy="253.2" r="4.9"/><circle cx="370.4" cy="462.3" r="4.9"/><circle cx="292.9" cy="249.8" r="4.9"/><circle cx="296.4" cy="220.7" r="4.9"/><circle cx="266" cy="216.9" r="4.9"/><circle cx="361.6" cy="430.5" r="4.9"/><circle cx="348" cy="413.2" r="4.9"/><circle cx="182.1" cy="187.4" r="4.9"/><circle cx="338" cy="377.8" r="4.9"/><circle cx="201.4" cy="255.2" r="4.9"/><circle cx="189" cy="313.7" r="4.9"/><circle cx="351.2" cy="412.2" r="4.9"/><circle cx="437" cy="352.4" r="4.9"/><circle cx="289.7" cy="218.3" r="4.9"/><circle cx="439.4" cy="336.2" r="4.9"/><circle cx="232.1" cy="281.9" r="4.9"/><circle cx="204.8" cy="162.2" r="4.9"/><circle cx="431.8" cy="393.4" r="4.9"/><circle cx="474.9" cy="334.8" r="4.9"/><circle cx="241.9" cy="170.7" r="4.9"/><circle cx="216.9" cy="178.1" r="4.9"/><circle cx="483.7" cy="282.9" r="4.9"/><circle cx="421.1" cy="363.4" r="4.9"/><circle cx="478" cy="287.2" r="4.9"/><circle cx="278.7" cy="200.6" r="4.9"/><circle cx="252.4" cy="204.8" r="4.9"/><circle cx="125.2" cy="272.4" r="4.9"/><circle cx="494.6" cy="332" r="4.9"/><circle cx="328.5" cy="439.3" r="4.9"/><circle cx="298.1" cy="298.1" r="4.9"/><circle cx="371" cy="437.2" r="4.9"/><circle cx="328.3" cy="380.1" r="4.9"/><circle cx="342.8" cy="380.3" r="4.9"/><circle cx="434.8" cy="381.8" r="4.9"/><circle cx="411.8" cy="378.2" r="4.9"/><circle cx="311" cy="241.7" r="4.9"/><circle cx="242.2" cy="193.2" r="4.9"/><circle cx="389.1" cy="420.6" r="4.9"/><circle cx="253.8" cy="214.3" r="4.9"/><circle cx="357.8" cy="466.4" r="4.9"/><circle cx="354.7" cy="451.8" r="4.9"/><circle cx="357.5" cy="366.9" r="4.9"/><circle cx="490.1" cy="327.7" r="4.9"/><circle cx="531" cy="192.2" r="4.9"/><circle cx="315.4" cy="356.6" r="4.9"/><circle cx="269.8" cy="310.8" r="4.9"/><circle cx="412" cy="356.6" r="4.9"/><circle cx="323.6" cy="292.5" r="4.9"/><circle cx="353.6" cy="437.5" r="4.9"/><circle cx="238.5" cy="241.4" r="4.9"/><circle cx="319" cy="294.4" r="4.9"/><circle cx="242.1" cy="202.8" r="4.9"/><circle cx="277.5" cy="268.6" r="4.9"/><circle cx="536" cy="205.7" r="4.9"/><circle cx="243.1" cy="220.3" r="4.9"/><circle cx="246.4" cy="191.1" r="4.9"/><circle cx="427.1" cy="456" r="4.9"/><circle cx="295.4" cy="314.5" r="4.9"/><circle cx="335.3" cy="435.9" r="4.9"/><circle cx="278.2" cy="212.1" r="4.9"/><circle cx="379.6" cy="382.8" r="4.9"/><circle cx="191.1" cy="170.4" r="4.9"/><circle cx="283.8" cy="264.4" r="4.9"/><circle cx="347.2" cy="366" r="4.9"/><circle cx="324.1" cy="323" r="4.9"/><circle cx="296.5" cy="254" r="4.9"/><circle cx="313.9" cy="373.4" r="4.9"/><circle cx="271.8" cy="201.7" r="4.9"/><circle cx="364.5" cy="392.8" r="4.9"/><circle cx="165.8" cy="158.8" r="4.9"/><circle cx="163.6" cy="155.6" r="4.9"/><circle cx="284.3" cy="211.9" r="4.9"/><circle cx="350.8" cy="367.3" r="4.9"/><circle cx="290.6" cy="289.1" r="4.9"/><circle cx="331.6" cy="325.9" r="4.9"/><circle cx="405.3" cy="493.9" r="4.9"/><circle cx="231.2" cy="212.5" r="4.9"/><circle cx="263.2" cy="274.8" r="4.9"/><circle cx="283.3" cy="187.9" r="4.9"/><circle cx="230.6" cy="257" r="4.9"/><circle cx="288.8" cy="214.1" r="4.9"/><circle cx="323.7" cy="277.4" r="4.9"/><circle cx="133.9" cy="155.3" r="4.9"/><circle cx="167.7" cy="266.4" r="4.9"/><circle cx="317" cy="285.2" r="4.9"/><circle cx="301.8" cy="319.3" r="4.9"/><circle cx="225.2" cy="184.3" r="4.9"/><circle cx="219.3" cy="247.7" r="4.9"/><circle cx="415.2" cy="404.8" r="4.9"/><circle cx="191.7" cy="161" r="4.9"/><circle cx="296" cy="289.8" r="4.9"/><circle cx="150.9" cy="267.7" r="4.9"/><circle cx="360.4" cy="387.6" r="4.9"/><circle cx="252.3" cy="208.4" r="4.9"/><circle cx="292.2" cy="357.5" r="4.9"/><circle cx="364.6" cy="424.7" r="4.9"/><circle cx="259.3" cy="214.5" r="4.9"/><circle cx="148.8" cy="134.8" r="4.9"/><circle cx="448.6" cy="463.1" r="4.9"/><circle cx="364.5" cy="366.7" r="4.9"/><circle cx="126.2" cy="150.7" r="4.9"/><circle cx="279.5" cy="177.4" r="4.9"/><circle cx="354.5" cy="363.1" r="4.9"/><circle cx="234.1" cy="199.4" r="4.9"/><circle cx="346.1" cy="474.8" r="4.9"/><circle cx="248.5" cy="243" r="4.9"/><circle cx="297" cy="299.2" r="4.9"/><circle cx="316.8" cy="268.1" r="4.9"/><circle cx="121.1" cy="397.2" r="4.9"/><circle cx="420.9" cy="451" r="4.9"/><circle cx="533.7" cy="271.9" r="4.9"/><circle cx="187.5" cy="147.9" r="4.9"/><circle cx="554.3" cy="231.9" r="4.9"/><circle cx="468.9" cy="269.8" r="4.9"/><circle cx="132.8" cy="205.2" r="4.9"/><circle cx="284.2" cy="194.1" r="4.9"/><circle cx="290.5" cy="208.3" r="4.9"/><circle cx="505.2" cy="322.9" r="4.9"/><circle cx="441" cy="414.8" r="4.9"/><circle cx="502.1" cy="211.9" r="4.9"/><circle cx="538.3" cy="240.2" r="4.9"/><circle cx="337.6" cy="359.2" r="4.9"/><circle cx="205.2" cy="185.5" r="4.9"/><circle cx="393.8" cy="407.6" r="4.9"/><circle cx="267.1" cy="251.2" r="4.9"/><circle cx="363.6" cy="461.5" r="4.9"/><circle cx="93.2" cy="298.8" r="4.9"/><circle cx="225.3" cy="239" r="4.9"/><circle cx="479.9" cy="279.4" r="4.9"/><circle cx="540.4" cy="183.1" r="4.9"/><circle cx="228.4" cy="192" r="4.9"/><circle cx="383.3" cy="393.7" r="4.9"/><circle cx="188.8" cy="163.4" r="4.9"/><circle cx="310.7" cy="272" r="4.9"/><circle cx="359.2" cy="389.3" r="4.9"/><circle cx="287.5" cy="183.9" r="4.9"/><circle cx="275.9" cy="176.7" r="4.9"/><circle cx="398" cy="396.7" r="4.9"/><circle cx="229.3" cy="170.3" r="4.9"/><circle cx="347" cy="337.9" r="4.9"/><circle cx="411.6" cy="433.6" r="4.9"/><circle cx="322.8" cy="301.7" r="4.9"/><circle cx="517.9" cy="193.9" r="4.9"/><circle cx="275" cy="275.8" r="4.9"/><circle cx="255.8" cy="313" r="4.9"/><circle cx="303.2" cy="272.4" r="4.9"/><circle cx="214" cy="213.6" r="4.9"/><circle cx="321.7" cy="432.6" r="4.9"/><circle cx="321.8" cy="402.4" r="4.9"/><circle cx="140.1" cy="172.3" r="4.9"/><circle cx="273.8" cy="235.1" r="4.9"/><circle cx="528.6" cy="261.6" r="4.9"/><circle cx="300" cy="305.2" r="4.9"/><circle cx="343.4" cy="435.4" r="4.9"/><circle cx="215.8" cy="275.7" r="4.9"/><circle cx="221.2" cy="309.9" r="4.9"/><circle cx="452.6" cy="337.2" r="4.9"/><circle cx="257.2" cy="239.6" r="4.9"/><circle cx="316.3" cy="369.2" r="4.9"/><circle cx="337.7" cy="401.2" r="4.9"/><circle cx="209.1" cy="140.3" r="4.9"/><circle cx="377.6" cy="513.9" r="4.9"/><circle cx="271.3" cy="247.8" r="4.9"/><circle cx="257.9" cy="274.5" r="4.9"/><circle cx="257.5" cy="265.4" r="4.9"/><circle cx="420.8" cy="358.2" r="4.9"/><circle cx="497.2" cy="254.2" r="4.9"/><circle cx="353.2" cy="393.5" r="4.9"/><circle cx="329.4" cy="352.7" r="4.9"/><circle cx="141" cy="182.2" r="4.9"/><circle cx="471" cy="309.7" r="4.9"/><circle cx="279" cy="235" r="4.9"/><circle cx="304.9" cy="279.5" r="4.9"/><circle cx="256.6" cy="273.7" r="4.9"/><circle cx="303.7" cy="307.3" r="4.9"/><circle cx="264" cy="204.9" r="4.9"/><circle cx="388.6" cy="464" r="4.9"/><circle cx="206.5" cy="167.3" r="4.9"/><circle cx="321.4" cy="408.9" r="4.9"/><circle cx="305.4" cy="293.8" r="4.9"/><circle cx="164.1" cy="136.6" r="4.9"/><circle cx="493.8" cy="235" r="4.9"/><circle cx="205.6" cy="197.9" r="4.9"/><circle cx="330.1" cy="281.9" r="4.9"/><circle cx="325.8" cy="310.1" r="4.9"/><circle cx="348.8" cy="446.3" r="4.9"/><circle cx="365.2" cy="456.7" r="4.9"/><circle cx="264" cy="230.2" r="4.9"/><circle cx="202" cy="144.8" r="4.9"/><circle cx="453.7" cy="330" r="4.9"/><circle cx="300.1" cy="252" r="4.9"/><circle cx="284.4" cy="165" r="4.9"/><circle cx="329.6" cy="405.8" r="4.9"/><circle cx="251.2" cy="232.1" r="4.9"/><circle cx="336.6" cy="317.8" r="4.9"/><circle cx="364.4" cy="409.7" r="4.9"/><circle cx="301.4" cy="225.8" r="4.9"/><circle cx="251.8" cy="307.4" r="4.9"/><circle cx="460.7" cy="351.4" r="4.9"/><circle cx="314.6" cy="299.7" r="4.9"/><circle cx="274.3" cy="227.6" r="4.9"/><circle cx="297.6" cy="248.1" r="4.9"/><circle cx="196.9" cy="296.1" r="4.9"/><circle cx="392.7" cy="418.9" r="4.9"/><circle cx="383.5" cy="400.4" r="4.9"/><circle cx="326.7" cy="359" r="4.9"/><circle cx="288.2" cy="264.9" r="4.9"/><circle cx="317.9" cy="270.4" r="4.9"/><circle cx="294.2" cy="224.7" r="4.9"/><circle cx="476.3" cy="256.9" r="4.9"/><circle cx="257.7" cy="201.5" r="4.9"/><circle cx="171.4" cy="243.9" r="4.9"/><circle cx="258.3" cy="199.2" r="4.9"/><circle cx="184.4" cy="142.1" r="4.9"/><circle cx="179.4" cy="131.8" r="4.9"/><circle cx="155.1" cy="198.3" r="4.9"/><circle cx="331.8" cy="329.5" r="4.9"/><circle cx="445.3" cy="328" r="4.9"/><circle cx="393.1" cy="378.5" r="4.9"/><circle cx="134.7" cy="173.8" r="4.9"/><circle cx="252.3" cy="217.7" r="4.9"/><circle cx="327.9" cy="375.6" r="4.9"/><circle cx="289.3" cy="202.2" r="4.9"/><circle cx="163.3" cy="180.5" r="4.9"/><circle cx="315.9" cy="313" r="4.9"/><circle cx="335.9" cy="440.5" r="4.9"/><circle cx="477.8" cy="354.9" r="4.9"/><circle cx="330.2" cy="444.5" r="4.9"/><circle cx="345.4" cy="462.3" r="4.9"/><circle cx="258.2" cy="263.2" r="4.9"/><circle cx="278.5" cy="256.6" r="4.9"/><circle cx="421.2" cy="356.5" r="4.9"/><circle cx="312.3" cy="249.5" r="4.9"/><circle cx="349.7" cy="375.2" r="4.9"/><circle cx="197" cy="186.6" r="4.9"/><circle cx="263.3" cy="203.3" r="4.9"/><circle cx="317.5" cy="360.2" r="4.9"/><circle cx="106.8" cy="405.8" r="4.9"/><circle cx="353.1" cy="452.9" r="4.9"/><circle cx="488.7" cy="243.7" r="4.9"/><circle cx="383" cy="436.7" r="4.9"/><circle cx="333.5" cy="410.2" r="4.9"/><circle cx="191.8" cy="248.8" r="4.9"/><circle cx="305.8" cy="247.6" r="4.9"/><circle cx="349.1" cy="454.2" r="4.9"/><circle cx="304.7" cy="266.2" r="4.9"/><circle cx="236.9" cy="153.5" r="4.9"/><circle cx="232" cy="176.5" r="4.9"/><circle cx="289.4" cy="273.4" r="4.9"/><circle cx="263.4" cy="192.9" r="4.9"/><circle cx="217.3" cy="216.9" r="4.9"/><circle cx="197.6" cy="134.4" r="4.9"/><circle cx="408.2" cy="434.4" r="4.9"/><circle cx="401.9" cy="411.4" r="4.9"/><circle cx="259" cy="296.5" r="4.9"/><circle cx="372.1" cy="382.4" r="4.9"/><circle cx="364.9" cy="369.9" r="4.9"/><circle cx="442" cy="399.7" r="4.9"/><circle cx="453.6" cy="418.2" r="4.9"/><circle cx="330.9" cy="379.3" r="4.9"/><circle cx="316.4" cy="286.6" r="4.9"/><circle cx="393.2" cy="413.7" r="4.9"/><circle cx="344.7" cy="309.7" r="4.9"/><circle cx="473.2" cy="283.3" r="4.9"/><circle cx="341.9" cy="374.7" r="4.9"/><circle cx="254.9" cy="248.2" r="4.9"/><circle cx="360.1" cy="382.9" r="4.9"/><circle cx="357.3" cy="420.2" r="4.9"/><circle cx="161" cy="204" r="4.9"/><circle cx="230.8" cy="220.4" r="4.9"/><circle cx="315.8" cy="340.8" r="4.9"/><circle cx="341.7" cy="488" r="4.9"/><circle cx="205.9" cy="203.1" r="4.9"/><circle cx="347.5" cy="346.4" r="4.9"/><circle cx="306.4" cy="291.9" r="4.9"/><circle cx="365.9" cy="385.3" r="4.9"/><circle cx="446.6" cy="431" r="4.9"/><circle cx="260.7" cy="209.7" r="4.9"/><circle cx="318" cy="260.2" r="4.9"/><circle cx="438.1" cy="416.7" r="4.9"/><circle cx="381.9" cy="473.3" r="4.9"/><circle cx="436.6" cy="386.6" r="4.9"/><circle cx="376.7" cy="380.3" r="4.9"/><circle cx="318.5" cy="349.2" r="4.9"/><circle cx="411.5" cy="367.6" r="4.9"/><circle cx="200.6" cy="262.6" r="4.9"/><circle cx="352.7" cy="473.7" r="4.9"/><circle cx="309.5" cy="340.1" r="4.9"/><circle cx="319.5" cy="325.2" r="4.9"/><circle cx="374.6" cy="458.3" r="4.9"/><circle cx="400.1" cy="454.4" r="4.9"/><circle cx="383.6" cy="449.7" r="4.9"/><circle cx="269.9" cy="217.5" r="4.9"/><circle cx="375.7" cy="427.6" r="4.9"/><circle cx="398.1" cy="376.7" r="4.9"/><circle cx="295.9" cy="213.8" r="4.9"/><circle cx="221.4" cy="175.1" r="4.9"/><circle cx="463.6" cy="349.8" r="4.9"/><circle cx="293.3" cy="260.9" r="4.9"/><circle cx="378.2" cy="421.9" r="4.9"/><circle cx="424.8" cy="440.9" r="4.9"/><circle cx="220.1" cy="205.5" r="4.9"/><circle cx="413.1" cy="410.8" r="4.9"/><circle cx="401.5" cy="352.9" r="4.9"/><circle cx="410" cy="416.5" r="4.9"/><circle cx="311.2" cy="267.9" r="4.9"/><circle cx="273" cy="294.9" r="4.9"/><circle cx="388.4" cy="368.5" r="4.9"/><circle cx="373" cy="482.9" r="4.9"/><circle cx="417.9" cy="395.5" r="4.9"/><circle cx="169.4" cy="186.2" r="4.9"/><circle cx="278.6" cy="192.1" r="4.9"/><circle cx="297.2" cy="320.5" r="4.9"/><circle cx="252.7" cy="264.3" r="4.9"/><circle cx="345.9" cy="439.3" r="4.9"/><circle cx="286.2" cy="200.3" r="4.9"/><circle cx="255.4" cy="252.1" r="4.9"/><circle cx="339.7" cy="324" r="4.9"/><circle cx="316.4" cy="223" r="4.9"/><circle cx="336.1" cy="415.2" r="4.9"/><circle cx="361.4" cy="449.3" r="4.9"/><circle cx="347.9" cy="452.8" r="4.9"/><circle cx="450.9" cy="389.3" r="4.9"/><circle cx="247.4" cy="264.1" r="4.9"/><circle cx="368.2" cy="471.1" r="4.9"/><circle cx="303.9" cy="256.2" r="4.9"/><circle cx="232.7" cy="255" r="4.9"/><circle cx="283.4" cy="199.4" r="4.9"/><circle cx="436.8" cy="390.8" r="4.9"/><circle cx="200.4" cy="158.2" r="4.9"/><circle cx="418.9" cy="474.1" r="4.9"/><circle cx="349.1" cy="417.3" r="4.9"/><circle cx="235.2" cy="245.1" r="4.9"/><circle cx="416.7" cy="365" r="4.9"/><circle cx="270.6" cy="281.9" r="4.9"/><circle cx="229.1" cy="262.7" r="4.9"/><circle cx="531.2" cy="220.5" r="4.9"/><circle cx="465.4" cy="264" r="4.9"/><circle cx="514.4" cy="244.2" r="4.9"/><circle cx="392.3" cy="451.8" r="4.9"/><circle cx="327.6" cy="376.7" r="4.9"/><circle cx="488.7" cy="329.5" r="4.9"/><circle cx="342.7" cy="457.2" r="4.9"/><circle cx="233.7" cy="243.2" r="4.9"/><circle cx="344.6" cy="316.8" r="4.9"/><circle cx="408.9" cy="363.3" r="4.9"/><circle cx="424.4" cy="403" r="4.9"/><circle cx="292.8" cy="239.3" r="4.9"/><circle cx="508.9" cy="277.4" r="4.9"/><circle cx="251" cy="182.6" r="4.9"/><circle cx="518" cy="250.7" r="4.9"/><circle cx="449.6" cy="427.3" r="4.9"/><circle cx="318.5" cy="373.5" r="4.9"/><circle cx="338.9" cy="304.3" r="4.9"/><circle cx="217.1" cy="249.5" r="4.9"/><circle cx="280" cy="295.5" r="4.9"/><circle cx="301.7" cy="327.5" r="4.9"/><circle cx="427.3" cy="364.1" r="4.9"/><circle cx="365.1" cy="409.7" r="4.9"/><circle cx="256.6" cy="229.4" r="4.9"/><circle cx="307" cy="371.6" r="4.9"/><circle cx="330.7" cy="409.7" r="4.9"/><circle cx="452.1" cy="330.8" r="4.9"/><circle cx="449.5" cy="397.7" r="4.9"/><circle cx="371.2" cy="362.5" r="4.9"/><circle cx="432.5" cy="429" r="4.9"/><circle cx="319.2" cy="250.9" r="4.9"/><circle cx="316.6" cy="310.6" r="4.9"/><circle cx="244.4" cy="187" r="4.9"/><circle cx="280.4" cy="239.3" r="4.9"/><circle cx="396.2" cy="397.6" r="4.9"/><circle cx="386.8" cy="384.4" r="4.9"/><circle cx="519.2" cy="216.4" r="4.9"/><circle cx="368.5" cy="378.9" r="4.9"/><circle cx="394.9" cy="430.1" r="4.9"/><circle cx="315.3" cy="354.4" r="4.9"/><circle cx="370" cy="444.3" r="4.9"/><circle cx="352.3" cy="458.9" r="4.9"/><circle cx="299.5" cy="301.1" r="4.9"/><circle cx="476.2" cy="275" r="4.9"/><circle cx="195.4" cy="201.1" r="4.9"/><circle cx="378.6" cy="450" r="4.9"/><circle cx="292.1" cy="240.3" r="4.9"/><circle cx="480.6" cy="273.3" r="4.9"/><circle cx="356.5" cy="477.9" r="4.9"/><circle cx="149.8" cy="211.9" r="4.9"/><circle cx="335.3" cy="339.1" r="4.9"/><circle cx="222.9" cy="301.4" r="4.9"/><circle cx="257.9" cy="256" r="4.9"/><circle cx="501" cy="321.5" r="4.9"/><circle cx="232.9" cy="309.2" r="4.9"/><circle cx="245.8" cy="276.1" r="4.9"/><circle cx="432" cy="359" r="4.9"/><circle cx="364.1" cy="422.6" r="4.9"/><circle cx="328.6" cy="393.2" r="4.9"/><circle cx="500.4" cy="237.4" r="4.9"/><circle cx="417.4" cy="439.5" r="4.9"/><circle cx="240.6" cy="264" r="4.9"/><circle cx="173" cy="175.2" r="4.9"/><circle cx="547.7" cy="219.9" r="4.9"/><circle cx="482.3" cy="319.4" r="4.9"/><circle cx="361.6" cy="376.2" r="4.9"/><circle cx="367.8" cy="406.9" r="4.9"/><circle cx="263.1" cy="224" r="4.9"/><circle cx="214.9" cy="183.1" r="4.9"/><circle cx="327.1" cy="291" r="4.9"/><circle cx="314.8" cy="246.8" r="4.9"/><circle cx="265" cy="301.6" r="4.9"/><circle cx="147.6" cy="236.8" r="4.9"/><circle cx="510.6" cy="238.5" r="4.9"/><circle cx="430.5" cy="412.4" r="4.9"/><circle cx="399.5" cy="471.1" r="4.9"/><circle cx="301" cy="224.2" r="4.9"/><circle cx="215.1" cy="291.8" r="4.9"/><circle cx="204.4" cy="181.5" r="4.9"/><circle cx="298.9" cy="312.2" r="4.9"/><circle cx="373.4" cy="488.8" r="4.9"/><circle cx="323.1" cy="290.2" r="4.9"/><circle cx="504" cy="264" r="4.9"/><circle cx="278.5" cy="284.2" r="4.9"/><circle cx="306.4" cy="379.8" r="4.9"/><circle cx="551.7" cy="218.3" r="4.9"/><circle cx="312.5" cy="253.7" r="4.9"/><circle cx="286.4" cy="241.4" r="4.9"/><circle cx="306.2" cy="349.3" r="4.9"/><circle cx="553.4" cy="192.6" r="4.9"/><circle cx="501.8" cy="304" r="4.9"/><circle cx="401.5" cy="360.6" r="4.9"/><circle cx="236" cy="286.6" r="4.9"/><circle cx="164.2" cy="201.6" r="4.9"/><circle cx="328.4" cy="426" r="4.9"/><circle cx="288.1" cy="211.1" r="4.9"/><circle cx="298.2" cy="237" r="4.9"/><circle cx="339.4" cy="346.7" r="4.9"/><circle cx="186.6" cy="239.4" r="4.9"/><circle cx="386.6" cy="372" r="4.9"/><circle cx="255.8" cy="232.4" r="4.9"/><circle cx="367.6" cy="447.5" r="4.9"/><circle cx="310.7" cy="216.7" r="4.9"/><circle cx="249.2" cy="278.2" r="4.9"/><circle cx="289.2" cy="160.1" r="4.9"/><circle cx="296.7" cy="243.8" r="4.9"/><circle cx="527.1" cy="247.9" r="4.9"/><circle cx="369.8" cy="419" r="4.9"/><circle cx="128.8" cy="227.7" r="4.9"/><circle cx="301.3" cy="217.5" r="4.9"/><circle cx="289.5" cy="214" r="4.9"/><circle cx="371.8" cy="423.7" r="4.9"/><circle cx="152.7" cy="248.9" r="4.9"/><circle cx="333.8" cy="424.5" r="4.9"/><circle cx="173.3" cy="195.3" r="4.9"/><circle cx="197.6" cy="236" r="4.9"/><circle cx="241.8" cy="304.3" r="4.9"/><circle cx="325.3" cy="301.1" r="4.9"/><circle cx="267.5" cy="266.8" r="4.9"/><circle cx="233.6" cy="209.4" r="4.9"/><circle cx="423.1" cy="373.4" r="4.9"/><circle cx="387.5" cy="354.5" r="4.9"/><circle cx="538.4" cy="227.8" r="4.9"/><circle cx="279.6" cy="345.5" r="4.9"/><circle cx="384" cy="513.9" r="4.9"/><circle cx="317.8" cy="446.5" r="4.9"/><circle cx="230.8" cy="237.9" r="4.9"/><circle cx="220.3" cy="166.3" r="4.9"/><circle cx="466.3" cy="379.2" r="4.9"/><circle cx="343" cy="399.7" r="4.9"/><circle cx="315.2" cy="394.4" r="4.9"/><circle cx="286.3" cy="268.7" r="4.9"/><circle cx="312.4" cy="377.5" r="4.9"/><circle cx="327.4" cy="348.4" r="4.9"/><circle cx="378.6" cy="396.3" r="4.9"/><circle cx="493" cy="245.7" r="4.9"/><circle cx="379.3" cy="357.5" r="4.9"/><circle cx="309.4" cy="332.9" r="4.9"/><circle cx="542.5" cy="243.9" r="4.9"/><circle cx="258.2" cy="250.5" r="4.9"/><circle cx="346.9" cy="323.5" r="4.9"/><circle cx="555" cy="196.6" r="4.9"/><circle cx="403.4" cy="450.8" r="4.9"/><circle cx="297.1" cy="287.2" r="4.9"/><circle cx="361.2" cy="416.4" r="4.9"/><circle cx="328.8" cy="368.3" r="4.9"/><circle cx="260.9" cy="268.4" r="4.9"/><circle cx="266.8" cy="179.9" r="4.9"/><circle cx="285.4" cy="289.6" r="4.9"/><circle cx="336.4" cy="400.4" r="4.9"/><circle cx="154.4" cy="180.7" r="4.9"/><circle cx="291.3" cy="269.8" r="4.9"/><circle cx="513.8" cy="296.3" r="4.9"/><circle cx="280" cy="180.3" r="4.9"/><circle cx="243.7" cy="281.9" r="4.9"/><circle cx="503.4" cy="233.8" r="4.9"/><circle cx="282.8" cy="280.7" r="4.9"/><circle cx="311.1" cy="389.9" r="4.9"/><circle cx="411.3" cy="479.2" r="4.9"/><circle cx="325.9" cy="298.4" r="4.9"/><circle cx="193.6" cy="186.8" r="4.9"/><circle cx="169.2" cy="239.8" r="4.9"/><circle cx="294.9" cy="238" r="4.9"/><circle cx="343.3" cy="328.2" r="4.9"/><circle cx="317.1" cy="400.4" r="4.9"/><circle cx="456.2" cy="349.4" r="4.9"/><circle cx="142.1" cy="273.4" r="4.9"/><circle cx="361.8" cy="452.5" r="4.9"/><circle cx="309.4" cy="356.2" r="4.9"/><circle cx="210.8" cy="151" r="4.9"/><circle cx="288.1" cy="328.9" r="4.9"/><circle cx="261" cy="262.5" r="4.9"/><circle cx="338.6" cy="330.2" r="4.9"/><circle cx="308.7" cy="263.2" r="4.9"/><circle cx="359" cy="352.4" r="4.9"/><circle cx="308.4" cy="303.6" r="4.9"/><circle cx="451.5" cy="347.5" r="4.9"/><circle cx="357.6" cy="334.3" r="4.9"/><circle cx="380.6" cy="409" r="4.9"/><circle cx="322.1" cy="330.5" r="4.9"/><circle cx="364" cy="464" r="4.9"/><circle cx="404.8" cy="371.3" r="4.9"/><circle cx="320.4" cy="291.6" r="4.9"/><circle cx="389.4" cy="404.4" r="4.9"/><circle cx="321.5" cy="361.1" r="4.9"/><circle cx="216.3" cy="160.4" r="4.9"/><circle cx="173.1" cy="250.3" r="4.9"/><circle cx="340.3" cy="405.7" r="4.9"/><circle cx="374.5" cy="462.9" r="4.9"/><circle cx="325.7" cy="418.5" r="4.9"/><circle cx="310.1" cy="260.5" r="4.9"/><circle cx="344.5" cy="335.3" r="4.9"/><circle cx="353.2" cy="431.7" r="4.9"/><circle cx="340.1" cy="336.6" r="4.9"/><circle cx="242.1" cy="245.4" r="4.9"/><circle cx="390.8" cy="460.5" r="4.9"/><circle cx="406.2" cy="357.7" r="4.9"/><circle cx="105.8" cy="261.8" r="4.9"/><circle cx="343" cy="406.3" r="4.9"/><circle cx="332.1" cy="273.8" r="4.9"/><circle cx="182.3" cy="196" r="4.9"/><circle cx="535.9" cy="216.9" r="4.9"/><circle cx="433.4" cy="429.7" r="4.9"/><circle cx="325.9" cy="339.8" r="4.9"/><circle cx="335.1" cy="332.4" r="4.9"/><circle cx="319.1" cy="338.9" r="4.9"/><circle cx="496.5" cy="219.5" r="4.9"/><circle cx="382.2" cy="445.7" r="4.9"/><circle cx="341.4" cy="341.3" r="4.9"/><circle cx="208.8" cy="206.4" r="4.9"/><circle cx="421.3" cy="464.6" r="4.9"/><circle cx="231.4" cy="204.3" r="4.9"/><circle cx="383.5" cy="408.4" r="4.9"/><circle cx="208.8" cy="225.4" r="4.9"/><circle cx="196.9" cy="285.5" r="4.9"/><circle cx="302.5" cy="300.6" r="4.9"/><circle cx="285.6" cy="247.6" r="4.9"/><circle cx="261.9" cy="309.3" r="4.9"/><circle cx="235.4" cy="200" r="4.9"/><circle cx="439.5" cy="383.6" r="4.9"/><circle cx="216.6" cy="223.7" r="4.9"/><circle cx="437.6" cy="469.5" r="4.9"/><circle cx="360.3" cy="446" r="4.9"/><circle cx="318.7" cy="265.6" r="4.9"/><circle cx="306" cy="334.4" r="4.9"/><circle cx="287.8" cy="278" r="4.9"/><circle cx="289.8" cy="253.9" r="4.9"/><circle cx="509.2" cy="298.4" r="4.9"/><circle cx="339.9" cy="398.2" r="4.9"/><circle cx="468.8" cy="388.1" r="4.9"/><circle cx="96.1" cy="367.3" r="4.9"/><circle cx="359.2" cy="460.9" r="4.9"/><circle cx="318.8" cy="315.4" r="4.9"/><circle cx="299.6" cy="329.4" r="4.9"/><circle cx="286.5" cy="272.8" r="4.9"/><circle cx="297.6" cy="358.3" r="4.9"/><circle cx="279.5" cy="296" r="4.9"/><circle cx="497.6" cy="228.1" r="4.9"/><circle cx="231.9" cy="217.5" r="4.9"/><circle cx="165.4" cy="173.9" r="4.9"/><circle cx="216.9" cy="211" r="4.9"/><circle cx="341.6" cy="394.1" r="4.9"/><circle cx="356.3" cy="372.8" r="4.9"/><circle cx="310" cy="323.5" r="4.9"/><circle cx="331.1" cy="317.5" r="4.9"/><circle cx="291.1" cy="180.9" r="4.9"/><circle cx="272.8" cy="237.7" r="4.9"/><circle cx="224.4" cy="307.9" r="4.9"/><circle cx="324.8" cy="371.7" r="4.9"/><circle cx="230.1" cy="200.6" r="4.9"/><circle cx="270.5" cy="208.3" r="4.9"/><circle cx="291.3" cy="293.1" r="4.9"/><circle cx="178.5" cy="242.7" r="4.9"/><circle cx="310.5" cy="315" r="4.9"/><circle cx="512.2" cy="325.3" r="4.9"/><circle cx="156.6" cy="205.4" r="4.9"/><circle cx="312.9" cy="316.6" r="4.9"/><circle cx="317.5" cy="443.7" r="4.9"/><circle cx="320.5" cy="299.4" r="4.9"/><circle cx="100.5" cy="188.2" r="4.9"/><circle cx="348.8" cy="441.2" r="4.9"/><circle cx="254.7" cy="173.4" r="4.9"/><circle cx="230.5" cy="244.5" r="4.9"/><circle cx="361.2" cy="439.9" r="4.9"/><circle cx="333.8" cy="294.3" r="4.9"/><circle cx="341.2" cy="345.3" r="4.9"/><circle cx="231.1" cy="317.2" r="4.9"/><circle cx="391.7" cy="415.7" r="4.9"/><circle cx="334.7" cy="322" r="4.9"/><circle cx="429.5" cy="374.6" r="4.9"/><circle cx="209.6" cy="253" r="4.9"/><circle cx="249.6" cy="184.9" r="4.9"/><circle cx="396.2" cy="369.4" r="4.9"/><circle cx="156.9" cy="164.5" r="4.9"/><circle cx="505.2" cy="288.6" r="4.9"/><circle cx="513.4" cy="258.7" r="4.9"/><circle cx="228.1" cy="178.7" r="4.9"/><circle cx="456.1" cy="383.1" r="4.9"/><circle cx="336.7" cy="358.7" r="4.9"/><circle cx="162.9" cy="291.5" r="4.9"/><circle cx="244.3" cy="261.5" r="4.9"/><circle cx="491.8" cy="261.6" r="4.9"/><circle cx="245" cy="240.1" r="4.9"/><circle cx="178" cy="293.4" r="4.9"/><circle cx="329.5" cy="293.8" r="4.9"/><circle cx="404.5" cy="391.5" r="4.9"/><circle cx="398.3" cy="456.8" r="4.9"/><circle cx="233.4" cy="269.8" r="4.9"/><circle cx="305.4" cy="256.7" r="4.9"/><circle cx="215.8" cy="132.5" r="4.9"/><circle cx="221" cy="225.2" r="4.9"/><circle cx="324.4" cy="377.6" r="4.9"/><circle cx="318.8" cy="341.6" r="4.9"/><circle cx="233.6" cy="225" r="4.9"/><circle cx="300.5" cy="205.5" r="4.9"/><circle cx="331" cy="421.3" r="4.9"/><circle cx="222.9" cy="192.3" r="4.9"/><circle cx="389" cy="362.5" r="4.9"/><circle cx="332.7" cy="347.7" r="4.9"/><circle cx="429.1" cy="418.1" r="4.9"/><circle cx="273.4" cy="246.5" r="4.9"/><circle cx="312.1" cy="374.5" r="4.9"/><circle cx="430.9" cy="331.9" r="4.9"/><circle cx="222.9" cy="273.3" r="4.9"/><circle cx="449.4" cy="361.2" r="4.9"/><circle cx="221.2" cy="212.8" r="4.9"/><circle cx="315.1" cy="386.6" r="4.9"/><circle cx="403.7" cy="423.8" r="4.9"/><circle cx="335.4" cy="300.7" r="4.9"/><circle cx="189.4" cy="143.4" r="4.9"/><circle cx="375.1" cy="395.4" r="4.9"/><circle cx="473" cy="326.6" r="4.9"/><circle cx="433.1" cy="402.6" r="4.9"/><circle cx="333.5" cy="309.7" r="4.9"/><circle cx="206.5" cy="230.9" r="4.9"/><circle cx="262" cy="268.6" r="4.9"/><circle cx="473" cy="271" r="4.9"/><circle cx="454.8" cy="423.1" r="4.9"/><circle cx="183.4" cy="119.3" r="4.9"/><circle cx="341.8" cy="449.8" r="4.9"/><circle cx="272.3" cy="284.6" r="4.9"/><circle cx="247.3" cy="168.7" r="4.9"/><circle cx="338.2" cy="452.8" r="4.9"/><circle cx="239.7" cy="230" r="4.9"/><circle cx="324.1" cy="354.9" r="4.9"/><circle cx="297" cy="259.3" r="4.9"/><circle cx="552.7" cy="165.1" r="4.9"/><circle cx="304.3" cy="289.7" r="4.9"/><circle cx="325.7" cy="332" r="4.9"/><circle cx="310" cy="282.2" r="4.9"/><circle cx="322.1" cy="305.3" r="4.9"/><circle cx="188.2" cy="294.1" r="4.9"/><circle cx="163.4" cy="213.4" r="4.9"/><circle cx="329.8" cy="399.7" r="4.9"/><circle cx="231.1" cy="229.2" r="4.9"/><circle cx="513.3" cy="262.2" r="4.9"/><circle cx="324.8" cy="296.5" r="4.9"/><circle cx="584.9" cy="145.3" r="4.9"/><circle cx="600.6" cy="141" r="4.9"/><circle cx="621.8" cy="129.8" r="4.9"/><circle cx="641.4" cy="131.6" r="4.9"/><circle cx="629.2" cy="143.3" r="4.9"/><circle cx="615.3" cy="153.1" r="4.9"/><circle cx="595.3" cy="155.1" r="4.9"/><circle cx="573.3" cy="159.6" r="4.9"/><circle cx="571.4" cy="173.9" r="4.9"/><circle cx="580.2" cy="176.9" r="4.9"/><circle cx="597.6" cy="166.1" r="4.9"/><circle cx="603.1" cy="170.4" r="4.9"/><circle cx="609" cy="168.4" r="4.9"/><circle cx="592.4" cy="181.2" r="4.9"/><circle cx="583.1" cy="187.5" r="4.9"/><circle cx="568.8" cy="185.1" r="4.9"/><circle cx="566.9" cy="192" r="4.9"/><circle cx="565.5" cy="207.3" r="4.9"/><circle cx="562.9" cy="213.9" r="4.9"/><circle cx="589.4" cy="209" r="4.9"/><circle cx="587.5" cy="215.5" r="4.9"/><circle cx="574.3" cy="224.3" r="4.9"/><circle cx="579" cy="224.3" r="4.9"/><circle cx="606.5" cy="217.8" r="4.9"/><circle cx="618.2" cy="218.4" r="4.9"/><circle cx="612" cy="198.4" r="4.9"/><circle cx="625.3" cy="204.1" r="4.9"/><circle cx="632.9" cy="185.1" r="4.9"/><circle cx="637.1" cy="191.6" r="4.9"/><circle cx="646.3" cy="210.6" r="4.9"/><circle cx="651.2" cy="184.1" r="4.9"/><circle cx="656.5" cy="172.4" r="4.9"/><circle cx="662" cy="210" r="4.9"/><circle cx="668.2" cy="190.6" r="4.9"/><circle cx="682" cy="174.3" r="4.9"/><circle cx="689.8" cy="200.4" r="4.9"/><circle cx="674.7" cy="243.9" r="4.9"/><circle cx="698.8" cy="275.9" r="4.9"/><circle cx="709.4" cy="246.3" r="4.9"/><circle cx="721.8" cy="244.3" r="4.9"/><circle cx="736.5" cy="233.7" r="4.9"/><circle cx="756.8" cy="320.3" r="4.9"/><circle cx="786.2" cy="297.9" r="4.9"/><circle cx="843.5" cy="365.6" r="4.9"/><circle cx="995" cy="454.7" r="4.9"/><circle cx="176.2" cy="45.7" r="4.9"/><circle cx="119.8" cy="129.8" r="4.9"/><circle cx="109.6" cy="382" r="4.9"/><circle cx="119.3" cy="385.8" r="4.9"/><circle cx="126.6" cy="385.8" r="4.9"/><circle cx="128.7" cy="390.8" r="4.9"/><circle cx="108.2" cy="346" r="4.9"/><circle cx="106" cy="321" r="4.9"/><circle cx="134.5" cy="337.4" r="4.9"/><circle cx="136.9" cy="330" r="4.9"/><circle cx="211.6" cy="346.2" r="4.9"/><circle cx="248.2" cy="362.3" r="4.9"/><circle cx="97.8" cy="169" r="4.9"/><circle cx="102.5" cy="210.6" r="4.9"/><circle cx="257.4" cy="148.2" r="4.9"/><circle cx="283.8" cy="149.1" r="4.9"/><circle cx="286.5" cy="155.3" r="4.9"/><circle cx="219.4" cy="125.3" r="4.9"/><circle cx="205.3" cy="109.4" r="4.9"/></g></g><g clip-path="url(#c1)"><g stroke="#000" stroke-opacity="0.25" stroke-width="2.08" fill="none"><path d="M104.8 666V811.4"/><path d="M154.2 594.1V711.1"/><path d="M178.9 668V787.4"/><path d="M197.7 617V732.6"/><path d="M217 644.5V753.3"/><path d="M232.5 622.1V727.1"/><path d="M244.4 628V731.6"/><path d="M252.7 633.6V740.4"/><path d="M262.3 673.2V784.4"/><path d="M278.4 719.1V825.7"/><path d="M297.6 588.2V691.2"/><path d="M300.5 671.5V776.5"/><path d="M304.4 670.4V776.4"/><path d="M302.4 720V820"/><path d="M310.7 719.9V820.9"/><path d="M319.8 727.4V826.6"/><path d="M324.8 731V823.8"/><path d="M321.2 730.4V826.4"/><path d="M270.2 783.9V894.3"/><path d="M285.6 796.4V905.6"/><path d="M290.7 809.6V918.4"/><path d="M294.4 779.2V886.6"/><path d="M325.6 742.7V836.7"/><path d="M323.6 753V849"/><path d="M323.1 760.3V860.3"/><path d="M328 762.3V860.3"/><path d="M322.2 774V874"/><path d="M326 788.6V886.6"/><path d="M324 793.8V893.8"/><path d="M335.3 797.9V895.9"/><path d="M307.5 803.1V903.1"/><path d="M315.7 802.1V902.1"/><path d="M312.6 801V901"/><path d="M309.6 814.4V914.4"/><path d="M311.6 818.5V918.5"/><path d="M318.8 822.6V922.6"/><path d="M315.7 828.8V928.8"/><path d="M327.1 809.3V909.3"/><path d="M330.1 813.4V913.4"/><path d="M334.3 812.4V912.4"/><path d="M331.2 823.7V923.7"/><path d="M332.2 842.2V942.2"/><path d="M320.9 856V956"/><path d="M342.5 853.1V953.1"/><path d="M337.4 854.6V954.6"/><path d="M349.3 858.1V958.1"/><path d="M328.7 866.3V966.3"/><path d="M339.4 869.4V969.4"/><path d="M346 877.2V977.2"/><path d="M352.4 875.6V975.6"/><path d="M324.2 897.4V991.4"/><path d="M333.3 895.3V991.3"/><path d="M340.4 895V991"/><path d="M344.2 892.3V988.3"/><path d="M330.8 908.1V1002.1"/><path d="M336.5 917.5V1018.5"/><path d="M317.1 927.8V1020.6"/><path d="M355.5 923.5V1018.1"/><path d="M361.7 908V1004.8"/><path d="M306.1 950.3V1046.1"/><path d="M364.7 790.9V889.7"/><path d="M358.6 814.2V909.6"/><path d="M367.8 808.2V908.2"/><path d="M378.5 828.8V924.8"/><path d="M385.1 872.4V968.4"/><path d="M399.1 811.3V901.9"/><path d="M412.9 817.8V909.8"/><path d="M409.4 853.4V945.4"/><path d="M424.9 834.5V926.5"/><path d="M429 779.7V871.7"/><path d="M438.2 776.6V868.6"/><path d="M447.5 782V874"/><path d="M462.5 778.9V870.9"/><path d="M452.2 802.4V894.4"/><path d="M433.5 856.1V946.1"/><path d="M417 882.8V972.8"/><path d="M442.4 883.9V973.5"/><path d="M418.6 898.7V988.7"/><path d="M392.3 897.9V993.1"/><path d="M402.6 899.2V995.6"/><path d="M395.6 916.9V1008.5"/><path d="M388.7 934.1V1028.1"/><path d="M381.8 944.8V1038"/><path d="M406 959.1V1046.1"/><path d="M371.3 969.5V1046.1"/><path d="M374.7 977.4V1046.1"/><path d="M457.8 830.3V920.3"/><path d="M468.5 816.9V906.9"/><path d="M473.9 810.1V900.1"/><path d="M480 800.3V890.3"/><path d="M485.6 766.3V854.3"/><path d="M499 752.8V836.8"/><path d="M492.4 716V802.4"/><path d="M512.5 718.3V798.3"/><path d="M519.6 727V807.6"/><path d="M527.1 759.7V840.7"/><path d="M505.4 787.9V873.9"/><path d="M535 786.3V867.1"/><path d="M542.9 688.6V766.6"/><path d="M550.9 674.5V758.5"/><path d="M558.8 685.2V766.8"/><path d="M568.1 677.8V757.8"/><path d="M577.3 727.5V802.7"/><path d="M586.6 711.1V789.1"/><path d="M597.2 652V730.6"/><path d="M608.3 712.9V791.5"/><path d="M620.2 693.7V768.3"/><path d="M632.9 677V750.6"/><path d="M648.3 687.6V767.6"/><path d="M667.3 671.7V748.5"/><path d="M688.5 634.5V708.5"/><path d="M715 621.6V697.6"/><path d="M754.8 797.8V875.8"/><path d="M825.6 851V927"/><path d="M999.4 904.7V1022.7"/><path d="M991.4 963.7H1007.4"/><path d="M499 747V853"/><path d="M486 767V853"/><path d="M335.4 798V894"/><path d="M320.2 727V825"/><path d="M325.6 742V838"/></g><g fill="#000" fill-opacity="0.45"><circle cx="104.8" cy="738.7" r="4.9"/><circle cx="154.2" cy="652.6" r="4.9"/><circle cx="178.9" cy="727.7" r="4.9"/><circle cx="197.7" cy="674.8" r="4.9"/><circle cx="217" cy="698.9" r="4.9"/><circle cx="232.5" cy="674.6" r="4.9"/><circle cx="244.4" cy="679.8" r="4.9"/><circle cx="252.7" cy="687" r="4.9"/><circle cx="262.3" cy="728.8" r="4.9"/><circle cx="278.4" cy="772.4" r="4.9"/><circle cx="297.6" cy="639.7" r="4.9"/><circle cx="300.5" cy="724" r="4.9"/><circle cx="304.4" cy="723.4" r="4.9"/><circle cx="302.4" cy="770" r="4.9"/><circle cx="310.7" cy="770.4" r="4.9"/><circle cx="319.8" cy="777" r="4.9"/><circle cx="324.8" cy="777.4" r="4.9"/><circle cx="321.2" cy="778.4" r="4.9"/><circle cx="270.2" cy="839.1" r="4.9"/><circle cx="285.6" cy="851" r="4.9"/><circle cx="290.7" cy="864" r="4.9"/><circle cx="294.4" cy="832.9" r="4.9"/><circle cx="325.6" cy="789.7" r="4.9"/><circle cx="323.6" cy="801" r="4.9"/><circle cx="323.1" cy="810.3" r="4.9"/><circle cx="328" cy="811.3" r="4.9"/><circle cx="322.2" cy="824" r="4.9"/><circle cx="326" cy="837.6" r="4.9"/><circle cx="324" cy="843.8" r="4.9"/><circle cx="335.3" cy="846.9" r="4.9"/><circle cx="307.5" cy="853.1" r="4.9"/><circle cx="315.7" cy="852.1" r="4.9"/><circle cx="312.6" cy="851" r="4.9"/><circle cx="309.6" cy="864.4" r="4.9"/><circle cx="311.6" cy="868.5" r="4.9"/><circle cx="318.8" cy="872.6" r="4.9"/><circle cx="315.7" cy="878.8" r="4.9"/><circle cx="327.1" cy="859.3" r="4.9"/><circle cx="330.1" cy="863.4" r="4.9"/><circle cx="334.3" cy="862.4" r="4.9"/><circle cx="331.2" cy="873.7" r="4.9"/><circle cx="332.2" cy="892.2" r="4.9"/><circle cx="320.9" cy="906" r="4.9"/><circle cx="342.5" cy="903.1" r="4.9"/><circle cx="337.4" cy="904.6" r="4.9"/><circle cx="349.3" cy="908.1" r="4.9"/><circle cx="328.7" cy="916.3" r="4.9"/><circle cx="339.4" cy="919.4" r="4.9"/><circle cx="346" cy="927.2" r="4.9"/><circle cx="352.4" cy="925.6" r="4.9"/><circle cx="324.2" cy="944.4" r="4.9"/><circle cx="333.3" cy="943.3" r="4.9"/><circle cx="340.4" cy="943" r="4.9"/><circle cx="344.2" cy="940.3" r="4.9"/><circle cx="330.8" cy="955.1" r="4.9"/><circle cx="336.5" cy="968" r="4.9"/><circle cx="317.1" cy="974.2" r="4.9"/><circle cx="355.5" cy="970.8" r="4.9"/><circle cx="361.7" cy="956.4" r="4.9"/><circle cx="306.1" cy="1001.8" r="4.9"/><circle cx="364.7" cy="840.3" r="4.9"/><circle cx="358.6" cy="861.9" r="4.9"/><circle cx="367.8" cy="858.2" r="4.9"/><circle cx="378.5" cy="876.8" r="4.9"/><circle cx="385.1" cy="920.4" r="4.9"/><circle cx="399.1" cy="856.6" r="4.9"/><circle cx="412.9" cy="863.8" r="4.9"/><circle cx="409.4" cy="899.4" r="4.9"/><circle cx="424.9" cy="880.5" r="4.9"/><circle cx="429" cy="825.7" r="4.9"/><circle cx="438.2" cy="822.6" r="4.9"/><circle cx="447.5" cy="828" r="4.9"/><circle cx="462.5" cy="824.9" r="4.9"/><circle cx="452.2" cy="848.4" r="4.9"/><circle cx="433.5" cy="901.1" r="4.9"/><circle cx="417" cy="927.8" r="4.9"/><circle cx="442.4" cy="928.7" r="4.9"/><circle cx="418.6" cy="943.7" r="4.9"/><circle cx="392.3" cy="945.5" r="4.9"/><circle cx="402.6" cy="947.4" r="4.9"/><circle cx="395.6" cy="962.7" r="4.9"/><circle cx="388.7" cy="981.1" r="4.9"/><circle cx="381.8" cy="991.4" r="4.9"/><circle cx="406" cy="1004.8" r="4.9"/><circle cx="371.3" cy="1017.8" r="4.9"/><circle cx="374.7" cy="1025.4" r="4.9"/><circle cx="457.8" cy="875.3" r="4.9"/><circle cx="468.5" cy="861.9" r="4.9"/><circle cx="473.9" cy="855.1" r="4.9"/><circle cx="480" cy="845.3" r="4.9"/><circle cx="485.6" cy="810.3" r="4.9"/><circle cx="499" cy="794.8" r="4.9"/><circle cx="492.4" cy="759.2" r="4.9"/><circle cx="512.5" cy="758.3" r="4.9"/><circle cx="519.6" cy="767.3" r="4.9"/><circle cx="527.1" cy="800.2" r="4.9"/><circle cx="505.4" cy="830.9" r="4.9"/><circle cx="535" cy="826.7" r="4.9"/><circle cx="542.9" cy="727.6" r="4.9"/><circle cx="550.9" cy="716.5" r="4.9"/><circle cx="558.8" cy="726" r="4.9"/><circle cx="568.1" cy="717.8" r="4.9"/><circle cx="577.3" cy="765.1" r="4.9"/><circle cx="586.6" cy="750.1" r="4.9"/><circle cx="597.2" cy="691.3" r="4.9"/><circle cx="608.3" cy="752.2" r="4.9"/><circle cx="620.2" cy="731" r="4.9"/><circle cx="632.9" cy="713.8" r="4.9"/><circle cx="648.3" cy="727.6" r="4.9"/><circle cx="667.3" cy="710.1" r="4.9"/><circle cx="688.5" cy="671.5" r="4.9"/><circle cx="715" cy="659.6" r="4.9"/><circle cx="754.8" cy="836.8" r="4.9"/><circle cx="825.6" cy="889" r="4.9"/><circle cx="999.4" cy="963.7" r="4.9"/><circle cx="499" cy="800" r="4.9"/><circle cx="486" cy="810" r="4.9"/><circle cx="335.4" cy="846" r="4.9"/><circle cx="320.2" cy="776" r="4.9"/><circle cx="325.6" cy="790" r="4.9"/></g></g><g clip-path="url(#c2)"><g stroke="#000" stroke-opacity="0.25" stroke-width="2.08" fill="none"><path d="M120.5 1042.1V1193.4"/><path d="M156.3 1042.1V1103"/><path d="M204.3 1042.1V1224.3"/><path d="M182.2 1107.4V1349.4"/><path d="M192.7 1181.5V1410.5"/><path d="M215 1131.5V1393.5"/><path d="M224.9 1077V1317"/><path d="M241.7 1113V1346"/><path d="M247.1 1240.3V1489.7"/><path d="M259.2 1244.6V1481.4"/><path d="M265 1093V1317.6"/><path d="M270.6 1087.8V1317.4"/><path d="M275.9 1095.6V1312.6"/><path d="M280.9 1050.7V1286.7"/><path d="M285.8 1042.1V1072"/><path d="M297 1042.1V1173.3"/><path d="M299.7 1042.1V1233.5"/><path d="M99.9 1250.8V1502.8"/><path d="M138.8 1234.2V1481"/><path d="M171.5 1334V1562.4"/><path d="M233.7 1364.3V1562.4"/><path d="M253.1 1321.8V1532.8"/><path d="M289.7 1208.7V1440.7"/><path d="M293.8 1212.9V1428.3"/><path d="M313.3 1042.1V1191.7"/><path d="M310.6 1042.1V1148.5"/><path d="M323.4 1042.1V1175.5"/><path d="M321.3 1042.1V1082"/><path d="M319.9 1042.1V1233.5"/><path d="M333.9 1059.9V1282.9"/><path d="M352.6 1042.1V1176.4"/><path d="M330.8 1107.9V1324.9"/><path d="M327.8 1147V1368.2"/><path d="M325.2 1194.1V1418.7"/><path d="M346.6 1151.1V1392.1"/><path d="M380.6 1084V1287.2"/><path d="M304.8 1233.1V1446.5"/><path d="M302.4 1268.5V1491.7"/><path d="M307.9 1295.1V1507.9"/><path d="M317.8 1281.5V1517.5"/><path d="M315.7 1346.6V1562.4"/><path d="M337.4 1248V1458"/><path d="M341.9 1231V1460.4"/><path d="M357.9 1197V1431.6"/><path d="M364.7 1382.6V1562.4"/><path d="M371.9 1288V1518.4"/><path d="M400.1 1286.1V1511.1"/><path d="M411.5 1254.1V1485.3"/><path d="M424.2 1247.7V1471.7"/><path d="M437.8 1311.5V1532.5"/><path d="M390.3 1465V1562.4"/><path d="M497.1 1382.2V1562.4"/><path d="M532.9 1354.3V1562.4"/><path d="M595.5 1369.4V1562.4"/><path d="M726.3 1191.4V1562.4"/><path d="M714.3 1377.4H738.3"/></g><g fill="#000" fill-opacity="0.45"><circle cx="120.5" cy="1066.8" r="4.9"/><circle cx="204.3" cy="1100.3" r="4.9"/><circle cx="182.2" cy="1228.4" r="4.9"/><circle cx="192.7" cy="1296" r="4.9"/><circle cx="215" cy="1262.5" r="4.9"/><circle cx="224.9" cy="1197" r="4.9"/><circle cx="241.7" cy="1229.5" r="4.9"/><circle cx="247.1" cy="1365" r="4.9"/><circle cx="259.2" cy="1363" r="4.9"/><circle cx="265" cy="1205.3" r="4.9"/><circle cx="270.6" cy="1202.6" r="4.9"/><circle cx="275.9" cy="1204.1" r="4.9"/><circle cx="280.9" cy="1168.7" r="4.9"/><circle cx="297" cy="1056.3" r="4.9"/><circle cx="299.7" cy="1126.1" r="4.9"/><circle cx="99.9" cy="1376.8" r="4.9"/><circle cx="138.8" cy="1357.6" r="4.9"/><circle cx="171.5" cy="1462" r="4.9"/><circle cx="233.7" cy="1484.3" r="4.9"/><circle cx="253.1" cy="1427.3" r="4.9"/><circle cx="289.7" cy="1324.7" r="4.9"/><circle cx="293.8" cy="1320.6" r="4.9"/><circle cx="313.3" cy="1077" r="4.9"/><circle cx="323.4" cy="1056.9" r="4.9"/><circle cx="319.9" cy="1102.2" r="4.9"/><circle cx="333.9" cy="1171.4" r="4.9"/><circle cx="352.6" cy="1054.4" r="4.9"/><circle cx="330.8" cy="1216.4" r="4.9"/><circle cx="327.8" cy="1257.6" r="4.9"/><circle cx="325.2" cy="1306.4" r="4.9"/><circle cx="346.6" cy="1271.6" r="4.9"/><circle cx="380.6" cy="1185.6" r="4.9"/><circle cx="304.8" cy="1339.8" r="4.9"/><circle cx="302.4" cy="1380.1" r="4.9"/><circle cx="307.9" cy="1401.5" r="4.9"/><circle cx="317.8" cy="1399.5" r="4.9"/><circle cx="315.7" cy="1455" r="4.9"/><circle cx="337.4" cy="1353" r="4.9"/><circle cx="341.9" cy="1345.7" r="4.9"/><circle cx="357.9" cy="1314.3" r="4.9"/><circle cx="364.7" cy="1487.2" r="4.9"/><circle cx="371.9" cy="1403.2" r="4.9"/><circle cx="400.1" cy="1398.6" r="4.9"/><circle cx="411.5" cy="1369.7" r="4.9"/><circle cx="424.2" cy="1359.7" r="4.9"/><circle cx="437.8" cy="1422" r="4.9"/><circle cx="497.1" cy="1488.2" r="4.9"/><circle cx="532.9" cy="1461.7" r="4.9"/><circle cx="595.5" cy="1482" r="4.9"/><circle cx="726.3" cy="1377.4" r="4.9"/></g></g><line x1="93.4" y1="269.7" x2="1016.4" y2="269.7" stroke="#000" stroke-width="2.78" stroke-dasharray="10.15 4.46" stroke-dashoffset="5.31"/><line x1="93.4" y1="786" x2="1016.4" y2="786" stroke="#000" stroke-width="2.78" stroke-dasharray="10.15 4.46" stroke-dashoffset="5.31"/><line x1="93.4" y1="1302.3" x2="1016.4" y2="1302.3" stroke="#000" stroke-width="2.78" stroke-dasharray="10.15 4.46" stroke-dashoffset="5.31"/><path d="M93.1 310.2C94.1 308.4 96.5 306.2 99.4 299.2C102.3 292.1 106.7 276.8 110.4 267.9C114.1 259 118.4 252.2 121.4 245.9C124.4 239.6 126.2 234.7 128.5 230C130.8 225.3 133.2 220.7 135.5 217.6C137.8 214.5 139.7 213.3 142 211.5C144.3 209.7 146 208.8 149.6 206.7C153.2 204.6 159 200.9 163.7 198.8C168.4 196.7 174 195 177.9 194.1C181.8 193.2 183.7 193 187.3 193.3C191 193.6 195.6 195.3 199.8 195.7C204 196.1 208.2 195.2 212.4 195.7C216.6 196.2 221.3 197.9 225 198.8C228.7 199.7 231.9 200.2 234.4 201.2C236.9 202.2 238 202.8 240 204.9C242 207 244.2 210.2 246.3 213.5C248.4 216.8 250.4 220.8 252.5 224.5C254.6 228.2 256.7 232.1 258.8 235.5C260.9 238.9 263 241.9 265.1 244.9C267.2 247.9 269.3 250.4 271.4 253.5C273.5 256.6 275.5 260.2 277.6 263.7C279.7 267.2 281.8 271.6 283.9 274.7C286 277.8 288.1 279.6 290.2 282.5C292.3 285.4 294.4 288.3 296.5 292C298.6 295.7 300.6 300.6 302.7 304.5C304.8 308.4 306.9 311.8 309 315.5C311.1 319.2 313.2 323.1 315.3 326.5C317.4 329.9 319.5 332.5 321.6 335.9C323.7 339.3 325.7 343.1 327.8 346.9C329.9 350.7 332 354.7 334.1 358.6C336.2 362.5 338.3 366.3 340.4 370.4C342.5 374.4 344.6 379 346.7 382.9C348.8 386.8 350.8 390.5 352.9 393.9C355 397.3 357.1 400.7 359.2 403.3C361.3 405.9 363.1 407.5 365.5 409.6C367.9 411.7 370.7 414.1 373.3 415.9C375.9 417.7 378.6 419.4 381.2 420.6C383.8 421.8 386.2 422.7 389 423C391.8 423.3 395 422.9 397.8 422.2C400.6 421.5 403.1 420.6 405.7 419C408.3 417.4 410.9 415.1 413.5 412.7C416.1 410.3 418.8 408 421.4 404.9C424 401.8 426.6 397.7 429.2 393.9C431.8 390.1 434.5 386.1 437.1 382.2C439.7 378.3 442.3 374.5 444.9 370.4C447.5 366.3 450.1 362.1 452.7 357.8C455.3 353.5 458 349.2 460.6 344.5C463.2 339.8 465.8 334.6 468.4 329.6C471 324.6 473.7 319.7 476.3 314.7C478.9 309.7 481.5 304.9 484.1 299.8C486.7 294.7 489.4 289.3 492 284.1C494.6 278.9 497.2 273.2 499.8 268.4C502.4 263.6 505 259 507.6 255.1C510.2 251.2 512.9 248.2 515.5 244.9C518.1 241.6 520.7 238.8 523.3 235.5C525.9 232.2 528.4 228.7 531.2 225.3C534 221.9 536.7 218.3 540 215C543.3 211.7 547.2 208.4 550.8 205.3C554.4 202.2 558 199.4 561.6 196.7C565.2 194 569.4 190.7 572.4 189.1C575.4 187.5 577.6 188.2 579.9 187C582.2 185.8 584.1 182.9 586.4 181.6C588.7 180.3 590.8 179.7 593.9 179C597 178.3 601.1 177.4 604.7 177.3C608.3 177.2 611.9 177.6 615.5 178.3C619.1 179 622.7 180.6 626.3 181.6C629.9 182.6 633.9 183.5 637.1 184.2C640.3 184.9 643.2 185.4 645.7 185.9C648.2 186.4 649.7 185.8 652.2 187C654.7 188.2 657.9 191.2 660.8 193.4C663.7 195.6 666.5 197.4 669.4 199.9C672.3 202.4 675.1 205.6 678 208.5C680.9 211.4 683.8 214.1 686.7 217.2C689.6 220.3 692.1 223.5 695.3 226.9C698.5 230.3 702.5 234.5 706.1 237.7C709.7 240.9 713.3 243.1 716.9 246.3C720.5 249.5 724.1 253.5 727.7 257.1C731.3 260.7 734.6 264.3 738.4 267.9C742.2 271.5 746 274.4 750.3 278.6C754.6 282.8 759.4 288.4 764.1 292.9C768.9 297.3 774.1 301.1 778.8 305.3C783.5 309.5 787.4 314.1 792.1 317.9C796.8 321.7 802.1 324.3 806.8 328.2C811.4 332.1 815.4 337.1 820 341.5C824.6 345.9 830.8 351.5 834.7 354.7C838.6 357.9 839.1 357.9 843.5 360.6C847.9 363.3 854.8 366.2 861.2 370.9C867.6 375.5 873.5 382.6 881.8 388.5C890.1 394.4 901.4 400.5 911.2 406.2C921 411.9 930.8 417.5 940.6 422.9C950.4 428.3 960.9 433.4 970 438.5C979.1 443.6 990.8 450.8 995 453.2" fill="none" stroke="#f00" stroke-width="2.78" stroke-linejoin="round" stroke-linecap="butt" clip-path="url(#c0)"/><path d="M93.1 683.5C94.6 685 99.5 690 102.4 692.7C105.3 695.5 107.5 698.2 110.6 700C113.7 701.8 117.5 703 120.9 703.7C124.3 704.4 127.8 704.3 131.2 704.1C134.6 703.9 138.1 703.5 141.5 702.6C144.9 701.7 148.4 700.4 151.8 698.9C155.2 697.4 158.7 695.6 162.1 693.4C165.5 691.2 169.5 687.8 172.4 685.5C175.3 683.2 177.2 680.8 179.6 679.4C182 678 184.6 677.7 186.8 676.9C189 676.1 190.9 675.1 192.9 674.8C194.9 674.4 197.6 674.4 199.1 674.8C200.6 675.2 201 675.7 202.2 677.3C203.4 678.9 205 682.8 206.3 684.5C207.6 686.2 208.7 687.2 209.8 687.6C210.9 688 211.8 686.1 213.1 686.6C214.4 687.1 215.9 689.4 217.7 690.7C219.5 692 222.4 693.4 223.8 694.2C225.2 695.1 224.2 693.5 225.9 695.8C227.6 698.1 231.3 704.4 234.1 708.2C236.8 712 239.3 714.9 242.4 718.5C245.5 722.1 249.4 725.8 252.7 729.8C255.9 733.8 259.2 737.9 261.9 742.2C264.6 746.5 266.9 750.4 269.1 755.5C271.3 760.6 272.9 767.5 275.3 773C277.7 778.5 281.1 783.7 283.5 788.5C285.9 793.3 287.9 797.2 290 801.6C292.1 806 294.1 810.4 296.2 815C298.3 819.6 300.3 824.2 302.4 829.4C304.4 834.5 306.4 840.8 308.5 845.9C310.6 851 312.6 855.3 314.7 860.3C316.8 865.3 318.8 871.2 320.9 875.7C323 880.2 325.1 883.5 327.1 887.1C329.2 890.7 331.1 894 333.2 897.4C335.2 900.8 337.3 904.8 339.4 907.7C341.5 910.6 343.5 913.1 345.6 914.9C347.7 916.7 349.4 917 351.8 918.4C354.2 919.8 357.3 921.4 360 923.1C362.7 924.8 366.1 927.5 368.2 928.7C370.3 929.9 370.7 930 372.4 930.3C374.1 930.6 376.4 930.1 378.5 930.3C380.6 930.5 382.6 931.4 384.7 931.7C386.8 932.1 389.3 932.8 390.9 932.4C392.4 932 392.8 930.7 394 929.3C395.2 927.9 396.7 924.8 398.1 924.1C399.5 923.4 400.5 925.9 402.2 925.2C403.9 924.5 406.5 921.4 408.4 920C410.3 918.6 411.3 919.1 413.5 916.9C415.7 914.7 419.1 910.2 421.8 906.6C424.6 903 427.3 899.2 430 895.3C432.7 891.3 435.4 887 438.2 882.9C440.9 878.8 443.8 874.2 446.5 870.6C449.2 867 452.5 864 454.7 861.3C456.9 858.5 458.2 857 459.9 854.1C461.6 851.2 463.1 846.5 465 843.8C466.9 841 469.1 840 471.2 837.6C473.3 835.2 475 833 477.4 829.4C479.8 825.8 482.9 820.3 485.6 816C488.3 811.7 491.8 806.5 493.8 803.7C495.9 800.9 495.9 801.1 497.9 799.1C499.9 797.1 502.8 794.6 505.9 791.9C509 789.1 513 786.1 516.5 782.6C520 779.1 523.6 774.4 527.1 770.7C530.6 767.1 534.1 764 537.6 760.7C541.1 757.4 544.2 754.1 548.2 750.9C552.2 747.7 557.1 743.8 561.5 741.6C565.9 739.4 571 738.7 574.7 737.6C578.5 736.5 580.7 736.1 584 735C587.3 733.9 591.3 731.8 594.6 731C597.9 730.2 600 731.2 603.8 730.2C607.5 729.2 612.2 726.4 617.1 724.9C622 723.4 628.9 722.8 632.9 721.2C636.9 719.6 637.8 717.9 640.9 715.1C644 712.3 648 708.4 651.5 704.6C655 700.9 658.9 695.6 662 692.6C665.1 689.6 666.9 687.8 670 686.8C673.1 685.8 676.2 685.8 680.6 686.8C685 687.8 692.1 689.9 696.5 692.6C700.9 695.3 703.5 699 707 703.2C710.5 707.4 714.1 712.7 717.6 717.8C721.1 722.9 724.7 727.8 728.2 733.7C731.7 739.7 735.3 746.5 738.8 753.5C742.3 760.5 746.9 770 749.4 776C751.9 782 750.7 781.7 753.7 789.4C756.7 797.1 762.9 811.8 767.5 822.3C772.1 832.8 776.6 843.8 781.2 852.5C785.8 861.2 790.8 869.2 794.9 874.5C799 879.8 801.8 881.6 805.9 884.1C810 886.6 813.6 887.5 819.6 889.6C825.6 891.7 835.2 894 841.6 896.5C848 899 850.7 901.3 858 904.7C865.3 908.1 875.4 912.6 885.5 917C895.6 921.4 907 926.1 918.4 930.8C929.8 935.5 940.6 939.8 954.1 945.3C967.6 950.8 991.9 960.6 999.4 963.7" fill="none" stroke="#f00" stroke-width="2.78" stroke-linejoin="round" stroke-linecap="butt" clip-path="url(#c1)"/><rect x="93.4" y="11.60" width="923" height="516.27" fill="none" stroke="#000" stroke-width="1.11"/><line x1="88.4" y1="527.87" x2="93.4" y2="527.87" stroke="#000" stroke-width="1.11"/><text x="83.6" y="538.42" text-anchor="end" style="font-family:'DejaVu Sans','Liberation Sans',sans-serif;font-size:27.78px">−8</text><line x1="88.4" y1="463.34" x2="93.4" y2="463.34" stroke="#000" stroke-width="1.11"/><text x="83.6" y="473.89" text-anchor="end" style="font-family:'DejaVu Sans','Liberation Sans',sans-serif;font-size:27.78px">−6</text><line x1="88.4" y1="398.80" x2="93.4" y2="398.80" stroke="#000" stroke-width="1.11"/><text x="83.6" y="409.35" text-anchor="end" style="font-family:'DejaVu Sans','Liberation Sans',sans-serif;font-size:27.78px">−4</text><line x1="88.4" y1="334.27" x2="93.4" y2="334.27" stroke="#000" stroke-width="1.11"/><text x="83.6" y="344.82" text-anchor="end" style="font-family:'DejaVu Sans','Liberation Sans',sans-serif;font-size:27.78px">−2</text><line x1="88.4" y1="269.74" x2="93.4" y2="269.74" stroke="#000" stroke-width="1.11"/><text x="83.6" y="280.29" text-anchor="end" style="font-family:'DejaVu Sans','Liberation Sans',sans-serif;font-size:27.78px">0</text><line x1="88.4" y1="205.20" x2="93.4" y2="205.20" stroke="#000" stroke-width="1.11"/><text x="83.6" y="215.75" text-anchor="end" style="font-family:'DejaVu Sans','Liberation Sans',sans-serif;font-size:27.78px">2</text><line x1="88.4" y1="140.67" x2="93.4" y2="140.67" stroke="#000" stroke-width="1.11"/><text x="83.6" y="151.22" text-anchor="end" style="font-family:'DejaVu Sans','Liberation Sans',sans-serif;font-size:27.78px">4</text><line x1="88.4" y1="76.13" x2="93.4" y2="76.13" stroke="#000" stroke-width="1.11"/><text x="83.6" y="86.68" text-anchor="end" style="font-family:'DejaVu Sans','Liberation Sans',sans-serif;font-size:27.78px">6</text><line x1="88.4" y1="11.60" x2="93.4" y2="11.60" stroke="#000" stroke-width="1.11"/><text x="83.6" y="22.15" text-anchor="end" style="font-family:'DejaVu Sans','Liberation Sans',sans-serif;font-size:27.78px">8</text><g transform="translate(29.7 269.74) rotate(-90)"><text x="0" y="0" text-anchor="middle" style="font-family:'DejaVu Sans','Liberation Sans',sans-serif;font-size:33.33px"><tspan dx="-1.4">v</tspan><tspan font-size="23.3px" dy="5">R</tspan><tspan dy="-5" dx="1.4"> [km s</tspan><tspan font-size="23.3px" dy="-12">−1</tspan><tspan dy="12">]</tspan></text></g><path d="M7.6 359.0 C4.2 356.0 3.4 349.0 4.6 341.5 C5.8 334.0 8.6 327.0 3.3 322.0" fill="none" stroke="#000" stroke-width="1.1"/><rect x="93.4" y="527.87" width="923" height="516.27" fill="none" stroke="#000" stroke-width="1.11"/><line x1="88.4" y1="1044.14" x2="93.4" y2="1044.14" stroke="#000" stroke-width="1.11"/><text x="83.6" y="1054.69" text-anchor="end" style="font-family:'DejaVu Sans','Liberation Sans',sans-serif;font-size:27.78px">−8</text><line x1="88.4" y1="979.61" x2="93.4" y2="979.61" stroke="#000" stroke-width="1.11"/><text x="83.6" y="990.16" text-anchor="end" style="font-family:'DejaVu Sans','Liberation Sans',sans-serif;font-size:27.78px">−6</text><line x1="88.4" y1="915.07" x2="93.4" y2="915.07" stroke="#000" stroke-width="1.11"/><text x="83.6" y="925.62" text-anchor="end" style="font-family:'DejaVu Sans','Liberation Sans',sans-serif;font-size:27.78px">−4</text><line x1="88.4" y1="850.54" x2="93.4" y2="850.54" stroke="#000" stroke-width="1.11"/><text x="83.6" y="861.09" text-anchor="end" style="font-family:'DejaVu Sans','Liberation Sans',sans-serif;font-size:27.78px">−2</text><line x1="88.4" y1="786.00" x2="93.4" y2="786.00" stroke="#000" stroke-width="1.11"/><text x="83.6" y="796.55" text-anchor="end" style="font-family:'DejaVu Sans','Liberation Sans',sans-serif;font-size:27.78px">0</text><line x1="88.4" y1="721.47" x2="93.4" y2="721.47" stroke="#000" stroke-width="1.11"/><text x="83.6" y="732.02" text-anchor="end" style="font-family:'DejaVu Sans','Liberation Sans',sans-serif;font-size:27.78px">2</text><line x1="88.4" y1="656.94" x2="93.4" y2="656.94" stroke="#000" stroke-width="1.11"/><text x="83.6" y="667.49" text-anchor="end" style="font-family:'DejaVu Sans','Liberation Sans',sans-serif;font-size:27.78px">4</text><line x1="88.4" y1="592.40" x2="93.4" y2="592.40" stroke="#000" stroke-width="1.11"/><text x="83.6" y="602.95" text-anchor="end" style="font-family:'DejaVu Sans','Liberation Sans',sans-serif;font-size:27.78px">6</text><g transform="translate(29.7 786.00) rotate(-90)"><text x="0" y="0" text-anchor="middle" style="font-family:'DejaVu Sans','Liberation Sans',sans-serif;font-size:33.33px"><tspan dx="-1.4">v</tspan><tspan font-size="23.3px" dy="5">R</tspan><tspan dy="-5" dx="1.4"> [km s</tspan><tspan font-size="23.3px" dy="-12">−1</tspan><tspan dy="12">]</tspan></text></g><path d="M7.6 875.3 C4.2 872.3 3.4 865.3 4.6 857.8 C5.8 850.3 8.6 843.3 3.3 838.3" fill="none" stroke="#000" stroke-width="1.1"/><rect x="93.4" y="1044.13" width="923" height="516.27" fill="none" stroke="#000" stroke-width="1.11"/><line x1="88.4" y1="1560.40" x2="93.4" y2="1560.40" stroke="#000" stroke-width="1.11"/><text x="83.6" y="1570.95" text-anchor="end" style="font-family:'DejaVu Sans','Liberation Sans',sans-serif;font-size:27.78px">−8</text><line x1="88.4" y1="1495.87" x2="93.4" y2="1495.87" stroke="#000" stroke-width="1.11"/><text x="83.6" y="1506.42" text-anchor="end" style="font-family:'DejaVu Sans','Liberation Sans',sans-serif;font-size:27.78px">−6</text><line x1="88.4" y1="1431.33" x2="93.4" y2="1431.33" stroke="#000" stroke-width="1.11"/><text x="83.6" y="1441.88" text-anchor="end" style="font-family:'DejaVu Sans','Liberation Sans',sans-serif;font-size:27.78px">−4</text><line x1="88.4" y1="1366.80" x2="93.4" y2="1366.80" stroke="#000" stroke-width="1.11"/><text x="83.6" y="1377.35" text-anchor="end" style="font-family:'DejaVu Sans','Liberation Sans',sans-serif;font-size:27.78px">−2</text><line x1="88.4" y1="1302.27" x2="93.4" y2="1302.27" stroke="#000" stroke-width="1.11"/><text x="83.6" y="1312.82" text-anchor="end" style="font-family:'DejaVu Sans','Liberation Sans',sans-serif;font-size:27.78px">0</text><line x1="88.4" y1="1237.73" x2="93.4" y2="1237.73" stroke="#000" stroke-width="1.11"/><text x="83.6" y="1248.28" text-anchor="end" style="font-family:'DejaVu Sans','Liberation Sans',sans-serif;font-size:27.78px">2</text><line x1="88.4" y1="1173.20" x2="93.4" y2="1173.20" stroke="#000" stroke-width="1.11"/><text x="83.6" y="1183.75" text-anchor="end" style="font-family:'DejaVu Sans','Liberation Sans',sans-serif;font-size:27.78px">4</text><line x1="88.4" y1="1108.66" x2="93.4" y2="1108.66" stroke="#000" stroke-width="1.11"/><text x="83.6" y="1119.21" text-anchor="end" style="font-family:'DejaVu Sans','Liberation Sans',sans-serif;font-size:27.78px">6</text><g transform="translate(29.7 1302.27) rotate(-90)"><text x="0" y="0" text-anchor="middle" style="font-family:'DejaVu Sans','Liberation Sans',sans-serif;font-size:33.33px"><tspan dx="-1.4">v</tspan><tspan font-size="23.3px" dy="5">R</tspan><tspan dy="-5" dx="1.4"> [km s</tspan><tspan font-size="23.3px" dy="-12">−1</tspan><tspan dy="12">]</tspan></text></g><path d="M7.6 1391.6 C4.2 1388.6 3.4 1381.6 4.6 1374.1 C5.8 1366.6 8.6 1359.6 3.3 1354.6" fill="none" stroke="#000" stroke-width="1.1"/><line x1="167.25" y1="1560.40" x2="167.25" y2="1565.00" stroke="#000" stroke-width="1.11"/><text x="167.25" y="1591.2" text-anchor="middle" style="font-family:'DejaVu Sans','Liberation Sans',sans-serif;font-size:27.78px">6</text><line x1="314.97" y1="1560.40" x2="314.97" y2="1565.00" stroke="#000" stroke-width="1.11"/><text x="314.97" y="1591.2" text-anchor="middle" style="font-family:'DejaVu Sans','Liberation Sans',sans-serif;font-size:27.78px">8</text><line x1="462.68" y1="1560.40" x2="462.68" y2="1565.00" stroke="#000" stroke-width="1.11"/><text x="462.68" y="1591.2" text-anchor="middle" style="font-family:'DejaVu Sans','Liberation Sans',sans-serif;font-size:27.78px">10</text><line x1="610.38" y1="1560.40" x2="610.38" y2="1565.00" stroke="#000" stroke-width="1.11"/><text x="610.38" y="1591.2" text-anchor="middle" style="font-family:'DejaVu Sans','Liberation Sans',sans-serif;font-size:27.78px">12</text><line x1="758.10" y1="1560.40" x2="758.10" y2="1565.00" stroke="#000" stroke-width="1.11"/><text x="758.10" y="1591.2" text-anchor="middle" style="font-family:'DejaVu Sans','Liberation Sans',sans-serif;font-size:27.78px">14</text><line x1="905.81" y1="1560.40" x2="905.81" y2="1565.00" stroke="#000" stroke-width="1.11"/><text x="905.81" y="1591.2" text-anchor="middle" style="font-family:'DejaVu Sans','Liberation Sans',sans-serif;font-size:27.78px">16</text><text x="554.90" y="1627.6" text-anchor="middle" style="font-family:'DejaVu Sans','Liberation Sans',sans-serif;font-size:33.33px">R [kpc]</text><text x="536" y="425" style="font-family:'DejaVu Sans','Liberation Sans',sans-serif;font-size:33.33px">Gaia</text><text x="536" y="941" style="font-family:'DejaVu Sans','Liberation Sans',sans-serif;font-size:33.33px">Gaia-APOGEE Thin Disk</text><text x="536" y="1457" style="font-family:'DejaVu Sans','Liberation Sans',sans-serif;font-size:33.33px">Gaia-APOGEE Thick Disk</text>
</svg></body></html>
